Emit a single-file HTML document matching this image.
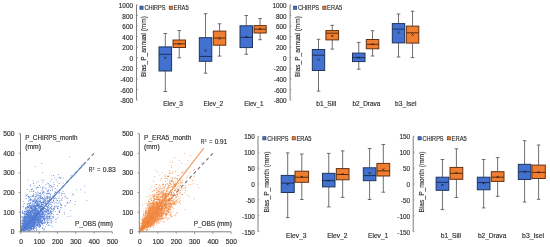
<!DOCTYPE html>
<html><head><meta charset="utf-8"><style>
html,body{margin:0;padding:0;background:#fff;}
svg{display:block;font-family:"Liberation Sans", sans-serif;will-change:transform;}
text{fill:#2e2e2e;stroke:#2e2e2e;stroke-width:0.15px;}
</style></head><body>
<svg width="550" height="247" viewBox="0 0 550 247">
<rect width="550" height="247" fill="#fff"/>
<line x1="136.50" y1="4.90" x2="136.50" y2="100.12" stroke="#808080" stroke-width="1"/>
<line x1="136.50" y1="4.90" x2="137.80" y2="4.90" stroke="#808080" stroke-width="0.8"/>
<text x="133.00" y="8.00" font-size="6.4" text-anchor="end">1000</text>
<line x1="136.50" y1="15.48" x2="137.80" y2="15.48" stroke="#808080" stroke-width="0.8"/>
<text x="133.00" y="18.58" font-size="6.4" text-anchor="end">800</text>
<line x1="136.50" y1="26.06" x2="137.80" y2="26.06" stroke="#808080" stroke-width="0.8"/>
<text x="133.00" y="29.16" font-size="6.4" text-anchor="end">600</text>
<line x1="136.50" y1="36.64" x2="137.80" y2="36.64" stroke="#808080" stroke-width="0.8"/>
<text x="133.00" y="39.74" font-size="6.4" text-anchor="end">400</text>
<line x1="136.50" y1="47.22" x2="137.80" y2="47.22" stroke="#808080" stroke-width="0.8"/>
<text x="133.00" y="50.32" font-size="6.4" text-anchor="end">200</text>
<line x1="136.50" y1="57.80" x2="137.80" y2="57.80" stroke="#808080" stroke-width="0.8"/>
<text x="133.00" y="60.90" font-size="6.4" text-anchor="end">0</text>
<line x1="136.50" y1="68.38" x2="137.80" y2="68.38" stroke="#808080" stroke-width="0.8"/>
<text x="133.00" y="71.48" font-size="6.4" text-anchor="end">-200</text>
<line x1="136.50" y1="78.96" x2="137.80" y2="78.96" stroke="#808080" stroke-width="0.8"/>
<text x="133.00" y="82.06" font-size="6.4" text-anchor="end">-400</text>
<line x1="136.50" y1="89.54" x2="137.80" y2="89.54" stroke="#808080" stroke-width="0.8"/>
<text x="133.00" y="92.64" font-size="6.4" text-anchor="end">-600</text>
<line x1="136.50" y1="100.12" x2="137.80" y2="100.12" stroke="#808080" stroke-width="0.8"/>
<text x="133.00" y="103.22" font-size="6.4" text-anchor="end">-800</text>
<text transform="translate(146.40,46.60) rotate(-90)" x="0" y="0" font-size="6.7" text-anchor="middle" textLength="61.0" lengthAdjust="spacingAndGlyphs">Bias_P_annual (mm)</text>
<rect x="139.90" y="6.10" width="3.2" height="3.2" fill="#4371D0" stroke="#1b2f58" stroke-width="0.6"/>
<text x="144.40" y="10.30" font-size="6.5" text-anchor="start" textLength="21.1" lengthAdjust="spacingAndGlyphs">CHIRPS</text>
<rect x="169.20" y="6.10" width="3.2" height="3.2" fill="#F07E31" stroke="#5c2c0c" stroke-width="0.6"/>
<text x="173.50" y="10.30" font-size="6.5" text-anchor="start" textLength="15.2" lengthAdjust="spacingAndGlyphs">ERA5</text>
<text x="163.20" y="106.00" font-size="6.5" text-anchor="start" textLength="19.6" lengthAdjust="spacingAndGlyphs">Elev_3</text>
<text x="203.50" y="106.00" font-size="6.5" text-anchor="start" textLength="19.6" lengthAdjust="spacingAndGlyphs">Elev_2</text>
<text x="244.30" y="106.00" font-size="6.5" text-anchor="start" textLength="19.2" lengthAdjust="spacingAndGlyphs">Elev_1</text>
<line x1="165.30" y1="33.50" x2="165.30" y2="46.90" stroke="#5f5f5f" stroke-width="0.9"/>
<line x1="165.30" y1="71.00" x2="165.30" y2="91.50" stroke="#5f5f5f" stroke-width="0.9"/>
<line x1="163.50" y1="33.50" x2="167.10" y2="33.50" stroke="#5f5f5f" stroke-width="0.9"/>
<line x1="163.50" y1="91.50" x2="167.10" y2="91.50" stroke="#5f5f5f" stroke-width="0.9"/>
<rect x="159.0" y="46.9" width="12.60" height="24.10" fill="#4371D0" stroke="#1b2f58" stroke-width="0.95"/>
<line x1="159.00" y1="54.30" x2="171.60" y2="54.30" stroke="#1b2f58" stroke-width="1.0"/>
<path d="M164.30 56.70L166.30 58.70M164.30 58.70L166.30 56.70" stroke="#1a1a1a" stroke-width="0.7"/>
<line x1="179.25" y1="30.50" x2="179.25" y2="40.00" stroke="#5f5f5f" stroke-width="0.9"/>
<line x1="179.25" y1="47.50" x2="179.25" y2="57.80" stroke="#5f5f5f" stroke-width="0.9"/>
<line x1="177.45" y1="30.50" x2="181.05" y2="30.50" stroke="#5f5f5f" stroke-width="0.9"/>
<line x1="177.45" y1="57.80" x2="181.05" y2="57.80" stroke="#5f5f5f" stroke-width="0.9"/>
<rect x="173.0" y="40.0" width="12.50" height="7.50" fill="#F07E31" stroke="#5c2c0c" stroke-width="0.95"/>
<line x1="173.00" y1="43.80" x2="185.50" y2="43.80" stroke="#5c2c0c" stroke-width="1.0"/>
<path d="M178.25 42.80L180.25 44.80M178.25 44.80L180.25 42.80" stroke="#1a1a1a" stroke-width="0.7"/>
<line x1="205.55" y1="13.70" x2="205.55" y2="37.70" stroke="#5f5f5f" stroke-width="0.9"/>
<line x1="205.55" y1="61.30" x2="205.55" y2="73.20" stroke="#5f5f5f" stroke-width="0.9"/>
<line x1="203.75" y1="13.70" x2="207.35" y2="13.70" stroke="#5f5f5f" stroke-width="0.9"/>
<line x1="203.75" y1="73.20" x2="207.35" y2="73.20" stroke="#5f5f5f" stroke-width="0.9"/>
<rect x="199.3" y="37.7" width="12.50" height="23.60" fill="#4371D0" stroke="#1b2f58" stroke-width="0.95"/>
<line x1="199.30" y1="56.40" x2="211.80" y2="56.40" stroke="#1b2f58" stroke-width="1.0"/>
<path d="M204.55 49.60L206.55 51.60M204.55 51.60L206.55 49.60" stroke="#1a1a1a" stroke-width="0.7"/>
<line x1="219.55" y1="23.80" x2="219.55" y2="31.10" stroke="#5f5f5f" stroke-width="0.9"/>
<line x1="219.55" y1="45.20" x2="219.55" y2="56.10" stroke="#5f5f5f" stroke-width="0.9"/>
<line x1="217.75" y1="23.80" x2="221.35" y2="23.80" stroke="#5f5f5f" stroke-width="0.9"/>
<line x1="217.75" y1="56.10" x2="221.35" y2="56.10" stroke="#5f5f5f" stroke-width="0.9"/>
<rect x="213.3" y="31.1" width="12.50" height="14.10" fill="#F07E31" stroke="#5c2c0c" stroke-width="0.95"/>
<line x1="213.30" y1="38.00" x2="225.80" y2="38.00" stroke="#5c2c0c" stroke-width="1.0"/>
<path d="M218.55 37.50L220.55 39.50M218.55 39.50L220.55 37.50" stroke="#1a1a1a" stroke-width="0.7"/>
<line x1="246.25" y1="15.50" x2="246.25" y2="25.80" stroke="#5f5f5f" stroke-width="0.9"/>
<line x1="246.25" y1="47.60" x2="246.25" y2="54.30" stroke="#5f5f5f" stroke-width="0.9"/>
<line x1="244.45" y1="15.50" x2="248.05" y2="15.50" stroke="#5f5f5f" stroke-width="0.9"/>
<line x1="244.45" y1="54.30" x2="248.05" y2="54.30" stroke="#5f5f5f" stroke-width="0.9"/>
<rect x="240.0" y="25.8" width="12.50" height="21.80" fill="#4371D0" stroke="#1b2f58" stroke-width="0.95"/>
<line x1="240.00" y1="37.30" x2="252.50" y2="37.30" stroke="#1b2f58" stroke-width="1.0"/>
<path d="M245.25 35.90L247.25 37.90M245.25 37.90L247.25 35.90" stroke="#1a1a1a" stroke-width="0.7"/>
<line x1="260.10" y1="18.50" x2="260.10" y2="25.60" stroke="#5f5f5f" stroke-width="0.9"/>
<line x1="260.10" y1="33.00" x2="260.10" y2="39.70" stroke="#5f5f5f" stroke-width="0.9"/>
<line x1="258.30" y1="18.50" x2="261.90" y2="18.50" stroke="#5f5f5f" stroke-width="0.9"/>
<line x1="258.30" y1="39.70" x2="261.90" y2="39.70" stroke="#5f5f5f" stroke-width="0.9"/>
<rect x="254.0" y="25.6" width="12.20" height="7.40" fill="#F07E31" stroke="#5c2c0c" stroke-width="0.95"/>
<line x1="254.00" y1="29.20" x2="266.20" y2="29.20" stroke="#5c2c0c" stroke-width="1.0"/>
<path d="M259.10 27.80L261.10 29.80M259.10 29.80L261.10 27.80" stroke="#1a1a1a" stroke-width="0.7"/>
<line x1="290.10" y1="4.90" x2="290.10" y2="100.12" stroke="#808080" stroke-width="1"/>
<line x1="290.10" y1="4.90" x2="291.40" y2="4.90" stroke="#808080" stroke-width="0.8"/>
<text x="286.60" y="8.00" font-size="6.4" text-anchor="end">1000</text>
<line x1="290.10" y1="15.48" x2="291.40" y2="15.48" stroke="#808080" stroke-width="0.8"/>
<text x="286.60" y="18.58" font-size="6.4" text-anchor="end">800</text>
<line x1="290.10" y1="26.06" x2="291.40" y2="26.06" stroke="#808080" stroke-width="0.8"/>
<text x="286.60" y="29.16" font-size="6.4" text-anchor="end">600</text>
<line x1="290.10" y1="36.64" x2="291.40" y2="36.64" stroke="#808080" stroke-width="0.8"/>
<text x="286.60" y="39.74" font-size="6.4" text-anchor="end">400</text>
<line x1="290.10" y1="47.22" x2="291.40" y2="47.22" stroke="#808080" stroke-width="0.8"/>
<text x="286.60" y="50.32" font-size="6.4" text-anchor="end">200</text>
<line x1="290.10" y1="57.80" x2="291.40" y2="57.80" stroke="#808080" stroke-width="0.8"/>
<text x="286.60" y="60.90" font-size="6.4" text-anchor="end">0</text>
<line x1="290.10" y1="68.38" x2="291.40" y2="68.38" stroke="#808080" stroke-width="0.8"/>
<text x="286.60" y="71.48" font-size="6.4" text-anchor="end">-200</text>
<line x1="290.10" y1="78.96" x2="291.40" y2="78.96" stroke="#808080" stroke-width="0.8"/>
<text x="286.60" y="82.06" font-size="6.4" text-anchor="end">-400</text>
<line x1="290.10" y1="89.54" x2="291.40" y2="89.54" stroke="#808080" stroke-width="0.8"/>
<text x="286.60" y="92.64" font-size="6.4" text-anchor="end">-600</text>
<line x1="290.10" y1="100.12" x2="291.40" y2="100.12" stroke="#808080" stroke-width="0.8"/>
<text x="286.60" y="103.22" font-size="6.4" text-anchor="end">-800</text>
<text transform="translate(300.00,46.60) rotate(-90)" x="0" y="0" font-size="6.7" text-anchor="middle" textLength="61.0" lengthAdjust="spacingAndGlyphs">Bias_P_annual (mm)</text>
<rect x="293.50" y="6.10" width="3.2" height="3.2" fill="#4371D0" stroke="#1b2f58" stroke-width="0.6"/>
<text x="298.00" y="10.30" font-size="6.5" text-anchor="start" textLength="21.1" lengthAdjust="spacingAndGlyphs">CHIRPS</text>
<rect x="322.80" y="6.10" width="3.2" height="3.2" fill="#F07E31" stroke="#5c2c0c" stroke-width="0.6"/>
<text x="327.10" y="10.30" font-size="6.5" text-anchor="start" textLength="15.2" lengthAdjust="spacingAndGlyphs">ERA5</text>
<text x="316.20" y="106.00" font-size="6.5" text-anchor="start" textLength="20.1" lengthAdjust="spacingAndGlyphs">b1_Sill</text>
<text x="352.40" y="106.00" font-size="6.5" text-anchor="start" textLength="28" lengthAdjust="spacingAndGlyphs">b2_Drava</text>
<text x="395.10" y="106.00" font-size="6.5" text-anchor="start" textLength="21.4" lengthAdjust="spacingAndGlyphs">b3_Isel</text>
<line x1="318.50" y1="39.30" x2="318.50" y2="49.50" stroke="#5f5f5f" stroke-width="0.9"/>
<line x1="318.50" y1="70.50" x2="318.50" y2="91.10" stroke="#5f5f5f" stroke-width="0.9"/>
<line x1="316.70" y1="39.30" x2="320.30" y2="39.30" stroke="#5f5f5f" stroke-width="0.9"/>
<line x1="316.70" y1="91.10" x2="320.30" y2="91.10" stroke="#5f5f5f" stroke-width="0.9"/>
<rect x="312.3" y="49.5" width="12.40" height="21.00" fill="#4371D0" stroke="#1b2f58" stroke-width="0.95"/>
<line x1="312.30" y1="55.20" x2="324.70" y2="55.20" stroke="#1b2f58" stroke-width="1.0"/>
<path d="M317.50 58.50L319.50 60.50M317.50 60.50L319.50 58.50" stroke="#1a1a1a" stroke-width="0.7"/>
<line x1="332.25" y1="25.30" x2="332.25" y2="30.60" stroke="#5f5f5f" stroke-width="0.9"/>
<line x1="332.25" y1="39.90" x2="332.25" y2="49.10" stroke="#5f5f5f" stroke-width="0.9"/>
<line x1="330.45" y1="25.30" x2="334.05" y2="25.30" stroke="#5f5f5f" stroke-width="0.9"/>
<line x1="330.45" y1="49.10" x2="334.05" y2="49.10" stroke="#5f5f5f" stroke-width="0.9"/>
<rect x="325.9" y="30.6" width="12.70" height="9.30" fill="#F07E31" stroke="#5c2c0c" stroke-width="0.95"/>
<line x1="325.90" y1="33.20" x2="338.60" y2="33.20" stroke="#5c2c0c" stroke-width="1.0"/>
<path d="M331.25 34.90L333.25 36.90M331.25 36.90L333.25 34.90" stroke="#1a1a1a" stroke-width="0.7"/>
<line x1="358.75" y1="42.40" x2="358.75" y2="53.10" stroke="#5f5f5f" stroke-width="0.9"/>
<line x1="358.75" y1="61.60" x2="358.75" y2="69.20" stroke="#5f5f5f" stroke-width="0.9"/>
<line x1="356.95" y1="42.40" x2="360.55" y2="42.40" stroke="#5f5f5f" stroke-width="0.9"/>
<line x1="356.95" y1="69.20" x2="360.55" y2="69.20" stroke="#5f5f5f" stroke-width="0.9"/>
<rect x="352.5" y="53.1" width="12.50" height="8.50" fill="#4371D0" stroke="#1b2f58" stroke-width="0.95"/>
<line x1="352.50" y1="57.60" x2="365.00" y2="57.60" stroke="#1b2f58" stroke-width="1.0"/>
<path d="M357.75 56.60L359.75 58.60M357.75 58.60L359.75 56.60" stroke="#1a1a1a" stroke-width="0.7"/>
<line x1="372.55" y1="30.70" x2="372.55" y2="39.50" stroke="#5f5f5f" stroke-width="0.9"/>
<line x1="372.55" y1="48.80" x2="372.55" y2="56.00" stroke="#5f5f5f" stroke-width="0.9"/>
<line x1="370.75" y1="30.70" x2="374.35" y2="30.70" stroke="#5f5f5f" stroke-width="0.9"/>
<line x1="370.75" y1="56.00" x2="374.35" y2="56.00" stroke="#5f5f5f" stroke-width="0.9"/>
<rect x="366.3" y="39.5" width="12.50" height="9.30" fill="#F07E31" stroke="#5c2c0c" stroke-width="0.95"/>
<line x1="366.30" y1="44.30" x2="378.80" y2="44.30" stroke="#5c2c0c" stroke-width="1.0"/>
<path d="M371.55 43.30L373.55 45.30M371.55 45.30L373.55 43.30" stroke="#1a1a1a" stroke-width="0.7"/>
<line x1="398.50" y1="14.00" x2="398.50" y2="23.60" stroke="#5f5f5f" stroke-width="0.9"/>
<line x1="398.50" y1="42.90" x2="398.50" y2="57.00" stroke="#5f5f5f" stroke-width="0.9"/>
<line x1="396.70" y1="14.00" x2="400.30" y2="14.00" stroke="#5f5f5f" stroke-width="0.9"/>
<line x1="396.70" y1="57.00" x2="400.30" y2="57.00" stroke="#5f5f5f" stroke-width="0.9"/>
<rect x="392.3" y="23.6" width="12.40" height="19.30" fill="#4371D0" stroke="#1b2f58" stroke-width="0.95"/>
<line x1="392.30" y1="29.10" x2="404.70" y2="29.10" stroke="#1b2f58" stroke-width="1.0"/>
<path d="M397.50 31.50L399.50 33.50M397.50 33.50L399.50 31.50" stroke="#1a1a1a" stroke-width="0.7"/>
<line x1="412.55" y1="11.20" x2="412.55" y2="26.10" stroke="#5f5f5f" stroke-width="0.9"/>
<line x1="412.55" y1="43.10" x2="412.55" y2="57.60" stroke="#5f5f5f" stroke-width="0.9"/>
<line x1="410.75" y1="11.20" x2="414.35" y2="11.20" stroke="#5f5f5f" stroke-width="0.9"/>
<line x1="410.75" y1="57.60" x2="414.35" y2="57.60" stroke="#5f5f5f" stroke-width="0.9"/>
<rect x="406.3" y="26.1" width="12.50" height="17.00" fill="#F07E31" stroke="#5c2c0c" stroke-width="0.95"/>
<line x1="406.30" y1="32.80" x2="418.80" y2="32.80" stroke="#5c2c0c" stroke-width="1.0"/>
<path d="M411.55 33.60L413.55 35.60M411.55 35.60L413.55 33.60" stroke="#1a1a1a" stroke-width="0.7"/>
<line x1="258.00" y1="136.30" x2="258.00" y2="231.70" stroke="#808080" stroke-width="1"/>
<line x1="258.00" y1="136.30" x2="259.30" y2="136.30" stroke="#808080" stroke-width="0.8"/>
<text x="254.90" y="139.20" font-size="6.4" text-anchor="end">150</text>
<line x1="258.00" y1="152.20" x2="259.30" y2="152.20" stroke="#808080" stroke-width="0.8"/>
<text x="254.90" y="155.10" font-size="6.4" text-anchor="end">100</text>
<line x1="258.00" y1="168.10" x2="259.30" y2="168.10" stroke="#808080" stroke-width="0.8"/>
<text x="254.90" y="171.00" font-size="6.4" text-anchor="end">50</text>
<line x1="258.00" y1="184.00" x2="259.30" y2="184.00" stroke="#808080" stroke-width="0.8"/>
<text x="254.90" y="186.90" font-size="6.4" text-anchor="end">0</text>
<line x1="258.00" y1="199.90" x2="259.30" y2="199.90" stroke="#808080" stroke-width="0.8"/>
<text x="254.90" y="202.80" font-size="6.4" text-anchor="end">-50</text>
<line x1="258.00" y1="215.80" x2="259.30" y2="215.80" stroke="#808080" stroke-width="0.8"/>
<text x="254.90" y="218.70" font-size="6.4" text-anchor="end">-100</text>
<line x1="258.00" y1="231.70" x2="259.30" y2="231.70" stroke="#808080" stroke-width="0.8"/>
<text x="254.90" y="234.60" font-size="6.4" text-anchor="end">-150</text>
<text transform="translate(268.80,182.10) rotate(-90)" x="0" y="0" font-size="6.7" text-anchor="middle" textLength="61.0" lengthAdjust="spacingAndGlyphs">Bias_P_month (mm)</text>
<rect x="262.80" y="136.70" width="3.2" height="3.2" fill="#4371D0" stroke="#1b2f58" stroke-width="0.6"/>
<text x="267.30" y="140.90" font-size="6.5" text-anchor="start" textLength="21.1" lengthAdjust="spacingAndGlyphs">CHIRPS</text>
<rect x="292.10" y="136.70" width="3.2" height="3.2" fill="#F07E31" stroke="#5c2c0c" stroke-width="0.6"/>
<text x="296.40" y="140.90" font-size="6.5" text-anchor="start" textLength="15.2" lengthAdjust="spacingAndGlyphs">ERA5</text>
<text x="286.10" y="238.00" font-size="6.5" text-anchor="start" textLength="20.5" lengthAdjust="spacingAndGlyphs">Elev_3</text>
<text x="327.20" y="238.00" font-size="6.5" text-anchor="start" textLength="20.3" lengthAdjust="spacingAndGlyphs">Elev_2</text>
<text x="368.10" y="238.00" font-size="6.5" text-anchor="start" textLength="20.1" lengthAdjust="spacingAndGlyphs">Elev_1</text>
<line x1="287.70" y1="152.90" x2="287.70" y2="175.40" stroke="#5f5f5f" stroke-width="0.9"/>
<line x1="287.70" y1="192.50" x2="287.70" y2="217.60" stroke="#5f5f5f" stroke-width="0.9"/>
<line x1="285.90" y1="152.90" x2="289.50" y2="152.90" stroke="#5f5f5f" stroke-width="0.9"/>
<line x1="285.90" y1="217.60" x2="289.50" y2="217.60" stroke="#5f5f5f" stroke-width="0.9"/>
<rect x="281.2" y="175.4" width="13.00" height="17.10" fill="#4371D0" stroke="#1b2f58" stroke-width="0.95"/>
<line x1="281.20" y1="183.10" x2="294.20" y2="183.10" stroke="#1b2f58" stroke-width="1.0"/>
<path d="M286.70 183.20L288.70 185.20M286.70 185.20L288.70 183.20" stroke="#1a1a1a" stroke-width="0.7"/>
<line x1="301.80" y1="154.10" x2="301.80" y2="171.20" stroke="#5f5f5f" stroke-width="0.9"/>
<line x1="301.80" y1="182.30" x2="301.80" y2="199.50" stroke="#5f5f5f" stroke-width="0.9"/>
<line x1="300.00" y1="154.10" x2="303.60" y2="154.10" stroke="#5f5f5f" stroke-width="0.9"/>
<line x1="300.00" y1="199.50" x2="303.60" y2="199.50" stroke="#5f5f5f" stroke-width="0.9"/>
<rect x="295.0" y="171.2" width="13.60" height="11.10" fill="#F07E31" stroke="#5c2c0c" stroke-width="0.95"/>
<line x1="295.00" y1="177.20" x2="308.60" y2="177.20" stroke="#5c2c0c" stroke-width="1.0"/>
<path d="M300.80 175.90L302.80 177.90M300.80 177.90L302.80 175.90" stroke="#1a1a1a" stroke-width="0.7"/>
<line x1="328.75" y1="153.40" x2="328.75" y2="173.30" stroke="#5f5f5f" stroke-width="0.9"/>
<line x1="328.75" y1="186.90" x2="328.75" y2="206.90" stroke="#5f5f5f" stroke-width="0.9"/>
<line x1="326.95" y1="153.40" x2="330.55" y2="153.40" stroke="#5f5f5f" stroke-width="0.9"/>
<line x1="326.95" y1="206.90" x2="330.55" y2="206.90" stroke="#5f5f5f" stroke-width="0.9"/>
<rect x="322.5" y="173.3" width="12.50" height="13.60" fill="#4371D0" stroke="#1b2f58" stroke-width="0.95"/>
<line x1="322.50" y1="180.60" x2="335.00" y2="180.60" stroke="#1b2f58" stroke-width="1.0"/>
<path d="M327.75 179.60L329.75 181.60M327.75 181.60L329.75 179.60" stroke="#1a1a1a" stroke-width="0.7"/>
<line x1="342.65" y1="150.90" x2="342.65" y2="168.60" stroke="#5f5f5f" stroke-width="0.9"/>
<line x1="342.65" y1="179.80" x2="342.65" y2="197.40" stroke="#5f5f5f" stroke-width="0.9"/>
<line x1="340.85" y1="150.90" x2="344.45" y2="150.90" stroke="#5f5f5f" stroke-width="0.9"/>
<line x1="340.85" y1="197.40" x2="344.45" y2="197.40" stroke="#5f5f5f" stroke-width="0.9"/>
<rect x="336.3" y="168.6" width="12.70" height="11.20" fill="#F07E31" stroke="#5c2c0c" stroke-width="0.95"/>
<line x1="336.30" y1="174.50" x2="349.00" y2="174.50" stroke="#5c2c0c" stroke-width="1.0"/>
<path d="M341.65 173.10L343.65 175.10M341.65 175.10L343.65 173.10" stroke="#1a1a1a" stroke-width="0.7"/>
<line x1="369.60" y1="148.50" x2="369.60" y2="167.80" stroke="#5f5f5f" stroke-width="0.9"/>
<line x1="369.60" y1="180.70" x2="369.60" y2="199.50" stroke="#5f5f5f" stroke-width="0.9"/>
<line x1="367.80" y1="148.50" x2="371.40" y2="148.50" stroke="#5f5f5f" stroke-width="0.9"/>
<line x1="367.80" y1="199.50" x2="371.40" y2="199.50" stroke="#5f5f5f" stroke-width="0.9"/>
<rect x="363.3" y="167.8" width="12.60" height="12.90" fill="#4371D0" stroke="#1b2f58" stroke-width="0.95"/>
<line x1="363.30" y1="175.60" x2="375.90" y2="175.60" stroke="#1b2f58" stroke-width="1.0"/>
<path d="M368.60 172.10L370.60 174.10M368.60 174.10L370.60 172.10" stroke="#1a1a1a" stroke-width="0.7"/>
<line x1="383.30" y1="144.50" x2="383.30" y2="163.40" stroke="#5f5f5f" stroke-width="0.9"/>
<line x1="383.30" y1="176.00" x2="383.30" y2="192.20" stroke="#5f5f5f" stroke-width="0.9"/>
<line x1="381.50" y1="144.50" x2="385.10" y2="144.50" stroke="#5f5f5f" stroke-width="0.9"/>
<line x1="381.50" y1="192.20" x2="385.10" y2="192.20" stroke="#5f5f5f" stroke-width="0.9"/>
<rect x="376.9" y="163.4" width="12.80" height="12.60" fill="#F07E31" stroke="#5c2c0c" stroke-width="0.95"/>
<line x1="376.90" y1="170.90" x2="389.70" y2="170.90" stroke="#5c2c0c" stroke-width="1.0"/>
<path d="M382.30 168.50L384.30 170.50M382.30 170.50L384.30 168.50" stroke="#1a1a1a" stroke-width="0.7"/>
<line x1="413.20" y1="136.30" x2="413.20" y2="231.70" stroke="#808080" stroke-width="1"/>
<line x1="413.20" y1="136.30" x2="414.50" y2="136.30" stroke="#808080" stroke-width="0.8"/>
<text x="410.10" y="139.20" font-size="6.4" text-anchor="end">150</text>
<line x1="413.20" y1="152.20" x2="414.50" y2="152.20" stroke="#808080" stroke-width="0.8"/>
<text x="410.10" y="155.10" font-size="6.4" text-anchor="end">100</text>
<line x1="413.20" y1="168.10" x2="414.50" y2="168.10" stroke="#808080" stroke-width="0.8"/>
<text x="410.10" y="171.00" font-size="6.4" text-anchor="end">50</text>
<line x1="413.20" y1="184.00" x2="414.50" y2="184.00" stroke="#808080" stroke-width="0.8"/>
<text x="410.10" y="186.90" font-size="6.4" text-anchor="end">0</text>
<line x1="413.20" y1="199.90" x2="414.50" y2="199.90" stroke="#808080" stroke-width="0.8"/>
<text x="410.10" y="202.80" font-size="6.4" text-anchor="end">-50</text>
<line x1="413.20" y1="215.80" x2="414.50" y2="215.80" stroke="#808080" stroke-width="0.8"/>
<text x="410.10" y="218.70" font-size="6.4" text-anchor="end">-100</text>
<line x1="413.20" y1="231.70" x2="414.50" y2="231.70" stroke="#808080" stroke-width="0.8"/>
<text x="410.10" y="234.60" font-size="6.4" text-anchor="end">-150</text>
<text transform="translate(424.00,182.10) rotate(-90)" x="0" y="0" font-size="6.7" text-anchor="middle" textLength="61.0" lengthAdjust="spacingAndGlyphs">Bias_P_month (mm)</text>
<rect x="418.00" y="136.70" width="3.2" height="3.2" fill="#4371D0" stroke="#1b2f58" stroke-width="0.6"/>
<text x="422.50" y="140.90" font-size="6.5" text-anchor="start" textLength="21.1" lengthAdjust="spacingAndGlyphs">CHIRPS</text>
<rect x="447.30" y="136.70" width="3.2" height="3.2" fill="#F07E31" stroke="#5c2c0c" stroke-width="0.6"/>
<text x="451.60" y="140.90" font-size="6.5" text-anchor="start" textLength="15.2" lengthAdjust="spacingAndGlyphs">ERA5</text>
<text x="440.80" y="238.00" font-size="6.5" text-anchor="start" textLength="20.1" lengthAdjust="spacingAndGlyphs">b1_Sill</text>
<text x="477.90" y="238.00" font-size="6.5" text-anchor="start" textLength="28.4" lengthAdjust="spacingAndGlyphs">b2_Drava</text>
<text x="522.10" y="238.00" font-size="6.5" text-anchor="start" textLength="22" lengthAdjust="spacingAndGlyphs">b3_Isel</text>
<line x1="442.45" y1="159.50" x2="442.45" y2="177.20" stroke="#5f5f5f" stroke-width="0.9"/>
<line x1="442.45" y1="190.30" x2="442.45" y2="209.60" stroke="#5f5f5f" stroke-width="0.9"/>
<line x1="440.65" y1="159.50" x2="444.25" y2="159.50" stroke="#5f5f5f" stroke-width="0.9"/>
<line x1="440.65" y1="209.60" x2="444.25" y2="209.60" stroke="#5f5f5f" stroke-width="0.9"/>
<rect x="436.1" y="177.2" width="12.70" height="13.10" fill="#4371D0" stroke="#1b2f58" stroke-width="0.95"/>
<line x1="436.10" y1="182.30" x2="448.80" y2="182.30" stroke="#1b2f58" stroke-width="1.0"/>
<path d="M441.45 184.00L443.45 186.00M441.45 186.00L443.45 184.00" stroke="#1a1a1a" stroke-width="0.7"/>
<line x1="456.40" y1="148.80" x2="456.40" y2="167.40" stroke="#5f5f5f" stroke-width="0.9"/>
<line x1="456.40" y1="179.30" x2="456.40" y2="197.50" stroke="#5f5f5f" stroke-width="0.9"/>
<line x1="454.60" y1="148.80" x2="458.20" y2="148.80" stroke="#5f5f5f" stroke-width="0.9"/>
<line x1="454.60" y1="197.50" x2="458.20" y2="197.50" stroke="#5f5f5f" stroke-width="0.9"/>
<rect x="450.0" y="167.4" width="12.80" height="11.90" fill="#F07E31" stroke="#5c2c0c" stroke-width="0.95"/>
<line x1="450.00" y1="173.30" x2="462.80" y2="173.30" stroke="#5c2c0c" stroke-width="1.0"/>
<path d="M455.40 171.90L457.40 173.90M455.40 173.90L457.40 171.90" stroke="#1a1a1a" stroke-width="0.7"/>
<line x1="483.65" y1="159.50" x2="483.65" y2="177.20" stroke="#5f5f5f" stroke-width="0.9"/>
<line x1="483.65" y1="189.80" x2="483.65" y2="207.90" stroke="#5f5f5f" stroke-width="0.9"/>
<line x1="481.85" y1="159.50" x2="485.45" y2="159.50" stroke="#5f5f5f" stroke-width="0.9"/>
<line x1="481.85" y1="207.90" x2="485.45" y2="207.90" stroke="#5f5f5f" stroke-width="0.9"/>
<rect x="477.3" y="177.2" width="12.70" height="12.60" fill="#4371D0" stroke="#1b2f58" stroke-width="0.95"/>
<line x1="477.30" y1="182.60" x2="490.00" y2="182.60" stroke="#1b2f58" stroke-width="1.0"/>
<path d="M482.65 182.20L484.65 184.20M482.65 184.20L484.65 182.20" stroke="#1a1a1a" stroke-width="0.7"/>
<line x1="497.65" y1="157.60" x2="497.65" y2="171.70" stroke="#5f5f5f" stroke-width="0.9"/>
<line x1="497.65" y1="181.40" x2="497.65" y2="196.30" stroke="#5f5f5f" stroke-width="0.9"/>
<line x1="495.85" y1="157.60" x2="499.45" y2="157.60" stroke="#5f5f5f" stroke-width="0.9"/>
<line x1="495.85" y1="196.30" x2="499.45" y2="196.30" stroke="#5f5f5f" stroke-width="0.9"/>
<rect x="491.3" y="171.7" width="12.70" height="9.70" fill="#F07E31" stroke="#5c2c0c" stroke-width="0.95"/>
<line x1="491.30" y1="177.20" x2="504.00" y2="177.20" stroke="#5c2c0c" stroke-width="1.0"/>
<path d="M496.65 175.90L498.65 177.90M496.65 177.90L498.65 175.90" stroke="#1a1a1a" stroke-width="0.7"/>
<line x1="524.60" y1="140.70" x2="524.60" y2="164.30" stroke="#5f5f5f" stroke-width="0.9"/>
<line x1="524.60" y1="179.50" x2="524.60" y2="202.00" stroke="#5f5f5f" stroke-width="0.9"/>
<line x1="522.80" y1="140.70" x2="526.40" y2="140.70" stroke="#5f5f5f" stroke-width="0.9"/>
<line x1="522.80" y1="202.00" x2="526.40" y2="202.00" stroke="#5f5f5f" stroke-width="0.9"/>
<rect x="518.3" y="164.3" width="12.60" height="15.20" fill="#4371D0" stroke="#1b2f58" stroke-width="0.95"/>
<line x1="518.30" y1="171.80" x2="530.90" y2="171.80" stroke="#1b2f58" stroke-width="1.0"/>
<path d="M523.60 170.60L525.60 172.60M523.60 172.60L525.60 170.60" stroke="#1a1a1a" stroke-width="0.7"/>
<line x1="538.60" y1="145.00" x2="538.60" y2="165.10" stroke="#5f5f5f" stroke-width="0.9"/>
<line x1="538.60" y1="178.50" x2="538.60" y2="199.30" stroke="#5f5f5f" stroke-width="0.9"/>
<line x1="536.80" y1="145.00" x2="540.40" y2="145.00" stroke="#5f5f5f" stroke-width="0.9"/>
<line x1="536.80" y1="199.30" x2="540.40" y2="199.30" stroke="#5f5f5f" stroke-width="0.9"/>
<rect x="531.9" y="165.1" width="13.40" height="13.40" fill="#F07E31" stroke="#5c2c0c" stroke-width="0.95"/>
<line x1="531.90" y1="172.40" x2="545.30" y2="172.40" stroke="#5c2c0c" stroke-width="1.0"/>
<path d="M537.60 171.20L539.60 173.20M537.60 173.20L539.60 171.20" stroke="#1a1a1a" stroke-width="0.7"/>
<line x1="94.00" y1="153.32" x2="20.80" y2="231.80" stroke="#727272" stroke-width="1.1" stroke-dasharray="3.4,2.8"/>
<line x1="20.80" y1="231.80" x2="85.80" y2="162.20" stroke="#5a86d0" stroke-width="1.1"/>
<path d="M54.9 188.1h.8v.8h-.8zM37.1 213.2h.8v.8h-.8zM33.6 224.4h.8v.8h-.8zM22.7 228.2h.8v.8h-.8zM31.8 227.8h.8v.8h-.8zM37.4 217.2h.8v.8h-.8zM28.7 216.6h.8v.8h-.8zM25.9 223.7h.8v.8h-.8zM41.4 216.5h.8v.8h-.8zM46.1 210.7h.8v.8h-.8zM35.8 219.2h.8v.8h-.8zM43.0 216.9h.8v.8h-.8zM33.8 220.5h.8v.8h-.8zM61.4 198.6h.8v.8h-.8zM34.9 222.7h.8v.8h-.8zM27.2 223.1h.8v.8h-.8zM51.3 218.0h.8v.8h-.8zM39.3 221.8h.8v.8h-.8zM29.7 226.7h.8v.8h-.8zM39.0 218.0h.8v.8h-.8zM36.3 227.2h.8v.8h-.8zM29.8 212.8h.8v.8h-.8zM35.8 187.7h.8v.8h-.8zM23.8 203.3h.8v.8h-.8zM36.9 224.3h.8v.8h-.8zM39.6 212.4h.8v.8h-.8zM34.0 221.3h.8v.8h-.8zM36.3 216.1h.8v.8h-.8zM35.0 205.1h.8v.8h-.8zM24.5 227.5h.8v.8h-.8zM30.8 227.9h.8v.8h-.8zM22.9 228.5h.8v.8h-.8zM28.4 197.6h.8v.8h-.8zM22.3 228.5h.8v.8h-.8zM27.6 204.8h.8v.8h-.8zM49.0 196.4h.8v.8h-.8zM33.2 210.2h.8v.8h-.8zM33.8 185.5h.8v.8h-.8zM34.2 223.9h.8v.8h-.8zM37.6 181.3h.8v.8h-.8zM31.0 199.3h.8v.8h-.8zM37.1 214.6h.8v.8h-.8zM24.9 219.7h.8v.8h-.8zM47.9 201.6h.8v.8h-.8zM27.1 219.4h.8v.8h-.8zM33.9 213.6h.8v.8h-.8zM27.3 227.1h.8v.8h-.8zM25.5 208.7h.8v.8h-.8zM30.2 198.4h.8v.8h-.8zM30.0 218.5h.8v.8h-.8zM27.4 214.6h.8v.8h-.8zM25.3 220.0h.8v.8h-.8zM32.7 218.2h.8v.8h-.8zM26.7 205.8h.8v.8h-.8zM42.6 192.3h.8v.8h-.8zM24.6 230.3h.8v.8h-.8zM36.1 229.3h.8v.8h-.8zM46.7 208.6h.8v.8h-.8zM26.1 223.0h.8v.8h-.8zM33.6 216.6h.8v.8h-.8zM59.0 192.2h.8v.8h-.8zM44.9 213.9h.8v.8h-.8zM55.9 198.5h.8v.8h-.8zM40.0 193.2h.8v.8h-.8zM28.7 215.3h.8v.8h-.8zM51.8 201.9h.8v.8h-.8zM33.2 221.8h.8v.8h-.8zM33.3 207.8h.8v.8h-.8zM29.2 225.9h.8v.8h-.8zM60.0 178.0h.8v.8h-.8zM28.3 220.2h.8v.8h-.8zM27.1 227.7h.8v.8h-.8zM42.4 209.3h.8v.8h-.8zM35.7 213.4h.8v.8h-.8zM37.9 219.4h.8v.8h-.8zM36.6 224.9h.8v.8h-.8zM35.0 216.8h.8v.8h-.8zM30.9 221.9h.8v.8h-.8zM28.5 217.2h.8v.8h-.8zM30.3 220.2h.8v.8h-.8zM38.7 206.2h.8v.8h-.8zM70.1 215.8h.8v.8h-.8zM48.6 215.8h.8v.8h-.8zM33.1 214.4h.8v.8h-.8zM40.1 201.1h.8v.8h-.8zM41.2 222.7h.8v.8h-.8zM32.2 220.4h.8v.8h-.8zM33.5 201.0h.8v.8h-.8zM70.1 200.1h.8v.8h-.8zM74.4 204.3h.8v.8h-.8zM31.3 220.9h.8v.8h-.8zM31.8 200.6h.8v.8h-.8zM35.4 212.1h.8v.8h-.8zM46.7 193.1h.8v.8h-.8zM37.0 198.7h.8v.8h-.8zM28.2 225.1h.8v.8h-.8zM25.9 225.1h.8v.8h-.8zM48.7 211.7h.8v.8h-.8zM37.7 209.4h.8v.8h-.8zM35.0 213.9h.8v.8h-.8zM30.4 218.3h.8v.8h-.8zM42.2 211.3h.8v.8h-.8zM35.5 206.5h.8v.8h-.8zM48.6 209.1h.8v.8h-.8zM26.4 221.5h.8v.8h-.8zM24.9 216.6h.8v.8h-.8zM35.4 218.5h.8v.8h-.8zM30.6 217.2h.8v.8h-.8zM35.6 222.6h.8v.8h-.8zM33.7 220.0h.8v.8h-.8zM39.7 199.7h.8v.8h-.8zM24.5 229.7h.8v.8h-.8zM34.9 220.8h.8v.8h-.8zM47.2 221.7h.8v.8h-.8zM25.2 229.1h.8v.8h-.8zM29.0 214.8h.8v.8h-.8zM23.7 223.1h.8v.8h-.8zM36.4 205.6h.8v.8h-.8zM32.1 225.6h.8v.8h-.8zM30.0 222.2h.8v.8h-.8zM31.4 211.2h.8v.8h-.8zM26.3 221.0h.8v.8h-.8zM58.8 183.1h.8v.8h-.8zM30.0 211.2h.8v.8h-.8zM36.8 221.5h.8v.8h-.8zM28.3 219.9h.8v.8h-.8zM32.4 213.1h.8v.8h-.8zM28.2 227.4h.8v.8h-.8zM34.4 220.2h.8v.8h-.8zM23.7 220.0h.8v.8h-.8zM35.6 208.5h.8v.8h-.8zM46.6 216.1h.8v.8h-.8zM40.4 210.4h.8v.8h-.8zM41.8 209.0h.8v.8h-.8zM33.3 218.6h.8v.8h-.8zM40.1 195.7h.8v.8h-.8zM27.6 216.6h.8v.8h-.8zM43.1 180.2h.8v.8h-.8zM36.6 222.1h.8v.8h-.8zM39.5 196.7h.8v.8h-.8zM40.6 218.0h.8v.8h-.8zM25.2 220.2h.8v.8h-.8zM34.1 207.6h.8v.8h-.8zM27.7 207.2h.8v.8h-.8zM26.5 218.4h.8v.8h-.8zM27.5 223.6h.8v.8h-.8zM30.8 215.7h.8v.8h-.8zM29.8 212.5h.8v.8h-.8zM34.2 226.8h.8v.8h-.8zM28.4 227.3h.8v.8h-.8zM35.2 212.2h.8v.8h-.8zM23.0 226.3h.8v.8h-.8zM37.3 203.6h.8v.8h-.8zM48.2 213.5h.8v.8h-.8zM28.3 211.1h.8v.8h-.8zM25.5 225.6h.8v.8h-.8zM38.2 204.1h.8v.8h-.8zM35.5 208.8h.8v.8h-.8zM38.3 216.8h.8v.8h-.8zM34.3 223.3h.8v.8h-.8zM21.1 223.3h.8v.8h-.8zM26.1 224.4h.8v.8h-.8zM30.0 200.2h.8v.8h-.8zM84.4 185.4h.8v.8h-.8zM30.8 223.9h.8v.8h-.8zM40.0 217.5h.8v.8h-.8zM37.6 197.9h.8v.8h-.8zM29.2 222.0h.8v.8h-.8zM31.4 224.7h.8v.8h-.8zM43.6 191.8h.8v.8h-.8zM39.2 219.7h.8v.8h-.8zM41.2 223.4h.8v.8h-.8zM37.6 219.8h.8v.8h-.8zM30.6 225.9h.8v.8h-.8zM43.5 216.7h.8v.8h-.8zM33.0 222.1h.8v.8h-.8zM48.3 218.4h.8v.8h-.8zM36.1 214.7h.8v.8h-.8zM50.4 209.9h.8v.8h-.8zM31.5 216.6h.8v.8h-.8zM26.7 222.7h.8v.8h-.8zM28.6 222.2h.8v.8h-.8zM27.3 226.8h.8v.8h-.8zM36.1 216.8h.8v.8h-.8zM43.0 214.2h.8v.8h-.8zM41.6 210.7h.8v.8h-.8zM46.1 188.8h.8v.8h-.8zM28.5 213.8h.8v.8h-.8zM26.8 214.0h.8v.8h-.8zM30.9 218.8h.8v.8h-.8zM33.2 205.6h.8v.8h-.8zM50.0 218.3h.8v.8h-.8zM21.3 226.0h.8v.8h-.8zM35.3 203.2h.8v.8h-.8zM42.6 216.2h.8v.8h-.8zM30.2 219.7h.8v.8h-.8zM45.4 199.2h.8v.8h-.8zM31.2 222.4h.8v.8h-.8zM34.4 220.7h.8v.8h-.8zM40.3 215.7h.8v.8h-.8zM48.8 200.9h.8v.8h-.8zM45.3 209.3h.8v.8h-.8zM51.3 211.2h.8v.8h-.8zM32.8 213.9h.8v.8h-.8zM37.5 205.8h.8v.8h-.8zM47.4 197.4h.8v.8h-.8zM52.6 186.2h.8v.8h-.8zM29.6 198.9h.8v.8h-.8zM28.6 217.5h.8v.8h-.8zM40.9 210.1h.8v.8h-.8zM31.6 223.5h.8v.8h-.8zM41.4 204.1h.8v.8h-.8zM29.8 211.5h.8v.8h-.8zM38.3 218.8h.8v.8h-.8zM25.4 223.1h.8v.8h-.8zM37.6 219.3h.8v.8h-.8zM34.0 226.7h.8v.8h-.8zM40.2 215.1h.8v.8h-.8zM24.7 217.1h.8v.8h-.8zM40.5 208.4h.8v.8h-.8zM44.2 218.2h.8v.8h-.8zM24.9 224.8h.8v.8h-.8zM28.5 218.3h.8v.8h-.8zM28.7 219.1h.8v.8h-.8zM37.6 222.5h.8v.8h-.8zM38.2 199.8h.8v.8h-.8zM32.2 223.2h.8v.8h-.8zM32.8 191.1h.8v.8h-.8zM57.5 214.3h.8v.8h-.8zM35.5 222.0h.8v.8h-.8zM31.6 221.5h.8v.8h-.8zM46.7 216.9h.8v.8h-.8zM33.3 218.4h.8v.8h-.8zM61.1 204.9h.8v.8h-.8zM36.9 222.5h.8v.8h-.8zM21.9 228.7h.8v.8h-.8zM40.4 224.7h.8v.8h-.8zM36.5 204.5h.8v.8h-.8zM32.1 219.3h.8v.8h-.8zM29.5 229.4h.8v.8h-.8zM39.1 200.7h.8v.8h-.8zM22.5 223.4h.8v.8h-.8zM34.6 218.9h.8v.8h-.8zM25.6 213.6h.8v.8h-.8zM31.1 217.0h.8v.8h-.8zM35.6 212.3h.8v.8h-.8zM40.8 194.0h.8v.8h-.8zM49.8 211.6h.8v.8h-.8zM36.6 206.5h.8v.8h-.8zM44.5 211.4h.8v.8h-.8zM50.0 196.6h.8v.8h-.8zM37.2 211.1h.8v.8h-.8zM61.4 206.9h.8v.8h-.8zM31.4 219.3h.8v.8h-.8zM32.7 223.2h.8v.8h-.8zM32.9 216.7h.8v.8h-.8zM55.0 192.2h.8v.8h-.8zM38.6 222.0h.8v.8h-.8zM44.4 215.5h.8v.8h-.8zM24.0 217.4h.8v.8h-.8zM29.7 202.6h.8v.8h-.8zM30.2 221.5h.8v.8h-.8zM36.0 210.1h.8v.8h-.8zM33.9 211.7h.8v.8h-.8zM42.6 218.6h.8v.8h-.8zM27.5 215.8h.8v.8h-.8zM35.3 213.7h.8v.8h-.8zM26.4 225.9h.8v.8h-.8zM42.6 186.4h.8v.8h-.8zM35.5 211.8h.8v.8h-.8zM48.6 217.5h.8v.8h-.8zM54.6 201.7h.8v.8h-.8zM50.2 207.1h.8v.8h-.8zM33.6 223.5h.8v.8h-.8zM46.1 212.1h.8v.8h-.8zM33.0 222.7h.8v.8h-.8zM25.0 228.6h.8v.8h-.8zM30.0 202.2h.8v.8h-.8zM43.8 203.0h.8v.8h-.8zM23.7 224.1h.8v.8h-.8zM28.9 213.5h.8v.8h-.8zM33.3 196.4h.8v.8h-.8zM42.4 204.1h.8v.8h-.8zM31.4 218.5h.8v.8h-.8zM26.5 222.4h.8v.8h-.8zM47.1 215.8h.8v.8h-.8zM39.5 216.2h.8v.8h-.8zM31.6 205.3h.8v.8h-.8zM41.8 196.9h.8v.8h-.8zM28.7 223.1h.8v.8h-.8zM32.1 222.4h.8v.8h-.8zM40.9 202.8h.8v.8h-.8zM32.7 227.8h.8v.8h-.8zM52.6 209.6h.8v.8h-.8zM33.3 193.6h.8v.8h-.8zM38.0 206.6h.8v.8h-.8zM39.4 207.8h.8v.8h-.8zM28.6 225.8h.8v.8h-.8zM34.0 217.5h.8v.8h-.8zM51.3 209.1h.8v.8h-.8zM27.2 221.1h.8v.8h-.8zM29.8 218.2h.8v.8h-.8zM28.0 223.2h.8v.8h-.8zM28.6 206.6h.8v.8h-.8zM24.0 224.4h.8v.8h-.8zM47.0 218.0h.8v.8h-.8zM40.4 198.5h.8v.8h-.8zM27.2 204.2h.8v.8h-.8zM62.7 182.8h.8v.8h-.8zM24.2 220.0h.8v.8h-.8zM30.5 216.6h.8v.8h-.8zM22.9 230.1h.8v.8h-.8zM30.5 223.6h.8v.8h-.8zM33.7 219.7h.8v.8h-.8zM35.8 224.4h.8v.8h-.8zM38.1 211.9h.8v.8h-.8zM33.6 222.5h.8v.8h-.8zM28.0 206.5h.8v.8h-.8zM48.7 198.1h.8v.8h-.8zM49.7 213.2h.8v.8h-.8zM43.3 219.2h.8v.8h-.8zM24.4 219.6h.8v.8h-.8zM35.1 215.5h.8v.8h-.8zM34.1 224.8h.8v.8h-.8zM26.2 227.3h.8v.8h-.8zM31.2 217.4h.8v.8h-.8zM28.3 222.1h.8v.8h-.8zM24.5 209.8h.8v.8h-.8zM48.1 193.1h.8v.8h-.8zM48.7 206.5h.8v.8h-.8zM35.9 227.6h.8v.8h-.8zM28.7 217.7h.8v.8h-.8zM27.8 220.0h.8v.8h-.8zM51.4 198.0h.8v.8h-.8zM25.1 220.6h.8v.8h-.8zM27.7 222.6h.8v.8h-.8zM31.3 216.7h.8v.8h-.8zM41.3 162.9h.8v.8h-.8zM34.6 223.7h.8v.8h-.8zM44.7 187.6h.8v.8h-.8zM29.6 211.6h.8v.8h-.8zM33.9 220.9h.8v.8h-.8zM21.9 206.2h.8v.8h-.8zM28.0 229.3h.8v.8h-.8zM37.7 205.6h.8v.8h-.8zM39.9 219.4h.8v.8h-.8zM61.3 204.3h.8v.8h-.8zM31.8 217.8h.8v.8h-.8zM23.0 229.2h.8v.8h-.8zM30.2 216.0h.8v.8h-.8zM46.9 201.3h.8v.8h-.8zM24.2 228.6h.8v.8h-.8zM36.5 216.7h.8v.8h-.8zM27.3 227.4h.8v.8h-.8zM36.7 210.0h.8v.8h-.8zM28.7 212.4h.8v.8h-.8zM54.1 196.2h.8v.8h-.8zM31.3 220.6h.8v.8h-.8zM31.5 217.6h.8v.8h-.8zM29.8 229.2h.8v.8h-.8zM29.3 229.7h.8v.8h-.8zM35.8 217.3h.8v.8h-.8zM35.9 201.5h.8v.8h-.8zM24.6 217.9h.8v.8h-.8zM26.6 216.4h.8v.8h-.8zM41.3 206.3h.8v.8h-.8zM30.7 222.5h.8v.8h-.8zM30.3 219.7h.8v.8h-.8zM33.6 220.9h.8v.8h-.8zM32.5 217.7h.8v.8h-.8zM38.8 205.1h.8v.8h-.8zM34.3 217.9h.8v.8h-.8zM30.3 228.7h.8v.8h-.8zM21.8 224.2h.8v.8h-.8zM31.9 223.9h.8v.8h-.8zM57.5 205.7h.8v.8h-.8zM32.8 203.5h.8v.8h-.8zM36.6 224.5h.8v.8h-.8zM25.1 229.3h.8v.8h-.8zM46.7 192.7h.8v.8h-.8zM21.9 213.0h.8v.8h-.8zM26.5 216.5h.8v.8h-.8zM28.6 228.1h.8v.8h-.8zM23.8 210.9h.8v.8h-.8zM34.6 221.8h.8v.8h-.8zM27.1 219.6h.8v.8h-.8zM26.3 229.9h.8v.8h-.8zM36.6 206.5h.8v.8h-.8zM36.2 208.4h.8v.8h-.8zM26.0 229.6h.8v.8h-.8zM51.8 213.3h.8v.8h-.8zM30.8 210.5h.8v.8h-.8zM34.4 207.6h.8v.8h-.8zM32.3 223.8h.8v.8h-.8zM34.7 215.7h.8v.8h-.8zM22.8 227.2h.8v.8h-.8zM30.6 225.7h.8v.8h-.8zM42.9 222.7h.8v.8h-.8zM35.3 214.3h.8v.8h-.8zM33.8 216.3h.8v.8h-.8zM26.9 220.9h.8v.8h-.8zM43.9 214.2h.8v.8h-.8zM54.1 205.9h.8v.8h-.8zM46.5 211.5h.8v.8h-.8zM28.2 222.8h.8v.8h-.8zM30.8 205.9h.8v.8h-.8zM33.1 215.9h.8v.8h-.8zM47.6 209.6h.8v.8h-.8zM29.0 208.3h.8v.8h-.8zM39.3 212.6h.8v.8h-.8zM30.3 212.0h.8v.8h-.8zM37.2 186.7h.8v.8h-.8zM22.3 219.6h.8v.8h-.8zM25.3 228.2h.8v.8h-.8zM28.7 226.8h.8v.8h-.8zM44.0 215.3h.8v.8h-.8zM24.3 226.2h.8v.8h-.8zM21.8 226.6h.8v.8h-.8zM37.7 222.4h.8v.8h-.8zM30.8 222.7h.8v.8h-.8zM50.1 202.6h.8v.8h-.8zM35.9 219.2h.8v.8h-.8zM26.8 221.0h.8v.8h-.8zM22.7 219.1h.8v.8h-.8zM26.7 226.3h.8v.8h-.8zM35.4 219.4h.8v.8h-.8zM26.4 227.8h.8v.8h-.8zM35.5 216.9h.8v.8h-.8zM25.8 221.1h.8v.8h-.8zM33.2 221.2h.8v.8h-.8zM31.9 204.7h.8v.8h-.8zM22.7 229.1h.8v.8h-.8zM52.0 211.2h.8v.8h-.8zM43.2 209.4h.8v.8h-.8zM24.2 224.9h.8v.8h-.8zM34.7 216.7h.8v.8h-.8zM27.4 228.4h.8v.8h-.8zM27.8 220.6h.8v.8h-.8zM32.0 224.4h.8v.8h-.8zM30.7 223.1h.8v.8h-.8zM30.6 213.6h.8v.8h-.8zM25.0 222.4h.8v.8h-.8zM45.8 196.7h.8v.8h-.8zM29.6 225.4h.8v.8h-.8zM35.6 193.7h.8v.8h-.8zM42.6 211.1h.8v.8h-.8zM26.8 189.3h.8v.8h-.8zM56.8 202.7h.8v.8h-.8zM56.5 205.7h.8v.8h-.8zM43.8 208.1h.8v.8h-.8zM23.1 224.7h.8v.8h-.8zM31.1 226.3h.8v.8h-.8zM26.1 223.7h.8v.8h-.8zM37.9 221.1h.8v.8h-.8zM35.5 215.4h.8v.8h-.8zM25.7 219.6h.8v.8h-.8zM49.9 180.8h.8v.8h-.8zM36.8 220.1h.8v.8h-.8zM38.0 209.6h.8v.8h-.8zM25.7 223.1h.8v.8h-.8zM37.5 217.9h.8v.8h-.8zM27.5 225.9h.8v.8h-.8zM28.3 222.9h.8v.8h-.8zM31.9 216.0h.8v.8h-.8zM34.1 214.9h.8v.8h-.8zM27.4 179.8h.8v.8h-.8zM25.3 227.9h.8v.8h-.8zM35.9 216.2h.8v.8h-.8zM25.5 218.6h.8v.8h-.8zM33.5 211.9h.8v.8h-.8zM55.5 221.6h.8v.8h-.8zM27.7 224.2h.8v.8h-.8zM35.1 202.6h.8v.8h-.8zM31.2 219.0h.8v.8h-.8zM35.1 220.3h.8v.8h-.8zM25.6 224.9h.8v.8h-.8zM26.3 214.7h.8v.8h-.8zM27.5 220.9h.8v.8h-.8zM59.5 200.2h.8v.8h-.8zM43.3 216.3h.8v.8h-.8zM64.4 205.0h.8v.8h-.8zM27.2 221.7h.8v.8h-.8zM31.3 206.6h.8v.8h-.8zM34.5 210.1h.8v.8h-.8zM25.3 215.7h.8v.8h-.8zM34.9 218.3h.8v.8h-.8zM42.2 172.3h.8v.8h-.8zM33.9 225.2h.8v.8h-.8zM34.2 202.6h.8v.8h-.8zM36.5 214.5h.8v.8h-.8zM25.3 226.7h.8v.8h-.8zM33.3 223.4h.8v.8h-.8zM40.2 213.7h.8v.8h-.8zM69.2 156.5h.8v.8h-.8zM40.2 216.7h.8v.8h-.8zM40.0 205.2h.8v.8h-.8zM44.6 212.5h.8v.8h-.8zM31.2 228.7h.8v.8h-.8zM41.7 197.9h.8v.8h-.8zM29.3 225.0h.8v.8h-.8zM33.0 217.7h.8v.8h-.8zM26.0 213.0h.8v.8h-.8zM30.5 202.6h.8v.8h-.8zM37.1 220.0h.8v.8h-.8zM36.8 212.6h.8v.8h-.8zM23.6 222.9h.8v.8h-.8zM31.4 220.8h.8v.8h-.8zM46.6 218.0h.8v.8h-.8zM32.9 203.5h.8v.8h-.8zM31.9 188.5h.8v.8h-.8zM33.6 209.5h.8v.8h-.8zM23.1 229.5h.8v.8h-.8zM30.1 226.4h.8v.8h-.8zM38.7 217.6h.8v.8h-.8zM35.5 218.1h.8v.8h-.8zM47.0 206.6h.8v.8h-.8zM41.7 217.5h.8v.8h-.8zM35.1 220.8h.8v.8h-.8zM29.6 214.7h.8v.8h-.8zM27.0 225.3h.8v.8h-.8zM24.0 227.2h.8v.8h-.8zM46.4 200.8h.8v.8h-.8zM23.9 220.7h.8v.8h-.8zM33.6 200.8h.8v.8h-.8zM25.0 225.7h.8v.8h-.8zM41.3 222.1h.8v.8h-.8zM30.2 207.0h.8v.8h-.8zM33.0 210.4h.8v.8h-.8zM32.5 219.8h.8v.8h-.8zM34.3 200.8h.8v.8h-.8zM24.1 226.1h.8v.8h-.8zM46.9 206.3h.8v.8h-.8zM31.2 190.9h.8v.8h-.8zM23.2 216.4h.8v.8h-.8zM44.1 228.7h.8v.8h-.8zM27.7 210.9h.8v.8h-.8zM27.5 224.1h.8v.8h-.8zM33.3 190.6h.8v.8h-.8zM50.9 213.0h.8v.8h-.8zM34.2 210.1h.8v.8h-.8zM32.4 221.8h.8v.8h-.8zM30.1 220.8h.8v.8h-.8zM39.8 209.6h.8v.8h-.8zM34.3 209.8h.8v.8h-.8zM38.2 220.6h.8v.8h-.8zM45.3 210.5h.8v.8h-.8zM24.2 226.2h.8v.8h-.8zM53.1 208.0h.8v.8h-.8zM33.0 216.0h.8v.8h-.8zM43.2 218.3h.8v.8h-.8zM37.5 211.7h.8v.8h-.8zM45.9 217.9h.8v.8h-.8zM32.8 227.8h.8v.8h-.8zM44.8 208.1h.8v.8h-.8zM27.5 211.5h.8v.8h-.8zM25.5 221.0h.8v.8h-.8zM35.2 197.9h.8v.8h-.8zM40.0 203.5h.8v.8h-.8zM30.4 220.4h.8v.8h-.8zM32.4 211.9h.8v.8h-.8zM38.8 220.9h.8v.8h-.8zM30.0 221.2h.8v.8h-.8zM38.3 219.3h.8v.8h-.8zM27.5 213.1h.8v.8h-.8zM33.0 213.7h.8v.8h-.8zM27.8 225.9h.8v.8h-.8zM42.5 206.5h.8v.8h-.8zM42.2 193.0h.8v.8h-.8zM38.7 211.7h.8v.8h-.8zM25.3 225.1h.8v.8h-.8zM35.2 208.9h.8v.8h-.8zM55.8 192.6h.8v.8h-.8zM22.5 211.9h.8v.8h-.8zM28.0 220.1h.8v.8h-.8zM26.7 227.2h.8v.8h-.8zM53.7 202.9h.8v.8h-.8zM25.7 198.3h.8v.8h-.8zM40.2 206.3h.8v.8h-.8zM30.2 226.4h.8v.8h-.8zM42.9 223.0h.8v.8h-.8zM30.4 214.3h.8v.8h-.8zM34.9 166.2h.8v.8h-.8zM24.4 223.6h.8v.8h-.8zM38.4 213.4h.8v.8h-.8zM30.1 208.1h.8v.8h-.8zM39.4 212.9h.8v.8h-.8zM42.5 209.8h.8v.8h-.8zM28.6 223.4h.8v.8h-.8zM31.8 222.3h.8v.8h-.8zM38.6 222.8h.8v.8h-.8zM34.3 213.5h.8v.8h-.8zM22.1 216.2h.8v.8h-.8zM40.3 222.1h.8v.8h-.8zM44.0 216.9h.8v.8h-.8zM43.0 197.9h.8v.8h-.8zM53.7 198.3h.8v.8h-.8zM30.5 220.5h.8v.8h-.8zM42.5 202.2h.8v.8h-.8zM39.4 200.9h.8v.8h-.8zM38.9 208.0h.8v.8h-.8zM33.6 209.3h.8v.8h-.8zM35.5 204.9h.8v.8h-.8zM38.9 215.9h.8v.8h-.8zM34.0 205.4h.8v.8h-.8zM37.8 210.4h.8v.8h-.8zM30.9 225.9h.8v.8h-.8zM26.3 211.2h.8v.8h-.8zM29.2 224.9h.8v.8h-.8zM23.3 225.3h.8v.8h-.8zM35.5 219.1h.8v.8h-.8zM25.8 217.7h.8v.8h-.8zM44.4 220.0h.8v.8h-.8zM27.5 225.2h.8v.8h-.8zM29.8 223.1h.8v.8h-.8zM42.9 213.1h.8v.8h-.8zM41.4 162.9h.8v.8h-.8zM36.0 225.2h.8v.8h-.8zM37.7 218.9h.8v.8h-.8zM46.8 206.7h.8v.8h-.8zM26.0 214.7h.8v.8h-.8zM30.8 219.2h.8v.8h-.8zM31.7 224.5h.8v.8h-.8zM32.0 216.3h.8v.8h-.8zM46.6 210.3h.8v.8h-.8zM28.6 224.7h.8v.8h-.8zM25.1 207.2h.8v.8h-.8zM40.4 216.3h.8v.8h-.8zM32.6 218.4h.8v.8h-.8zM23.2 227.5h.8v.8h-.8zM32.4 228.8h.8v.8h-.8zM48.7 200.6h.8v.8h-.8zM34.3 225.7h.8v.8h-.8zM42.2 227.2h.8v.8h-.8zM36.5 209.0h.8v.8h-.8zM35.2 216.0h.8v.8h-.8zM37.2 205.9h.8v.8h-.8zM64.1 213.7h.8v.8h-.8zM32.0 196.0h.8v.8h-.8zM22.4 223.2h.8v.8h-.8zM31.6 225.2h.8v.8h-.8zM41.8 202.3h.8v.8h-.8zM28.7 224.4h.8v.8h-.8zM41.4 197.8h.8v.8h-.8zM24.2 226.1h.8v.8h-.8zM31.9 217.4h.8v.8h-.8zM41.0 205.8h.8v.8h-.8zM50.3 207.9h.8v.8h-.8zM42.4 216.8h.8v.8h-.8zM28.3 224.9h.8v.8h-.8zM35.4 207.5h.8v.8h-.8zM42.8 209.8h.8v.8h-.8zM42.9 204.4h.8v.8h-.8zM38.7 220.2h.8v.8h-.8zM40.4 207.7h.8v.8h-.8zM32.5 211.3h.8v.8h-.8zM32.8 217.1h.8v.8h-.8zM76.1 189.5h.8v.8h-.8zM26.5 210.9h.8v.8h-.8zM27.0 219.7h.8v.8h-.8zM35.6 221.2h.8v.8h-.8zM24.9 220.8h.8v.8h-.8zM41.9 210.0h.8v.8h-.8zM36.7 205.7h.8v.8h-.8zM37.3 214.0h.8v.8h-.8zM47.2 219.4h.8v.8h-.8zM33.5 219.6h.8v.8h-.8zM20.8 220.4h.8v.8h-.8zM31.1 204.4h.8v.8h-.8zM32.1 216.1h.8v.8h-.8zM36.5 217.7h.8v.8h-.8zM35.7 222.9h.8v.8h-.8zM37.6 216.3h.8v.8h-.8zM28.1 216.7h.8v.8h-.8zM33.8 201.2h.8v.8h-.8zM26.9 205.8h.8v.8h-.8zM37.9 223.4h.8v.8h-.8zM46.7 210.9h.8v.8h-.8zM38.1 205.1h.8v.8h-.8zM29.8 224.8h.8v.8h-.8zM28.1 216.5h.8v.8h-.8zM30.3 224.5h.8v.8h-.8zM30.6 213.7h.8v.8h-.8zM28.4 225.5h.8v.8h-.8zM29.3 205.5h.8v.8h-.8zM33.2 217.7h.8v.8h-.8zM35.2 219.5h.8v.8h-.8zM35.2 207.0h.8v.8h-.8zM38.8 215.7h.8v.8h-.8zM58.6 177.1h.8v.8h-.8zM35.3 214.6h.8v.8h-.8zM38.8 224.9h.8v.8h-.8zM31.5 208.3h.8v.8h-.8zM40.0 192.5h.8v.8h-.8zM28.6 226.9h.8v.8h-.8zM36.3 220.0h.8v.8h-.8zM31.1 211.1h.8v.8h-.8zM24.1 217.7h.8v.8h-.8zM31.6 227.4h.8v.8h-.8zM38.6 220.9h.8v.8h-.8zM38.2 203.6h.8v.8h-.8zM23.5 216.6h.8v.8h-.8zM60.2 207.2h.8v.8h-.8zM35.0 213.3h.8v.8h-.8zM27.2 206.3h.8v.8h-.8zM33.7 217.8h.8v.8h-.8zM24.9 219.7h.8v.8h-.8zM32.0 208.3h.8v.8h-.8zM40.2 205.7h.8v.8h-.8zM30.7 226.4h.8v.8h-.8zM35.0 207.2h.8v.8h-.8zM38.3 206.5h.8v.8h-.8zM42.3 187.6h.8v.8h-.8zM27.9 228.2h.8v.8h-.8zM22.4 226.5h.8v.8h-.8zM20.6 218.5h.8v.8h-.8zM23.3 228.2h.8v.8h-.8zM50.6 215.5h.8v.8h-.8zM35.4 211.1h.8v.8h-.8zM58.7 211.6h.8v.8h-.8zM42.8 205.2h.8v.8h-.8zM33.1 210.6h.8v.8h-.8zM33.9 211.4h.8v.8h-.8zM23.1 221.4h.8v.8h-.8zM47.1 206.9h.8v.8h-.8zM36.5 209.1h.8v.8h-.8zM26.5 219.9h.8v.8h-.8zM35.0 216.5h.8v.8h-.8zM38.4 214.3h.8v.8h-.8zM25.1 223.5h.8v.8h-.8zM30.7 218.1h.8v.8h-.8zM24.1 227.7h.8v.8h-.8zM28.1 224.2h.8v.8h-.8zM33.4 216.4h.8v.8h-.8zM29.2 220.1h.8v.8h-.8zM25.7 222.1h.8v.8h-.8zM45.6 221.9h.8v.8h-.8zM40.9 214.9h.8v.8h-.8zM40.0 214.0h.8v.8h-.8zM36.0 199.4h.8v.8h-.8zM48.2 183.2h.8v.8h-.8zM39.9 215.7h.8v.8h-.8zM37.4 219.0h.8v.8h-.8zM36.0 216.6h.8v.8h-.8zM28.9 220.4h.8v.8h-.8zM50.0 210.8h.8v.8h-.8zM31.8 225.2h.8v.8h-.8zM42.6 211.0h.8v.8h-.8zM29.1 218.3h.8v.8h-.8zM34.0 200.4h.8v.8h-.8zM43.4 190.9h.8v.8h-.8zM35.3 222.6h.8v.8h-.8zM39.1 223.0h.8v.8h-.8zM35.0 196.8h.8v.8h-.8zM58.9 212.2h.8v.8h-.8zM33.2 220.0h.8v.8h-.8zM37.1 218.9h.8v.8h-.8zM27.5 217.2h.8v.8h-.8zM31.8 216.7h.8v.8h-.8zM30.5 219.0h.8v.8h-.8zM37.8 207.9h.8v.8h-.8zM39.0 220.6h.8v.8h-.8zM42.3 207.1h.8v.8h-.8zM25.1 227.3h.8v.8h-.8zM39.0 192.8h.8v.8h-.8zM40.6 217.6h.8v.8h-.8zM26.6 227.2h.8v.8h-.8zM28.5 221.6h.8v.8h-.8zM47.3 182.8h.8v.8h-.8zM31.4 218.9h.8v.8h-.8zM27.4 224.6h.8v.8h-.8zM37.7 214.2h.8v.8h-.8zM34.1 226.2h.8v.8h-.8zM40.5 222.4h.8v.8h-.8zM35.9 221.5h.8v.8h-.8zM34.2 219.0h.8v.8h-.8zM40.6 207.4h.8v.8h-.8zM51.4 208.7h.8v.8h-.8zM53.2 200.1h.8v.8h-.8zM32.8 223.3h.8v.8h-.8zM27.0 221.4h.8v.8h-.8zM25.1 228.9h.8v.8h-.8zM28.2 222.9h.8v.8h-.8zM48.9 199.6h.8v.8h-.8zM49.1 217.0h.8v.8h-.8zM31.5 219.9h.8v.8h-.8zM26.8 229.7h.8v.8h-.8zM25.8 207.2h.8v.8h-.8zM31.6 223.1h.8v.8h-.8zM32.8 218.4h.8v.8h-.8zM42.4 222.1h.8v.8h-.8zM34.6 214.0h.8v.8h-.8zM38.0 194.4h.8v.8h-.8zM34.6 214.7h.8v.8h-.8zM24.1 228.3h.8v.8h-.8zM44.5 196.6h.8v.8h-.8zM21.5 229.4h.8v.8h-.8zM26.9 215.6h.8v.8h-.8zM39.1 219.7h.8v.8h-.8zM25.6 216.6h.8v.8h-.8zM24.1 226.6h.8v.8h-.8zM24.0 219.8h.8v.8h-.8zM23.6 226.3h.8v.8h-.8zM40.7 209.1h.8v.8h-.8zM32.8 199.8h.8v.8h-.8zM40.4 216.2h.8v.8h-.8zM61.4 188.0h.8v.8h-.8zM54.5 206.9h.8v.8h-.8zM29.6 211.1h.8v.8h-.8zM33.2 205.3h.8v.8h-.8zM30.5 199.6h.8v.8h-.8zM73.0 194.6h.8v.8h-.8zM51.9 190.5h.8v.8h-.8zM41.9 216.8h.8v.8h-.8zM35.9 205.0h.8v.8h-.8zM29.7 223.7h.8v.8h-.8zM42.6 221.3h.8v.8h-.8zM28.6 196.6h.8v.8h-.8zM25.9 217.8h.8v.8h-.8zM28.0 203.2h.8v.8h-.8zM29.1 205.2h.8v.8h-.8zM28.9 214.8h.8v.8h-.8zM22.1 229.0h.8v.8h-.8zM30.0 213.8h.8v.8h-.8zM36.0 212.0h.8v.8h-.8zM29.4 220.8h.8v.8h-.8zM51.7 220.9h.8v.8h-.8zM37.0 205.3h.8v.8h-.8zM32.9 212.5h.8v.8h-.8zM35.4 220.1h.8v.8h-.8zM29.7 216.3h.8v.8h-.8zM48.7 196.7h.8v.8h-.8zM33.9 224.2h.8v.8h-.8zM34.5 205.8h.8v.8h-.8zM59.5 201.4h.8v.8h-.8zM24.5 218.1h.8v.8h-.8zM41.5 190.1h.8v.8h-.8zM47.6 193.4h.8v.8h-.8zM39.5 217.0h.8v.8h-.8zM34.1 214.0h.8v.8h-.8zM56.8 181.5h.8v.8h-.8zM33.2 223.1h.8v.8h-.8zM47.9 202.0h.8v.8h-.8zM41.0 213.9h.8v.8h-.8zM29.6 225.8h.8v.8h-.8zM39.2 185.1h.8v.8h-.8zM33.5 215.5h.8v.8h-.8zM25.6 226.3h.8v.8h-.8zM25.1 228.5h.8v.8h-.8zM22.4 223.2h.8v.8h-.8zM33.1 224.3h.8v.8h-.8zM25.3 211.7h.8v.8h-.8zM40.0 186.7h.8v.8h-.8zM31.0 229.5h.8v.8h-.8zM38.3 216.6h.8v.8h-.8zM24.1 213.7h.8v.8h-.8zM37.1 210.6h.8v.8h-.8zM40.1 215.7h.8v.8h-.8zM29.3 215.2h.8v.8h-.8zM34.5 217.9h.8v.8h-.8zM33.7 211.9h.8v.8h-.8zM35.3 219.8h.8v.8h-.8zM53.3 175.1h.8v.8h-.8zM32.3 207.2h.8v.8h-.8zM41.3 196.3h.8v.8h-.8zM30.2 225.4h.8v.8h-.8zM40.6 214.7h.8v.8h-.8zM25.5 228.1h.8v.8h-.8zM24.9 195.4h.8v.8h-.8zM27.6 228.1h.8v.8h-.8zM40.7 207.9h.8v.8h-.8zM35.1 226.0h.8v.8h-.8zM22.7 222.8h.8v.8h-.8zM42.0 220.7h.8v.8h-.8zM35.5 217.6h.8v.8h-.8zM33.9 213.9h.8v.8h-.8zM31.1 223.1h.8v.8h-.8zM23.0 217.5h.8v.8h-.8zM29.3 219.8h.8v.8h-.8zM24.5 220.4h.8v.8h-.8zM29.2 220.3h.8v.8h-.8zM29.9 218.7h.8v.8h-.8zM34.8 200.5h.8v.8h-.8zM43.0 200.3h.8v.8h-.8zM28.1 225.7h.8v.8h-.8zM43.4 216.1h.8v.8h-.8zM21.8 222.6h.8v.8h-.8zM49.3 193.1h.8v.8h-.8zM24.0 225.8h.8v.8h-.8zM37.3 204.5h.8v.8h-.8zM21.7 224.4h.8v.8h-.8zM23.4 226.8h.8v.8h-.8zM67.4 197.9h.8v.8h-.8zM27.1 229.0h.8v.8h-.8zM37.0 212.5h.8v.8h-.8zM46.0 219.6h.8v.8h-.8zM28.0 214.7h.8v.8h-.8zM23.2 220.6h.8v.8h-.8zM30.4 230.0h.8v.8h-.8zM33.4 220.6h.8v.8h-.8zM36.5 221.8h.8v.8h-.8zM20.9 216.6h.8v.8h-.8zM62.0 197.5h.8v.8h-.8zM28.6 208.8h.8v.8h-.8zM28.8 199.7h.8v.8h-.8zM31.9 218.5h.8v.8h-.8zM25.4 224.5h.8v.8h-.8zM36.6 194.9h.8v.8h-.8zM42.3 228.1h.8v.8h-.8zM31.7 222.2h.8v.8h-.8zM31.5 221.5h.8v.8h-.8zM39.7 225.2h.8v.8h-.8zM69.7 201.8h.8v.8h-.8zM30.4 219.7h.8v.8h-.8zM53.3 197.6h.8v.8h-.8zM45.0 226.5h.8v.8h-.8zM24.2 225.7h.8v.8h-.8zM29.3 215.8h.8v.8h-.8zM48.0 191.5h.8v.8h-.8zM34.1 220.4h.8v.8h-.8zM44.9 221.6h.8v.8h-.8zM26.3 227.6h.8v.8h-.8zM35.6 218.1h.8v.8h-.8zM31.6 221.6h.8v.8h-.8zM49.9 212.3h.8v.8h-.8zM30.2 222.7h.8v.8h-.8zM60.8 205.1h.8v.8h-.8zM31.2 227.4h.8v.8h-.8zM25.2 221.3h.8v.8h-.8zM32.0 222.5h.8v.8h-.8zM40.3 220.8h.8v.8h-.8zM26.7 221.6h.8v.8h-.8zM45.6 204.2h.8v.8h-.8zM39.4 218.9h.8v.8h-.8zM27.2 225.3h.8v.8h-.8zM36.8 201.2h.8v.8h-.8zM80.2 189.4h.8v.8h-.8zM25.6 224.1h.8v.8h-.8zM31.7 205.0h.8v.8h-.8zM22.4 228.0h.8v.8h-.8zM32.7 206.0h.8v.8h-.8zM33.2 226.5h.8v.8h-.8zM29.8 222.3h.8v.8h-.8zM24.1 211.0h.8v.8h-.8zM28.5 219.8h.8v.8h-.8zM34.8 196.0h.8v.8h-.8zM33.4 218.3h.8v.8h-.8zM39.0 204.5h.8v.8h-.8zM33.1 208.8h.8v.8h-.8zM29.8 206.8h.8v.8h-.8zM25.7 225.5h.8v.8h-.8zM23.1 222.9h.8v.8h-.8zM30.1 225.5h.8v.8h-.8zM48.1 216.3h.8v.8h-.8zM57.0 207.0h.8v.8h-.8zM33.4 216.1h.8v.8h-.8zM35.8 216.8h.8v.8h-.8zM29.2 227.2h.8v.8h-.8zM32.0 220.0h.8v.8h-.8zM28.2 221.4h.8v.8h-.8zM28.0 215.7h.8v.8h-.8zM25.2 224.4h.8v.8h-.8zM36.3 224.3h.8v.8h-.8zM37.0 217.0h.8v.8h-.8zM29.7 210.6h.8v.8h-.8zM34.7 199.7h.8v.8h-.8zM36.4 221.5h.8v.8h-.8zM36.2 213.4h.8v.8h-.8zM46.8 210.6h.8v.8h-.8zM38.3 217.8h.8v.8h-.8zM24.7 228.1h.8v.8h-.8zM26.4 223.1h.8v.8h-.8zM29.2 220.9h.8v.8h-.8zM27.5 226.1h.8v.8h-.8zM46.1 215.5h.8v.8h-.8zM27.1 227.3h.8v.8h-.8zM23.0 206.4h.8v.8h-.8zM33.0 214.0h.8v.8h-.8zM30.8 189.1h.8v.8h-.8zM22.9 220.2h.8v.8h-.8zM32.6 208.7h.8v.8h-.8zM31.9 216.8h.8v.8h-.8zM27.7 229.3h.8v.8h-.8zM44.7 199.8h.8v.8h-.8zM27.4 203.7h.8v.8h-.8zM36.9 223.0h.8v.8h-.8zM56.0 198.6h.8v.8h-.8zM30.6 206.3h.8v.8h-.8zM25.0 226.1h.8v.8h-.8zM26.9 216.1h.8v.8h-.8zM34.4 216.1h.8v.8h-.8zM32.0 215.1h.8v.8h-.8zM39.4 212.6h.8v.8h-.8zM25.9 226.7h.8v.8h-.8zM35.4 215.8h.8v.8h-.8zM33.7 210.7h.8v.8h-.8zM41.7 208.4h.8v.8h-.8zM49.5 222.2h.8v.8h-.8zM32.7 217.2h.8v.8h-.8zM22.7 221.6h.8v.8h-.8zM34.3 218.0h.8v.8h-.8zM39.8 222.2h.8v.8h-.8zM32.8 219.8h.8v.8h-.8zM38.9 223.4h.8v.8h-.8zM34.6 200.8h.8v.8h-.8zM32.0 216.7h.8v.8h-.8zM27.6 221.7h.8v.8h-.8zM35.7 217.2h.8v.8h-.8zM28.5 218.3h.8v.8h-.8zM56.3 191.7h.8v.8h-.8zM28.5 210.7h.8v.8h-.8zM35.6 206.6h.8v.8h-.8zM49.8 216.5h.8v.8h-.8zM47.6 214.3h.8v.8h-.8zM32.5 219.6h.8v.8h-.8zM35.5 208.8h.8v.8h-.8zM38.4 214.4h.8v.8h-.8zM57.0 208.1h.8v.8h-.8zM34.9 222.2h.8v.8h-.8zM35.1 217.5h.8v.8h-.8zM34.9 196.5h.8v.8h-.8zM29.6 226.5h.8v.8h-.8zM27.2 226.9h.8v.8h-.8zM28.0 220.8h.8v.8h-.8zM38.2 210.1h.8v.8h-.8zM31.5 215.9h.8v.8h-.8zM26.1 222.8h.8v.8h-.8zM32.4 212.1h.8v.8h-.8zM25.8 218.3h.8v.8h-.8zM36.2 216.7h.8v.8h-.8zM36.8 191.8h.8v.8h-.8zM22.8 228.8h.8v.8h-.8zM24.2 228.4h.8v.8h-.8zM30.3 223.2h.8v.8h-.8zM33.4 208.4h.8v.8h-.8zM36.0 199.6h.8v.8h-.8zM42.1 215.3h.8v.8h-.8zM34.2 207.3h.8v.8h-.8zM24.9 224.2h.8v.8h-.8zM41.8 215.9h.8v.8h-.8zM34.9 214.7h.8v.8h-.8zM36.3 204.4h.8v.8h-.8zM23.6 217.1h.8v.8h-.8zM22.1 228.7h.8v.8h-.8zM39.3 213.5h.8v.8h-.8zM30.6 222.9h.8v.8h-.8zM45.0 210.7h.8v.8h-.8zM24.1 221.6h.8v.8h-.8zM38.1 218.2h.8v.8h-.8zM40.1 211.4h.8v.8h-.8zM36.1 219.3h.8v.8h-.8zM39.2 206.7h.8v.8h-.8zM33.8 208.9h.8v.8h-.8zM25.7 217.1h.8v.8h-.8zM29.5 204.7h.8v.8h-.8zM73.9 175.4h.8v.8h-.8zM32.0 223.2h.8v.8h-.8zM24.2 221.4h.8v.8h-.8zM38.3 204.9h.8v.8h-.8zM30.8 218.2h.8v.8h-.8zM35.3 215.2h.8v.8h-.8zM50.1 190.1h.8v.8h-.8zM35.6 221.6h.8v.8h-.8zM62.6 193.0h.8v.8h-.8zM38.5 211.4h.8v.8h-.8zM33.6 212.3h.8v.8h-.8zM51.2 186.0h.8v.8h-.8zM26.0 226.6h.8v.8h-.8zM21.8 229.5h.8v.8h-.8zM39.9 206.2h.8v.8h-.8zM51.5 178.6h.8v.8h-.8zM34.9 207.9h.8v.8h-.8zM45.6 211.7h.8v.8h-.8zM37.5 202.7h.8v.8h-.8zM33.0 183.1h.8v.8h-.8zM37.6 223.9h.8v.8h-.8zM28.8 216.8h.8v.8h-.8zM32.6 220.3h.8v.8h-.8zM44.9 218.8h.8v.8h-.8zM42.5 201.0h.8v.8h-.8zM23.9 221.6h.8v.8h-.8zM53.2 210.8h.8v.8h-.8zM26.3 224.0h.8v.8h-.8zM24.1 220.8h.8v.8h-.8zM28.8 224.6h.8v.8h-.8zM25.2 223.9h.8v.8h-.8zM29.6 219.9h.8v.8h-.8zM52.8 214.4h.8v.8h-.8zM33.9 205.9h.8v.8h-.8zM42.5 211.5h.8v.8h-.8zM29.0 213.9h.8v.8h-.8zM48.9 215.6h.8v.8h-.8zM41.3 221.2h.8v.8h-.8zM37.3 218.1h.8v.8h-.8zM22.4 218.8h.8v.8h-.8zM34.5 211.2h.8v.8h-.8zM25.9 222.1h.8v.8h-.8zM42.1 213.3h.8v.8h-.8zM35.1 225.8h.8v.8h-.8zM28.9 229.9h.8v.8h-.8zM53.8 208.6h.8v.8h-.8zM28.1 221.1h.8v.8h-.8zM30.2 199.1h.8v.8h-.8zM56.4 214.0h.8v.8h-.8zM40.2 226.3h.8v.8h-.8zM36.9 202.0h.8v.8h-.8zM41.9 188.8h.8v.8h-.8zM28.3 221.2h.8v.8h-.8zM33.5 224.3h.8v.8h-.8zM24.3 220.6h.8v.8h-.8zM31.5 224.9h.8v.8h-.8zM26.3 195.1h.8v.8h-.8zM43.5 208.4h.8v.8h-.8zM32.6 223.2h.8v.8h-.8zM42.3 214.3h.8v.8h-.8zM22.0 210.6h.8v.8h-.8zM43.7 195.5h.8v.8h-.8zM32.6 213.3h.8v.8h-.8zM37.3 222.0h.8v.8h-.8zM38.8 207.2h.8v.8h-.8zM31.6 219.9h.8v.8h-.8zM23.2 220.9h.8v.8h-.8zM36.7 220.1h.8v.8h-.8zM20.7 227.9h.8v.8h-.8zM29.0 226.7h.8v.8h-.8zM28.5 226.8h.8v.8h-.8zM33.6 214.9h.8v.8h-.8zM30.6 218.7h.8v.8h-.8zM33.6 227.4h.8v.8h-.8zM47.3 218.2h.8v.8h-.8zM48.1 212.7h.8v.8h-.8zM50.4 185.1h.8v.8h-.8zM26.1 217.8h.8v.8h-.8zM28.4 216.0h.8v.8h-.8zM23.1 227.0h.8v.8h-.8zM22.5 227.2h.8v.8h-.8zM37.4 218.1h.8v.8h-.8zM47.0 198.5h.8v.8h-.8zM28.6 223.9h.8v.8h-.8zM24.6 228.3h.8v.8h-.8zM23.9 213.5h.8v.8h-.8zM26.1 224.9h.8v.8h-.8zM25.4 218.3h.8v.8h-.8zM28.7 227.3h.8v.8h-.8zM29.5 223.1h.8v.8h-.8zM42.0 214.3h.8v.8h-.8zM28.4 224.8h.8v.8h-.8zM33.3 218.5h.8v.8h-.8zM27.7 220.9h.8v.8h-.8zM30.9 218.8h.8v.8h-.8zM46.3 209.3h.8v.8h-.8zM26.8 210.1h.8v.8h-.8zM32.4 223.1h.8v.8h-.8zM35.0 201.7h.8v.8h-.8zM25.9 227.4h.8v.8h-.8zM33.3 224.1h.8v.8h-.8zM24.6 218.8h.8v.8h-.8zM30.1 227.7h.8v.8h-.8zM38.7 219.7h.8v.8h-.8zM25.2 223.1h.8v.8h-.8zM25.8 226.6h.8v.8h-.8zM50.9 213.6h.8v.8h-.8zM33.0 216.3h.8v.8h-.8zM24.4 218.1h.8v.8h-.8zM29.4 216.7h.8v.8h-.8zM36.5 210.6h.8v.8h-.8zM30.4 215.3h.8v.8h-.8zM26.0 227.2h.8v.8h-.8zM42.4 192.0h.8v.8h-.8zM29.1 221.8h.8v.8h-.8zM59.2 210.5h.8v.8h-.8zM54.0 206.2h.8v.8h-.8zM50.6 196.7h.8v.8h-.8zM30.7 219.1h.8v.8h-.8zM38.6 212.1h.8v.8h-.8zM67.3 198.1h.8v.8h-.8zM42.8 202.5h.8v.8h-.8zM24.9 229.3h.8v.8h-.8zM39.4 225.4h.8v.8h-.8zM57.0 200.1h.8v.8h-.8zM26.5 214.5h.8v.8h-.8zM28.6 213.0h.8v.8h-.8zM22.5 229.1h.8v.8h-.8zM38.1 197.8h.8v.8h-.8zM25.8 222.1h.8v.8h-.8zM35.9 219.8h.8v.8h-.8zM25.5 221.1h.8v.8h-.8zM38.3 212.8h.8v.8h-.8zM48.3 203.2h.8v.8h-.8zM23.7 224.8h.8v.8h-.8zM40.1 217.7h.8v.8h-.8zM42.8 200.2h.8v.8h-.8zM32.8 200.7h.8v.8h-.8zM29.1 210.1h.8v.8h-.8zM32.3 218.2h.8v.8h-.8zM22.8 223.8h.8v.8h-.8zM39.8 221.7h.8v.8h-.8zM25.8 221.6h.8v.8h-.8zM37.5 217.3h.8v.8h-.8zM23.6 221.2h.8v.8h-.8zM21.3 230.3h.8v.8h-.8zM36.6 210.0h.8v.8h-.8zM35.0 210.8h.8v.8h-.8zM36.0 221.9h.8v.8h-.8zM43.5 229.6h.8v.8h-.8zM35.5 220.7h.8v.8h-.8zM30.5 220.1h.8v.8h-.8zM25.2 214.8h.8v.8h-.8zM24.1 227.2h.8v.8h-.8zM23.4 225.1h.8v.8h-.8zM28.0 223.0h.8v.8h-.8zM30.2 219.2h.8v.8h-.8zM40.8 197.5h.8v.8h-.8zM45.1 205.9h.8v.8h-.8zM38.9 195.3h.8v.8h-.8zM29.4 197.2h.8v.8h-.8zM26.2 214.3h.8v.8h-.8zM42.1 215.5h.8v.8h-.8zM33.1 206.1h.8v.8h-.8zM28.5 215.2h.8v.8h-.8zM26.3 216.1h.8v.8h-.8zM41.1 209.0h.8v.8h-.8zM34.2 198.6h.8v.8h-.8zM24.1 225.3h.8v.8h-.8zM58.5 193.2h.8v.8h-.8zM29.6 210.5h.8v.8h-.8zM26.9 224.5h.8v.8h-.8zM44.0 219.4h.8v.8h-.8zM39.5 207.9h.8v.8h-.8zM41.6 219.9h.8v.8h-.8zM24.6 228.6h.8v.8h-.8zM34.4 213.4h.8v.8h-.8zM39.6 226.3h.8v.8h-.8zM46.7 209.7h.8v.8h-.8zM24.8 227.7h.8v.8h-.8zM31.0 225.2h.8v.8h-.8zM53.7 207.8h.8v.8h-.8zM39.4 223.9h.8v.8h-.8zM25.9 228.3h.8v.8h-.8zM48.2 211.1h.8v.8h-.8zM53.7 184.3h.8v.8h-.8zM37.8 212.8h.8v.8h-.8zM25.6 217.8h.8v.8h-.8zM23.0 225.5h.8v.8h-.8zM36.5 208.3h.8v.8h-.8zM35.0 206.4h.8v.8h-.8zM27.3 226.1h.8v.8h-.8zM31.9 195.0h.8v.8h-.8zM26.7 216.9h.8v.8h-.8zM25.1 226.4h.8v.8h-.8zM32.0 218.8h.8v.8h-.8zM33.9 216.7h.8v.8h-.8zM25.6 229.0h.8v.8h-.8zM22.2 226.3h.8v.8h-.8zM45.8 214.2h.8v.8h-.8zM35.5 208.3h.8v.8h-.8zM35.3 210.8h.8v.8h-.8zM33.0 218.5h.8v.8h-.8zM48.2 190.3h.8v.8h-.8zM33.2 208.8h.8v.8h-.8zM40.8 220.2h.8v.8h-.8zM39.6 226.0h.8v.8h-.8zM44.4 209.9h.8v.8h-.8zM31.4 212.5h.8v.8h-.8zM44.1 199.2h.8v.8h-.8zM31.4 215.1h.8v.8h-.8zM30.0 217.4h.8v.8h-.8zM32.6 198.8h.8v.8h-.8zM49.6 210.9h.8v.8h-.8zM33.3 217.8h.8v.8h-.8zM26.8 194.1h.8v.8h-.8zM65.2 205.7h.8v.8h-.8zM28.8 228.7h.8v.8h-.8zM23.4 229.6h.8v.8h-.8zM31.6 218.5h.8v.8h-.8zM23.5 226.7h.8v.8h-.8zM36.5 214.4h.8v.8h-.8zM27.1 218.4h.8v.8h-.8zM41.6 179.7h.8v.8h-.8zM24.2 226.9h.8v.8h-.8zM33.3 224.9h.8v.8h-.8zM31.3 221.5h.8v.8h-.8zM30.9 220.5h.8v.8h-.8zM23.5 226.1h.8v.8h-.8zM56.2 205.9h.8v.8h-.8zM25.2 217.0h.8v.8h-.8zM43.2 202.1h.8v.8h-.8zM21.2 226.7h.8v.8h-.8zM29.9 224.0h.8v.8h-.8zM26.6 226.7h.8v.8h-.8zM23.1 201.0h.8v.8h-.8zM28.4 230.5h.8v.8h-.8zM33.7 219.1h.8v.8h-.8zM46.1 205.5h.8v.8h-.8zM50.8 206.3h.8v.8h-.8zM58.0 206.2h.8v.8h-.8zM24.5 221.3h.8v.8h-.8zM36.6 217.2h.8v.8h-.8zM42.7 213.7h.8v.8h-.8zM26.3 223.4h.8v.8h-.8zM40.4 211.6h.8v.8h-.8zM35.4 223.6h.8v.8h-.8zM60.3 209.2h.8v.8h-.8zM35.1 214.2h.8v.8h-.8zM35.4 204.9h.8v.8h-.8zM30.2 220.1h.8v.8h-.8zM28.9 216.9h.8v.8h-.8zM34.4 208.8h.8v.8h-.8zM39.1 219.2h.8v.8h-.8zM40.0 197.2h.8v.8h-.8zM57.2 185.6h.8v.8h-.8zM28.1 196.1h.8v.8h-.8zM27.4 219.2h.8v.8h-.8zM48.0 209.6h.8v.8h-.8zM32.9 216.8h.8v.8h-.8zM46.2 223.9h.8v.8h-.8zM30.6 223.7h.8v.8h-.8zM38.7 206.2h.8v.8h-.8zM24.5 224.7h.8v.8h-.8zM33.7 207.5h.8v.8h-.8zM30.5 222.8h.8v.8h-.8zM65.5 197.5h.8v.8h-.8zM32.6 222.4h.8v.8h-.8zM33.0 224.8h.8v.8h-.8zM24.7 215.9h.8v.8h-.8zM47.4 214.2h.8v.8h-.8zM30.1 227.3h.8v.8h-.8zM22.2 219.5h.8v.8h-.8zM33.5 220.0h.8v.8h-.8zM38.5 203.3h.8v.8h-.8zM24.9 224.7h.8v.8h-.8zM24.3 228.9h.8v.8h-.8zM37.3 211.8h.8v.8h-.8zM23.9 220.5h.8v.8h-.8zM25.2 227.6h.8v.8h-.8zM70.4 209.9h.8v.8h-.8zM67.7 216.0h.8v.8h-.8zM27.1 228.9h.8v.8h-.8zM41.3 211.4h.8v.8h-.8zM28.3 216.9h.8v.8h-.8zM27.3 216.2h.8v.8h-.8zM32.2 204.4h.8v.8h-.8zM21.7 226.6h.8v.8h-.8zM24.3 214.8h.8v.8h-.8zM23.6 228.3h.8v.8h-.8zM47.2 198.1h.8v.8h-.8zM47.7 225.3h.8v.8h-.8zM39.9 209.9h.8v.8h-.8zM28.4 207.1h.8v.8h-.8zM47.6 204.4h.8v.8h-.8zM32.4 210.7h.8v.8h-.8zM34.1 217.0h.8v.8h-.8zM33.5 213.7h.8v.8h-.8zM34.9 220.5h.8v.8h-.8zM33.9 212.6h.8v.8h-.8zM41.2 217.6h.8v.8h-.8zM27.3 221.9h.8v.8h-.8zM33.8 222.7h.8v.8h-.8zM37.2 218.1h.8v.8h-.8zM30.7 210.4h.8v.8h-.8zM35.5 221.9h.8v.8h-.8zM21.6 229.0h.8v.8h-.8zM26.3 219.5h.8v.8h-.8zM38.7 219.4h.8v.8h-.8zM26.3 228.8h.8v.8h-.8zM53.2 208.1h.8v.8h-.8zM40.4 198.5h.8v.8h-.8zM31.8 220.0h.8v.8h-.8zM46.6 197.8h.8v.8h-.8zM22.7 220.0h.8v.8h-.8zM50.9 203.9h.8v.8h-.8zM31.5 207.6h.8v.8h-.8zM81.3 164.6h.8v.8h-.8zM33.2 219.2h.8v.8h-.8zM44.1 218.9h.8v.8h-.8zM44.0 214.7h.8v.8h-.8zM27.8 221.6h.8v.8h-.8zM26.9 227.7h.8v.8h-.8zM24.5 218.8h.8v.8h-.8zM46.9 190.4h.8v.8h-.8zM28.9 215.3h.8v.8h-.8zM25.6 220.5h.8v.8h-.8zM34.1 227.8h.8v.8h-.8zM44.0 222.2h.8v.8h-.8zM46.5 206.2h.8v.8h-.8zM31.1 217.3h.8v.8h-.8zM37.6 212.2h.8v.8h-.8zM27.5 217.5h.8v.8h-.8zM25.3 229.8h.8v.8h-.8zM23.0 224.1h.8v.8h-.8zM39.4 227.2h.8v.8h-.8zM25.6 225.1h.8v.8h-.8zM24.6 224.3h.8v.8h-.8zM35.1 208.6h.8v.8h-.8zM52.8 182.5h.8v.8h-.8zM22.5 228.8h.8v.8h-.8zM25.7 225.3h.8v.8h-.8zM27.3 229.1h.8v.8h-.8zM29.3 221.0h.8v.8h-.8zM34.4 217.9h.8v.8h-.8zM27.6 221.6h.8v.8h-.8zM30.6 224.3h.8v.8h-.8zM30.7 227.7h.8v.8h-.8zM27.2 213.2h.8v.8h-.8zM38.1 226.3h.8v.8h-.8zM29.1 223.8h.8v.8h-.8zM35.1 196.5h.8v.8h-.8zM28.2 209.4h.8v.8h-.8zM39.2 225.2h.8v.8h-.8zM38.3 201.4h.8v.8h-.8zM31.2 223.5h.8v.8h-.8zM29.1 218.9h.8v.8h-.8zM25.6 221.9h.8v.8h-.8zM31.7 210.0h.8v.8h-.8zM55.7 217.9h.8v.8h-.8zM38.0 220.0h.8v.8h-.8zM27.9 218.6h.8v.8h-.8zM23.7 225.2h.8v.8h-.8zM29.8 202.3h.8v.8h-.8zM34.4 206.6h.8v.8h-.8zM20.6 229.6h.8v.8h-.8zM39.5 193.2h.8v.8h-.8zM37.5 202.4h.8v.8h-.8zM84.5 191.7h.8v.8h-.8zM36.4 182.4h.8v.8h-.8zM37.6 207.7h.8v.8h-.8zM32.2 221.7h.8v.8h-.8zM40.0 212.3h.8v.8h-.8zM27.1 226.9h.8v.8h-.8zM25.8 225.4h.8v.8h-.8zM37.5 225.7h.8v.8h-.8zM23.7 223.4h.8v.8h-.8zM50.4 212.1h.8v.8h-.8zM30.6 210.0h.8v.8h-.8zM64.2 193.5h.8v.8h-.8zM34.5 208.6h.8v.8h-.8zM26.4 214.4h.8v.8h-.8zM24.7 224.5h.8v.8h-.8zM23.1 228.4h.8v.8h-.8zM36.1 212.1h.8v.8h-.8zM37.4 214.9h.8v.8h-.8zM29.0 223.3h.8v.8h-.8zM23.6 212.9h.8v.8h-.8zM57.7 207.9h.8v.8h-.8zM31.8 224.0h.8v.8h-.8zM38.2 216.4h.8v.8h-.8zM23.4 228.2h.8v.8h-.8zM30.7 214.4h.8v.8h-.8zM27.7 223.9h.8v.8h-.8zM36.1 200.6h.8v.8h-.8zM38.6 220.9h.8v.8h-.8zM52.1 189.3h.8v.8h-.8zM32.2 216.4h.8v.8h-.8zM47.6 214.0h.8v.8h-.8zM30.5 221.0h.8v.8h-.8zM33.6 219.7h.8v.8h-.8zM28.3 226.2h.8v.8h-.8zM55.1 205.7h.8v.8h-.8zM28.5 215.3h.8v.8h-.8zM42.3 215.9h.8v.8h-.8zM22.6 225.7h.8v.8h-.8zM25.4 219.4h.8v.8h-.8zM35.2 208.2h.8v.8h-.8zM40.4 200.6h.8v.8h-.8zM30.1 228.5h.8v.8h-.8zM42.9 204.2h.8v.8h-.8zM29.1 215.9h.8v.8h-.8zM22.8 225.6h.8v.8h-.8zM34.5 199.0h.8v.8h-.8zM37.2 203.5h.8v.8h-.8zM36.0 214.8h.8v.8h-.8zM28.0 225.7h.8v.8h-.8zM45.9 211.9h.8v.8h-.8zM45.3 202.7h.8v.8h-.8zM44.0 207.9h.8v.8h-.8zM27.8 210.9h.8v.8h-.8zM38.5 216.3h.8v.8h-.8zM29.4 226.5h.8v.8h-.8zM31.5 223.5h.8v.8h-.8zM29.0 190.7h.8v.8h-.8zM36.8 211.7h.8v.8h-.8zM33.0 225.6h.8v.8h-.8zM26.5 212.3h.8v.8h-.8zM33.3 219.0h.8v.8h-.8zM36.6 210.9h.8v.8h-.8zM47.4 210.1h.8v.8h-.8zM39.3 201.5h.8v.8h-.8zM31.1 212.3h.8v.8h-.8zM64.7 196.5h.8v.8h-.8zM35.8 213.4h.8v.8h-.8zM30.6 227.6h.8v.8h-.8zM30.4 205.2h.8v.8h-.8zM39.5 219.4h.8v.8h-.8zM40.0 218.2h.8v.8h-.8zM72.2 193.6h.8v.8h-.8zM27.0 228.4h.8v.8h-.8zM40.2 207.4h.8v.8h-.8zM37.0 218.6h.8v.8h-.8zM47.9 189.6h.8v.8h-.8zM28.3 219.0h.8v.8h-.8zM32.6 204.8h.8v.8h-.8zM24.2 218.7h.8v.8h-.8zM29.6 225.1h.8v.8h-.8zM54.8 191.5h.8v.8h-.8zM35.3 222.2h.8v.8h-.8zM32.0 220.1h.8v.8h-.8zM28.9 216.9h.8v.8h-.8zM35.8 209.7h.8v.8h-.8zM24.2 229.1h.8v.8h-.8zM31.0 215.3h.8v.8h-.8zM21.7 229.9h.8v.8h-.8zM34.5 209.5h.8v.8h-.8zM36.3 229.4h.8v.8h-.8zM53.5 208.1h.8v.8h-.8zM31.6 208.5h.8v.8h-.8zM42.7 222.1h.8v.8h-.8zM23.8 228.9h.8v.8h-.8zM33.2 219.3h.8v.8h-.8zM30.2 225.0h.8v.8h-.8zM35.0 218.4h.8v.8h-.8zM29.7 219.9h.8v.8h-.8zM32.9 218.9h.8v.8h-.8zM34.9 219.9h.8v.8h-.8zM38.8 203.6h.8v.8h-.8zM24.2 223.0h.8v.8h-.8zM22.8 225.6h.8v.8h-.8zM47.0 222.3h.8v.8h-.8zM25.0 217.2h.8v.8h-.8zM24.9 224.4h.8v.8h-.8zM43.9 207.5h.8v.8h-.8zM28.6 213.6h.8v.8h-.8zM30.4 212.6h.8v.8h-.8zM27.2 217.3h.8v.8h-.8zM43.0 214.8h.8v.8h-.8zM52.9 217.1h.8v.8h-.8zM38.3 187.3h.8v.8h-.8zM24.9 223.4h.8v.8h-.8zM28.5 224.8h.8v.8h-.8zM24.2 228.5h.8v.8h-.8zM42.2 209.3h.8v.8h-.8zM40.1 197.9h.8v.8h-.8zM47.0 216.1h.8v.8h-.8zM35.3 221.6h.8v.8h-.8zM30.2 185.7h.8v.8h-.8zM33.5 225.5h.8v.8h-.8zM47.1 193.2h.8v.8h-.8zM30.0 218.9h.8v.8h-.8zM36.3 211.9h.8v.8h-.8zM26.8 214.0h.8v.8h-.8zM30.2 222.9h.8v.8h-.8zM31.1 206.7h.8v.8h-.8zM45.6 202.4h.8v.8h-.8zM43.2 213.3h.8v.8h-.8zM25.1 228.6h.8v.8h-.8zM61.1 195.3h.8v.8h-.8zM29.1 213.6h.8v.8h-.8zM29.6 211.1h.8v.8h-.8zM42.9 204.8h.8v.8h-.8zM44.5 213.6h.8v.8h-.8zM47.2 212.7h.8v.8h-.8zM28.8 223.0h.8v.8h-.8zM24.8 217.5h.8v.8h-.8zM25.3 221.5h.8v.8h-.8zM29.5 223.1h.8v.8h-.8zM26.2 212.9h.8v.8h-.8zM59.2 212.2h.8v.8h-.8zM55.6 218.9h.8v.8h-.8zM48.3 218.3h.8v.8h-.8zM24.8 221.5h.8v.8h-.8zM39.6 220.6h.8v.8h-.8zM44.5 210.6h.8v.8h-.8zM36.0 213.8h.8v.8h-.8zM33.3 221.2h.8v.8h-.8zM30.5 212.2h.8v.8h-.8zM38.7 206.2h.8v.8h-.8zM44.3 207.8h.8v.8h-.8zM28.2 216.7h.8v.8h-.8zM42.8 224.8h.8v.8h-.8zM30.9 207.4h.8v.8h-.8zM24.9 228.2h.8v.8h-.8zM29.7 226.2h.8v.8h-.8zM34.2 215.9h.8v.8h-.8zM30.7 214.8h.8v.8h-.8zM33.7 216.2h.8v.8h-.8zM29.3 218.4h.8v.8h-.8zM46.2 205.2h.8v.8h-.8zM51.6 205.6h.8v.8h-.8zM30.1 203.3h.8v.8h-.8zM31.1 208.6h.8v.8h-.8zM37.4 224.1h.8v.8h-.8zM32.6 212.3h.8v.8h-.8zM42.1 216.2h.8v.8h-.8zM30.5 224.9h.8v.8h-.8zM60.7 177.3h.8v.8h-.8zM30.4 210.9h.8v.8h-.8zM28.2 207.2h.8v.8h-.8zM30.0 210.4h.8v.8h-.8zM30.1 223.9h.8v.8h-.8zM35.4 219.5h.8v.8h-.8zM31.0 224.2h.8v.8h-.8zM24.7 227.7h.8v.8h-.8zM21.2 225.2h.8v.8h-.8zM26.3 222.7h.8v.8h-.8zM30.2 218.5h.8v.8h-.8zM33.4 214.0h.8v.8h-.8zM29.0 225.6h.8v.8h-.8zM38.7 213.3h.8v.8h-.8zM30.8 216.7h.8v.8h-.8zM24.0 224.2h.8v.8h-.8zM38.9 217.3h.8v.8h-.8zM27.2 227.3h.8v.8h-.8zM33.5 215.7h.8v.8h-.8zM32.5 222.6h.8v.8h-.8zM25.8 213.8h.8v.8h-.8zM39.2 214.9h.8v.8h-.8zM47.1 220.8h.8v.8h-.8zM52.3 196.0h.8v.8h-.8zM30.9 223.7h.8v.8h-.8zM32.7 218.8h.8v.8h-.8zM40.2 208.9h.8v.8h-.8zM28.9 212.1h.8v.8h-.8zM27.4 213.7h.8v.8h-.8zM28.2 224.9h.8v.8h-.8zM63.9 211.9h.8v.8h-.8zM29.3 230.6h.8v.8h-.8zM27.3 206.4h.8v.8h-.8zM28.2 223.5h.8v.8h-.8zM35.2 208.2h.8v.8h-.8zM47.1 207.6h.8v.8h-.8zM35.3 212.8h.8v.8h-.8zM24.5 223.2h.8v.8h-.8zM42.8 211.9h.8v.8h-.8zM36.2 215.0h.8v.8h-.8zM51.8 187.5h.8v.8h-.8zM32.2 225.9h.8v.8h-.8zM32.9 224.1h.8v.8h-.8zM26.5 221.5h.8v.8h-.8zM25.2 227.8h.8v.8h-.8zM38.6 213.6h.8v.8h-.8zM32.9 227.2h.8v.8h-.8zM44.9 197.9h.8v.8h-.8zM31.8 215.3h.8v.8h-.8zM27.6 202.9h.8v.8h-.8zM41.8 208.0h.8v.8h-.8zM50.9 200.8h.8v.8h-.8zM32.3 209.6h.8v.8h-.8zM26.1 224.7h.8v.8h-.8zM35.4 192.3h.8v.8h-.8zM26.4 224.5h.8v.8h-.8zM24.2 227.5h.8v.8h-.8zM27.2 217.9h.8v.8h-.8zM26.8 214.6h.8v.8h-.8zM46.6 192.9h.8v.8h-.8zM23.1 221.4h.8v.8h-.8zM30.6 226.9h.8v.8h-.8zM23.0 228.2h.8v.8h-.8zM23.1 226.6h.8v.8h-.8zM36.3 187.7h.8v.8h-.8zM29.6 227.4h.8v.8h-.8zM21.9 222.7h.8v.8h-.8zM32.4 217.9h.8v.8h-.8zM25.9 219.4h.8v.8h-.8zM28.9 218.7h.8v.8h-.8zM35.3 228.0h.8v.8h-.8zM33.1 221.4h.8v.8h-.8zM36.9 210.4h.8v.8h-.8zM29.3 224.8h.8v.8h-.8zM32.3 221.9h.8v.8h-.8zM26.8 222.9h.8v.8h-.8zM32.4 219.4h.8v.8h-.8zM27.9 224.1h.8v.8h-.8zM35.5 207.5h.8v.8h-.8zM42.0 212.4h.8v.8h-.8zM68.6 202.5h.8v.8h-.8zM40.4 218.7h.8v.8h-.8zM34.5 212.9h.8v.8h-.8zM31.2 226.9h.8v.8h-.8zM35.5 219.0h.8v.8h-.8zM27.2 220.4h.8v.8h-.8zM40.5 216.1h.8v.8h-.8zM31.4 223.0h.8v.8h-.8zM26.2 229.7h.8v.8h-.8zM32.5 209.1h.8v.8h-.8zM34.8 207.0h.8v.8h-.8zM29.6 222.8h.8v.8h-.8zM27.8 218.2h.8v.8h-.8zM24.0 229.2h.8v.8h-.8zM30.2 227.0h.8v.8h-.8zM33.9 226.0h.8v.8h-.8zM41.9 198.6h.8v.8h-.8zM33.8 222.5h.8v.8h-.8zM41.6 202.1h.8v.8h-.8zM34.0 218.2h.8v.8h-.8zM30.0 211.3h.8v.8h-.8zM25.9 224.0h.8v.8h-.8zM39.5 219.9h.8v.8h-.8zM58.6 210.7h.8v.8h-.8zM29.2 222.6h.8v.8h-.8zM39.6 196.1h.8v.8h-.8zM35.1 214.7h.8v.8h-.8zM26.4 214.1h.8v.8h-.8zM34.5 201.9h.8v.8h-.8zM22.2 230.0h.8v.8h-.8zM41.8 213.7h.8v.8h-.8zM30.3 223.0h.8v.8h-.8zM31.0 220.4h.8v.8h-.8zM44.1 199.2h.8v.8h-.8zM30.1 218.6h.8v.8h-.8zM48.7 213.2h.8v.8h-.8zM24.7 226.1h.8v.8h-.8zM34.5 217.1h.8v.8h-.8zM29.5 214.8h.8v.8h-.8zM35.4 223.5h.8v.8h-.8zM29.4 206.1h.8v.8h-.8zM36.8 211.7h.8v.8h-.8zM26.6 226.2h.8v.8h-.8zM42.3 209.6h.8v.8h-.8zM51.3 206.7h.8v.8h-.8zM29.2 218.6h.8v.8h-.8zM26.7 216.8h.8v.8h-.8zM39.8 205.3h.8v.8h-.8zM29.1 219.7h.8v.8h-.8zM28.2 215.1h.8v.8h-.8zM36.8 187.3h.8v.8h-.8zM30.5 208.5h.8v.8h-.8zM48.1 222.2h.8v.8h-.8zM26.8 222.7h.8v.8h-.8zM30.4 216.6h.8v.8h-.8zM50.1 194.9h.8v.8h-.8zM29.8 217.7h.8v.8h-.8zM27.3 206.6h.8v.8h-.8zM41.0 202.1h.8v.8h-.8zM41.5 205.7h.8v.8h-.8zM54.1 193.1h.8v.8h-.8zM23.6 230.8h.8v.8h-.8zM25.7 229.5h.8v.8h-.8zM74.9 200.9h.8v.8h-.8zM22.5 220.6h.8v.8h-.8zM32.8 215.7h.8v.8h-.8zM31.4 225.5h.8v.8h-.8zM37.1 214.9h.8v.8h-.8zM31.7 217.6h.8v.8h-.8zM25.6 227.4h.8v.8h-.8zM34.7 199.2h.8v.8h-.8zM24.7 224.5h.8v.8h-.8zM23.9 222.3h.8v.8h-.8zM30.7 223.8h.8v.8h-.8zM46.9 215.4h.8v.8h-.8zM35.9 215.7h.8v.8h-.8zM41.8 208.1h.8v.8h-.8zM32.0 210.4h.8v.8h-.8zM40.1 225.1h.8v.8h-.8zM28.7 214.0h.8v.8h-.8zM34.9 214.9h.8v.8h-.8zM47.2 196.6h.8v.8h-.8zM31.5 209.1h.8v.8h-.8zM32.9 221.6h.8v.8h-.8zM31.6 218.7h.8v.8h-.8zM29.4 217.2h.8v.8h-.8zM26.4 225.7h.8v.8h-.8zM29.0 227.6h.8v.8h-.8zM35.4 207.6h.8v.8h-.8zM33.3 218.3h.8v.8h-.8zM41.3 211.2h.8v.8h-.8zM40.3 202.0h.8v.8h-.8zM37.8 217.3h.8v.8h-.8zM22.1 223.5h.8v.8h-.8zM42.3 191.5h.8v.8h-.8zM26.1 213.2h.8v.8h-.8zM36.3 218.4h.8v.8h-.8zM22.1 229.3h.8v.8h-.8zM30.3 221.6h.8v.8h-.8zM48.0 206.9h.8v.8h-.8zM34.6 222.1h.8v.8h-.8zM41.5 209.8h.8v.8h-.8zM34.6 215.7h.8v.8h-.8zM40.1 217.4h.8v.8h-.8zM50.6 222.8h.8v.8h-.8zM32.1 224.2h.8v.8h-.8zM29.1 203.0h.8v.8h-.8zM31.2 221.9h.8v.8h-.8zM29.5 211.9h.8v.8h-.8zM31.2 224.5h.8v.8h-.8zM33.4 227.9h.8v.8h-.8zM34.1 212.8h.8v.8h-.8zM37.6 203.3h.8v.8h-.8zM27.6 220.5h.8v.8h-.8zM24.8 226.4h.8v.8h-.8zM70.7 174.9h.8v.8h-.8zM27.2 216.8h.8v.8h-.8zM29.8 223.8h.8v.8h-.8zM30.3 218.8h.8v.8h-.8zM30.8 195.7h.8v.8h-.8zM29.5 229.7h.8v.8h-.8zM31.8 215.1h.8v.8h-.8zM22.2 216.9h.8v.8h-.8zM33.0 227.4h.8v.8h-.8zM52.8 216.8h.8v.8h-.8zM47.8 209.3h.8v.8h-.8zM39.6 212.0h.8v.8h-.8zM41.5 179.5h.8v.8h-.8zM45.5 211.7h.8v.8h-.8zM30.4 228.6h.8v.8h-.8zM23.9 217.5h.8v.8h-.8zM28.4 223.2h.8v.8h-.8zM40.6 206.3h.8v.8h-.8zM41.9 206.7h.8v.8h-.8zM28.8 227.6h.8v.8h-.8zM38.8 217.1h.8v.8h-.8zM34.5 208.7h.8v.8h-.8zM28.8 215.3h.8v.8h-.8zM49.0 217.5h.8v.8h-.8zM34.2 214.0h.8v.8h-.8zM47.3 213.3h.8v.8h-.8zM31.3 210.9h.8v.8h-.8zM31.5 219.9h.8v.8h-.8zM36.9 215.6h.8v.8h-.8zM25.6 223.6h.8v.8h-.8zM27.2 206.4h.8v.8h-.8zM23.6 226.8h.8v.8h-.8zM22.2 212.1h.8v.8h-.8zM27.0 219.6h.8v.8h-.8zM42.8 200.9h.8v.8h-.8zM28.0 220.4h.8v.8h-.8zM28.7 219.3h.8v.8h-.8zM41.0 205.4h.8v.8h-.8zM22.0 211.7h.8v.8h-.8zM42.8 217.0h.8v.8h-.8zM29.5 219.3h.8v.8h-.8zM41.3 206.1h.8v.8h-.8zM26.7 222.0h.8v.8h-.8zM23.7 227.3h.8v.8h-.8zM20.8 229.2h.8v.8h-.8zM30.7 226.0h.8v.8h-.8zM33.1 201.1h.8v.8h-.8zM26.0 214.2h.8v.8h-.8zM28.9 223.8h.8v.8h-.8zM46.8 191.1h.8v.8h-.8zM31.4 227.6h.8v.8h-.8zM30.6 206.8h.8v.8h-.8zM28.1 212.1h.8v.8h-.8zM24.6 213.0h.8v.8h-.8zM33.0 215.7h.8v.8h-.8zM32.8 180.4h.8v.8h-.8zM37.5 197.2h.8v.8h-.8zM27.9 210.7h.8v.8h-.8zM31.4 208.1h.8v.8h-.8zM28.4 220.7h.8v.8h-.8zM27.3 226.5h.8v.8h-.8zM28.2 218.9h.8v.8h-.8zM26.0 226.2h.8v.8h-.8zM32.4 201.7h.8v.8h-.8zM29.8 225.3h.8v.8h-.8zM26.6 228.0h.8v.8h-.8zM32.5 211.3h.8v.8h-.8zM31.4 222.6h.8v.8h-.8zM39.6 197.2h.8v.8h-.8zM28.6 217.8h.8v.8h-.8zM22.0 225.9h.8v.8h-.8zM23.2 225.0h.8v.8h-.8zM30.8 219.2h.8v.8h-.8zM43.3 208.8h.8v.8h-.8zM37.0 213.8h.8v.8h-.8zM37.3 201.4h.8v.8h-.8zM49.1 199.0h.8v.8h-.8zM23.0 217.9h.8v.8h-.8zM28.0 200.6h.8v.8h-.8zM29.8 224.5h.8v.8h-.8zM29.6 212.9h.8v.8h-.8zM41.0 220.3h.8v.8h-.8zM24.4 228.2h.8v.8h-.8zM22.5 222.3h.8v.8h-.8zM36.9 222.7h.8v.8h-.8zM28.1 224.5h.8v.8h-.8zM22.1 229.7h.8v.8h-.8zM51.9 216.0h.8v.8h-.8zM32.5 224.6h.8v.8h-.8zM41.4 197.8h.8v.8h-.8zM31.4 217.4h.8v.8h-.8zM28.5 212.4h.8v.8h-.8zM38.9 213.7h.8v.8h-.8zM48.3 224.4h.8v.8h-.8zM29.2 221.7h.8v.8h-.8zM41.5 219.9h.8v.8h-.8zM32.3 210.6h.8v.8h-.8zM41.8 217.0h.8v.8h-.8zM21.4 221.0h.8v.8h-.8zM48.4 219.9h.8v.8h-.8zM39.0 215.0h.8v.8h-.8zM27.4 195.9h.8v.8h-.8zM34.9 205.7h.8v.8h-.8zM34.0 212.7h.8v.8h-.8zM28.5 214.9h.8v.8h-.8zM26.1 213.4h.8v.8h-.8zM34.7 221.9h.8v.8h-.8zM36.9 209.7h.8v.8h-.8zM28.6 206.6h.8v.8h-.8zM45.5 183.9h.8v.8h-.8zM34.8 219.6h.8v.8h-.8zM30.4 216.3h.8v.8h-.8zM31.2 210.9h.8v.8h-.8zM37.8 221.9h.8v.8h-.8zM30.8 205.9h.8v.8h-.8zM23.6 220.2h.8v.8h-.8zM29.4 228.3h.8v.8h-.8zM32.5 220.6h.8v.8h-.8zM29.7 225.2h.8v.8h-.8zM33.0 226.1h.8v.8h-.8zM40.7 215.6h.8v.8h-.8zM33.7 227.1h.8v.8h-.8zM29.1 214.4h.8v.8h-.8zM59.6 177.4h.8v.8h-.8zM35.7 225.6h.8v.8h-.8zM28.9 228.5h.8v.8h-.8zM31.7 210.6h.8v.8h-.8zM39.0 215.2h.8v.8h-.8zM21.7 225.0h.8v.8h-.8zM37.1 217.3h.8v.8h-.8zM33.9 218.8h.8v.8h-.8zM28.9 220.8h.8v.8h-.8zM35.4 222.5h.8v.8h-.8zM49.5 204.0h.8v.8h-.8zM31.5 215.4h.8v.8h-.8zM23.4 204.5h.8v.8h-.8zM28.7 223.8h.8v.8h-.8zM27.6 221.7h.8v.8h-.8zM43.4 216.9h.8v.8h-.8zM43.3 208.3h.8v.8h-.8zM34.9 222.5h.8v.8h-.8zM34.0 223.0h.8v.8h-.8zM31.3 224.6h.8v.8h-.8zM42.5 218.3h.8v.8h-.8zM36.0 202.7h.8v.8h-.8zM38.7 202.7h.8v.8h-.8zM37.5 224.8h.8v.8h-.8zM37.1 194.8h.8v.8h-.8zM53.6 185.8h.8v.8h-.8zM32.5 220.4h.8v.8h-.8zM31.4 226.3h.8v.8h-.8zM27.9 222.4h.8v.8h-.8zM26.1 223.0h.8v.8h-.8zM24.7 230.5h.8v.8h-.8zM34.4 226.8h.8v.8h-.8zM27.2 214.0h.8v.8h-.8zM43.0 216.4h.8v.8h-.8zM26.9 222.3h.8v.8h-.8zM42.7 214.1h.8v.8h-.8zM39.6 216.6h.8v.8h-.8zM38.5 195.7h.8v.8h-.8zM26.3 228.1h.8v.8h-.8zM29.0 204.5h.8v.8h-.8zM32.1 211.5h.8v.8h-.8zM23.1 213.1h.8v.8h-.8zM30.0 220.6h.8v.8h-.8zM33.1 217.8h.8v.8h-.8zM41.1 208.9h.8v.8h-.8zM27.5 220.9h.8v.8h-.8zM32.9 195.8h.8v.8h-.8zM23.3 230.6h.8v.8h-.8zM25.3 207.8h.8v.8h-.8zM29.5 218.7h.8v.8h-.8zM47.6 206.0h.8v.8h-.8zM37.4 216.4h.8v.8h-.8zM36.7 199.8h.8v.8h-.8zM25.3 222.0h.8v.8h-.8zM36.6 203.9h.8v.8h-.8zM44.2 200.2h.8v.8h-.8zM27.2 212.2h.8v.8h-.8zM30.3 216.5h.8v.8h-.8zM30.5 222.8h.8v.8h-.8zM30.5 216.0h.8v.8h-.8zM32.7 215.2h.8v.8h-.8zM29.0 220.1h.8v.8h-.8zM29.3 209.4h.8v.8h-.8zM63.1 177.7h.8v.8h-.8zM46.2 216.2h.8v.8h-.8zM32.7 226.6h.8v.8h-.8zM53.3 207.7h.8v.8h-.8zM37.8 222.2h.8v.8h-.8zM34.5 220.2h.8v.8h-.8zM33.9 219.8h.8v.8h-.8zM26.4 209.3h.8v.8h-.8zM31.1 212.9h.8v.8h-.8zM36.0 195.8h.8v.8h-.8zM44.7 203.0h.8v.8h-.8zM49.0 202.8h.8v.8h-.8zM31.5 228.5h.8v.8h-.8zM27.2 225.9h.8v.8h-.8zM28.3 217.0h.8v.8h-.8zM27.8 227.6h.8v.8h-.8zM27.6 214.2h.8v.8h-.8zM31.7 210.7h.8v.8h-.8zM48.0 200.2h.8v.8h-.8zM31.3 219.5h.8v.8h-.8zM24.2 218.6h.8v.8h-.8zM33.7 219.5h.8v.8h-.8zM32.0 221.2h.8v.8h-.8zM33.8 219.3h.8v.8h-.8zM29.9 228.0h.8v.8h-.8zM34.1 219.7h.8v.8h-.8zM28.5 227.8h.8v.8h-.8zM21.3 227.8h.8v.8h-.8zM33.6 216.8h.8v.8h-.8zM44.2 221.5h.8v.8h-.8zM30.2 208.0h.8v.8h-.8zM25.9 227.3h.8v.8h-.8zM41.6 213.3h.8v.8h-.8zM38.0 216.3h.8v.8h-.8zM34.5 224.6h.8v.8h-.8zM34.0 219.2h.8v.8h-.8zM34.7 209.5h.8v.8h-.8zM45.1 218.8h.8v.8h-.8zM40.0 212.2h.8v.8h-.8zM41.1 215.8h.8v.8h-.8zM33.0 212.4h.8v.8h-.8zM46.2 203.0h.8v.8h-.8zM49.7 224.9h.8v.8h-.8zM27.4 221.1h.8v.8h-.8zM31.7 212.8h.8v.8h-.8zM43.2 217.9h.8v.8h-.8zM32.8 221.8h.8v.8h-.8zM55.0 197.5h.8v.8h-.8zM25.9 226.9h.8v.8h-.8zM38.6 218.6h.8v.8h-.8zM32.8 195.0h.8v.8h-.8zM43.2 212.2h.8v.8h-.8zM38.8 213.7h.8v.8h-.8zM50.7 198.6h.8v.8h-.8zM32.7 218.0h.8v.8h-.8zM26.7 207.7h.8v.8h-.8zM30.5 212.8h.8v.8h-.8zM23.8 214.8h.8v.8h-.8zM36.7 218.7h.8v.8h-.8zM33.7 203.9h.8v.8h-.8zM33.4 214.3h.8v.8h-.8zM34.7 209.6h.8v.8h-.8zM38.4 224.8h.8v.8h-.8zM30.9 223.1h.8v.8h-.8zM39.4 211.3h.8v.8h-.8zM36.3 217.9h.8v.8h-.8zM33.2 213.9h.8v.8h-.8zM43.2 198.6h.8v.8h-.8zM29.1 215.9h.8v.8h-.8zM36.4 209.8h.8v.8h-.8zM34.1 224.4h.8v.8h-.8zM26.8 220.8h.8v.8h-.8zM30.8 225.7h.8v.8h-.8zM29.8 211.8h.8v.8h-.8zM39.1 220.4h.8v.8h-.8zM28.8 215.4h.8v.8h-.8zM36.1 230.0h.8v.8h-.8zM25.3 216.5h.8v.8h-.8zM33.3 216.4h.8v.8h-.8zM36.3 208.9h.8v.8h-.8zM50.7 203.9h.8v.8h-.8zM62.8 191.3h.8v.8h-.8zM37.0 219.1h.8v.8h-.8zM48.7 184.5h.8v.8h-.8zM27.9 224.5h.8v.8h-.8zM51.3 202.0h.8v.8h-.8zM40.6 215.6h.8v.8h-.8zM48.9 217.9h.8v.8h-.8zM39.7 219.3h.8v.8h-.8zM29.0 223.6h.8v.8h-.8zM42.2 220.1h.8v.8h-.8zM28.7 209.4h.8v.8h-.8zM30.9 224.4h.8v.8h-.8zM30.4 220.8h.8v.8h-.8zM41.3 204.7h.8v.8h-.8zM27.3 228.8h.8v.8h-.8zM24.4 225.1h.8v.8h-.8zM40.0 214.1h.8v.8h-.8zM27.8 222.8h.8v.8h-.8zM31.8 220.8h.8v.8h-.8zM41.2 208.2h.8v.8h-.8zM26.3 220.0h.8v.8h-.8zM31.9 217.3h.8v.8h-.8zM25.0 227.0h.8v.8h-.8zM24.9 207.9h.8v.8h-.8zM56.7 189.8h.8v.8h-.8zM45.2 200.2h.8v.8h-.8zM48.9 201.0h.8v.8h-.8zM29.9 218.2h.8v.8h-.8zM41.8 220.2h.8v.8h-.8zM42.4 187.7h.8v.8h-.8zM33.2 193.9h.8v.8h-.8zM37.7 220.4h.8v.8h-.8zM31.1 207.8h.8v.8h-.8zM41.7 198.2h.8v.8h-.8zM33.0 218.1h.8v.8h-.8zM44.8 217.7h.8v.8h-.8zM48.9 216.2h.8v.8h-.8zM49.1 197.4h.8v.8h-.8zM25.9 210.7h.8v.8h-.8zM26.8 215.4h.8v.8h-.8zM24.9 214.6h.8v.8h-.8zM35.8 221.5h.8v.8h-.8zM25.0 228.5h.8v.8h-.8zM40.9 213.2h.8v.8h-.8zM27.3 210.2h.8v.8h-.8zM33.3 223.3h.8v.8h-.8zM37.8 219.5h.8v.8h-.8zM30.1 215.3h.8v.8h-.8zM31.7 219.3h.8v.8h-.8zM38.3 222.1h.8v.8h-.8zM24.2 221.9h.8v.8h-.8zM32.8 229.2h.8v.8h-.8zM42.0 211.6h.8v.8h-.8zM43.5 207.0h.8v.8h-.8zM40.2 215.9h.8v.8h-.8zM37.8 213.2h.8v.8h-.8zM44.7 198.3h.8v.8h-.8zM39.8 220.3h.8v.8h-.8zM37.1 208.3h.8v.8h-.8zM28.4 225.3h.8v.8h-.8zM39.6 213.7h.8v.8h-.8zM29.7 225.6h.8v.8h-.8zM23.4 228.5h.8v.8h-.8zM23.4 228.9h.8v.8h-.8zM24.6 227.1h.8v.8h-.8zM59.9 204.2h.8v.8h-.8zM33.8 217.8h.8v.8h-.8zM31.3 219.6h.8v.8h-.8zM23.8 218.3h.8v.8h-.8zM32.6 213.6h.8v.8h-.8zM29.3 223.7h.8v.8h-.8zM35.0 206.9h.8v.8h-.8zM30.9 213.5h.8v.8h-.8zM40.8 211.4h.8v.8h-.8zM28.2 225.0h.8v.8h-.8zM24.9 210.9h.8v.8h-.8zM41.1 207.6h.8v.8h-.8zM43.8 198.9h.8v.8h-.8zM47.5 213.3h.8v.8h-.8zM43.0 207.4h.8v.8h-.8zM37.3 225.1h.8v.8h-.8zM28.6 221.9h.8v.8h-.8zM28.8 217.4h.8v.8h-.8zM49.5 215.7h.8v.8h-.8zM37.1 221.3h.8v.8h-.8zM37.5 213.2h.8v.8h-.8zM35.6 207.7h.8v.8h-.8zM31.3 218.9h.8v.8h-.8zM32.2 225.3h.8v.8h-.8zM24.9 229.0h.8v.8h-.8zM30.3 221.7h.8v.8h-.8zM37.6 211.2h.8v.8h-.8zM39.7 216.8h.8v.8h-.8zM32.5 223.6h.8v.8h-.8zM35.6 212.9h.8v.8h-.8zM25.7 223.2h.8v.8h-.8zM23.6 228.0h.8v.8h-.8zM27.4 226.4h.8v.8h-.8zM39.1 226.7h.8v.8h-.8zM27.1 223.5h.8v.8h-.8zM31.9 218.4h.8v.8h-.8zM55.8 200.4h.8v.8h-.8zM54.8 210.9h.8v.8h-.8zM31.2 221.5h.8v.8h-.8zM24.0 212.5h.8v.8h-.8zM39.8 224.4h.8v.8h-.8zM39.4 220.0h.8v.8h-.8zM34.2 214.4h.8v.8h-.8zM37.3 223.7h.8v.8h-.8zM23.8 229.5h.8v.8h-.8zM35.0 214.4h.8v.8h-.8zM35.0 219.3h.8v.8h-.8zM41.8 212.8h.8v.8h-.8zM23.8 228.2h.8v.8h-.8zM25.4 229.1h.8v.8h-.8zM21.0 229.5h.8v.8h-.8zM29.1 226.6h.8v.8h-.8zM59.9 202.7h.8v.8h-.8zM37.5 216.1h.8v.8h-.8zM60.8 192.7h.8v.8h-.8zM43.7 192.2h.8v.8h-.8zM31.6 216.5h.8v.8h-.8zM27.6 225.1h.8v.8h-.8zM58.4 197.9h.8v.8h-.8zM44.6 216.3h.8v.8h-.8zM25.6 220.7h.8v.8h-.8zM42.3 216.0h.8v.8h-.8zM28.0 216.0h.8v.8h-.8zM44.1 220.3h.8v.8h-.8zM44.6 197.5h.8v.8h-.8zM43.8 211.3h.8v.8h-.8zM66.6 203.5h.8v.8h-.8zM32.7 230.7h.8v.8h-.8zM33.8 215.1h.8v.8h-.8zM21.5 228.7h.8v.8h-.8zM37.6 212.2h.8v.8h-.8zM42.1 223.1h.8v.8h-.8zM27.5 205.9h.8v.8h-.8zM58.8 196.4h.8v.8h-.8zM42.5 216.4h.8v.8h-.8zM45.9 195.8h.8v.8h-.8zM27.8 227.2h.8v.8h-.8zM26.7 213.6h.8v.8h-.8zM37.6 212.2h.8v.8h-.8zM23.3 229.0h.8v.8h-.8zM29.2 221.5h.8v.8h-.8zM36.5 218.1h.8v.8h-.8zM49.5 197.4h.8v.8h-.8zM23.7 217.6h.8v.8h-.8zM24.7 219.8h.8v.8h-.8zM29.9 210.4h.8v.8h-.8zM26.2 220.1h.8v.8h-.8zM35.7 214.5h.8v.8h-.8zM22.0 223.6h.8v.8h-.8zM33.6 214.6h.8v.8h-.8zM50.8 175.4h.8v.8h-.8zM44.9 202.1h.8v.8h-.8zM36.1 218.9h.8v.8h-.8zM50.9 213.6h.8v.8h-.8zM45.7 193.6h.8v.8h-.8zM49.5 213.6h.8v.8h-.8zM30.4 220.0h.8v.8h-.8zM36.4 200.0h.8v.8h-.8zM26.8 221.6h.8v.8h-.8zM29.4 224.8h.8v.8h-.8zM27.2 223.5h.8v.8h-.8zM22.8 218.5h.8v.8h-.8zM52.9 198.8h.8v.8h-.8zM26.4 217.3h.8v.8h-.8zM23.0 226.4h.8v.8h-.8zM34.8 194.4h.8v.8h-.8zM27.6 224.1h.8v.8h-.8zM25.6 217.7h.8v.8h-.8zM47.9 196.5h.8v.8h-.8zM35.7 206.3h.8v.8h-.8zM39.4 219.3h.8v.8h-.8zM36.0 218.9h.8v.8h-.8zM53.1 200.3h.8v.8h-.8zM33.8 216.1h.8v.8h-.8zM27.6 223.0h.8v.8h-.8zM32.6 220.5h.8v.8h-.8zM42.3 197.6h.8v.8h-.8zM37.1 217.0h.8v.8h-.8zM27.1 219.9h.8v.8h-.8zM39.0 219.6h.8v.8h-.8zM33.3 217.0h.8v.8h-.8zM34.9 216.9h.8v.8h-.8zM24.9 223.6h.8v.8h-.8zM34.0 225.8h.8v.8h-.8zM27.6 222.3h.8v.8h-.8zM30.5 227.2h.8v.8h-.8zM23.8 224.7h.8v.8h-.8zM36.4 220.1h.8v.8h-.8zM24.1 216.7h.8v.8h-.8zM38.4 207.2h.8v.8h-.8zM36.5 195.9h.8v.8h-.8zM25.9 222.4h.8v.8h-.8zM42.9 193.7h.8v.8h-.8zM34.5 222.5h.8v.8h-.8zM38.8 213.1h.8v.8h-.8zM42.4 219.8h.8v.8h-.8zM27.4 221.1h.8v.8h-.8zM41.0 213.6h.8v.8h-.8zM31.9 210.6h.8v.8h-.8zM29.4 215.3h.8v.8h-.8zM34.8 211.2h.8v.8h-.8zM39.6 212.8h.8v.8h-.8zM30.0 217.1h.8v.8h-.8zM26.4 224.8h.8v.8h-.8zM36.6 215.3h.8v.8h-.8zM36.2 212.8h.8v.8h-.8zM36.0 203.7h.8v.8h-.8zM34.1 213.8h.8v.8h-.8zM35.1 214.2h.8v.8h-.8zM26.5 226.1h.8v.8h-.8zM31.0 225.7h.8v.8h-.8zM49.0 200.2h.8v.8h-.8zM27.6 222.7h.8v.8h-.8zM23.8 225.2h.8v.8h-.8zM35.9 220.1h.8v.8h-.8zM48.3 210.3h.8v.8h-.8zM40.6 221.6h.8v.8h-.8zM23.6 226.4h.8v.8h-.8zM30.7 226.0h.8v.8h-.8zM34.9 200.6h.8v.8h-.8zM27.1 227.3h.8v.8h-.8zM46.9 208.7h.8v.8h-.8zM34.5 218.3h.8v.8h-.8zM34.7 212.3h.8v.8h-.8zM32.0 200.5h.8v.8h-.8zM39.8 216.9h.8v.8h-.8zM34.1 221.4h.8v.8h-.8zM22.8 218.5h.8v.8h-.8zM20.5 227.0h.8v.8h-.8zM25.5 211.2h.8v.8h-.8zM27.0 226.2h.8v.8h-.8zM31.6 189.3h.8v.8h-.8zM26.3 224.9h.8v.8h-.8zM21.2 225.2h.8v.8h-.8zM51.6 208.4h.8v.8h-.8zM26.7 224.5h.8v.8h-.8zM32.0 226.2h.8v.8h-.8zM28.8 220.7h.8v.8h-.8zM36.5 193.0h.8v.8h-.8zM33.0 210.1h.8v.8h-.8zM36.4 202.5h.8v.8h-.8zM27.7 213.8h.8v.8h-.8zM39.9 195.0h.8v.8h-.8zM40.2 213.4h.8v.8h-.8zM26.0 226.5h.8v.8h-.8zM37.6 212.4h.8v.8h-.8zM30.1 222.1h.8v.8h-.8zM32.8 206.4h.8v.8h-.8zM30.8 214.1h.8v.8h-.8zM27.6 220.8h.8v.8h-.8zM29.3 215.3h.8v.8h-.8zM34.1 212.2h.8v.8h-.8zM48.4 203.8h.8v.8h-.8zM24.7 220.4h.8v.8h-.8zM27.5 219.3h.8v.8h-.8zM23.1 223.1h.8v.8h-.8zM40.0 211.2h.8v.8h-.8zM34.0 204.6h.8v.8h-.8zM24.1 224.8h.8v.8h-.8zM28.6 210.1h.8v.8h-.8zM33.3 224.0h.8v.8h-.8zM50.9 219.4h.8v.8h-.8zM24.8 228.5h.8v.8h-.8zM22.1 224.9h.8v.8h-.8zM30.5 221.0h.8v.8h-.8zM44.4 223.1h.8v.8h-.8zM48.8 208.1h.8v.8h-.8zM61.6 193.4h.8v.8h-.8zM29.0 206.0h.8v.8h-.8zM47.2 200.3h.8v.8h-.8zM23.7 217.9h.8v.8h-.8zM48.0 205.1h.8v.8h-.8zM31.4 219.5h.8v.8h-.8zM27.5 222.9h.8v.8h-.8zM33.7 219.3h.8v.8h-.8zM32.6 226.3h.8v.8h-.8zM22.6 221.9h.8v.8h-.8zM52.4 201.8h.8v.8h-.8zM23.5 224.0h.8v.8h-.8zM27.5 230.0h.8v.8h-.8zM26.0 223.6h.8v.8h-.8zM25.8 227.7h.8v.8h-.8zM33.9 230.1h.8v.8h-.8zM31.1 216.3h.8v.8h-.8zM37.3 217.5h.8v.8h-.8zM25.1 228.0h.8v.8h-.8zM31.7 200.2h.8v.8h-.8zM21.0 229.3h.8v.8h-.8zM31.3 222.8h.8v.8h-.8zM26.5 211.6h.8v.8h-.8zM30.6 227.7h.8v.8h-.8zM31.8 221.6h.8v.8h-.8zM49.0 213.4h.8v.8h-.8zM56.3 202.4h.8v.8h-.8zM25.4 220.7h.8v.8h-.8zM27.7 219.0h.8v.8h-.8zM32.1 203.0h.8v.8h-.8zM29.7 210.9h.8v.8h-.8zM33.7 212.9h.8v.8h-.8zM31.8 223.0h.8v.8h-.8zM42.4 205.8h.8v.8h-.8zM25.8 227.1h.8v.8h-.8zM32.8 219.1h.8v.8h-.8zM28.3 223.9h.8v.8h-.8zM54.1 177.5h.8v.8h-.8zM42.7 213.1h.8v.8h-.8zM26.7 216.3h.8v.8h-.8zM32.3 210.4h.8v.8h-.8zM44.1 201.8h.8v.8h-.8zM25.6 221.7h.8v.8h-.8zM61.4 200.0h.8v.8h-.8zM28.3 209.6h.8v.8h-.8zM32.6 213.2h.8v.8h-.8zM22.8 227.0h.8v.8h-.8zM22.9 227.8h.8v.8h-.8zM25.0 225.2h.8v.8h-.8zM34.7 222.1h.8v.8h-.8zM30.3 227.6h.8v.8h-.8zM53.1 201.2h.8v.8h-.8zM27.1 213.8h.8v.8h-.8zM27.7 226.2h.8v.8h-.8zM29.2 224.9h.8v.8h-.8zM30.7 218.3h.8v.8h-.8zM41.5 223.1h.8v.8h-.8zM45.0 201.0h.8v.8h-.8zM26.3 221.7h.8v.8h-.8zM27.8 211.6h.8v.8h-.8zM32.4 216.0h.8v.8h-.8zM31.2 213.6h.8v.8h-.8zM31.2 222.6h.8v.8h-.8zM28.3 226.1h.8v.8h-.8zM33.3 228.5h.8v.8h-.8zM27.0 208.3h.8v.8h-.8zM32.5 221.6h.8v.8h-.8zM64.7 195.7h.8v.8h-.8zM40.0 212.3h.8v.8h-.8zM37.3 207.9h.8v.8h-.8zM50.3 193.7h.8v.8h-.8zM22.5 227.4h.8v.8h-.8zM38.9 198.6h.8v.8h-.8zM30.2 184.4h.8v.8h-.8zM31.9 224.9h.8v.8h-.8zM29.2 211.9h.8v.8h-.8zM52.4 217.4h.8v.8h-.8zM23.4 224.5h.8v.8h-.8zM58.3 174.1h.8v.8h-.8zM22.7 225.3h.8v.8h-.8zM50.7 208.0h.8v.8h-.8zM40.9 211.7h.8v.8h-.8zM27.6 216.7h.8v.8h-.8zM42.6 228.4h.8v.8h-.8zM32.8 221.1h.8v.8h-.8zM27.0 225.0h.8v.8h-.8zM36.9 223.7h.8v.8h-.8zM49.7 187.3h.8v.8h-.8zM27.1 225.9h.8v.8h-.8zM31.8 205.8h.8v.8h-.8zM33.1 212.8h.8v.8h-.8zM27.1 222.8h.8v.8h-.8zM37.3 204.8h.8v.8h-.8zM25.4 225.1h.8v.8h-.8zM48.3 210.9h.8v.8h-.8zM46.8 223.1h.8v.8h-.8zM29.5 215.9h.8v.8h-.8zM50.1 194.0h.8v.8h-.8zM39.9 217.4h.8v.8h-.8zM25.2 226.6h.8v.8h-.8zM40.7 217.8h.8v.8h-.8zM31.7 219.9h.8v.8h-.8zM32.7 218.7h.8v.8h-.8zM28.2 224.9h.8v.8h-.8zM40.8 219.5h.8v.8h-.8zM37.9 212.0h.8v.8h-.8zM39.7 222.7h.8v.8h-.8zM31.3 225.4h.8v.8h-.8zM32.2 213.0h.8v.8h-.8zM37.7 211.3h.8v.8h-.8zM34.6 208.9h.8v.8h-.8zM23.2 221.8h.8v.8h-.8zM55.7 178.9h.8v.8h-.8zM27.4 215.4h.8v.8h-.8zM27.7 219.0h.8v.8h-.8zM31.8 216.5h.8v.8h-.8zM28.1 223.0h.8v.8h-.8zM29.2 214.0h.8v.8h-.8zM27.6 216.0h.8v.8h-.8zM37.5 221.3h.8v.8h-.8zM44.9 197.9h.8v.8h-.8zM37.6 200.7h.8v.8h-.8zM39.2 209.8h.8v.8h-.8zM42.2 223.7h.8v.8h-.8zM28.4 222.5h.8v.8h-.8zM50.5 220.1h.8v.8h-.8zM47.1 195.7h.8v.8h-.8zM43.2 216.0h.8v.8h-.8zM49.1 185.6h.8v.8h-.8zM30.5 225.6h.8v.8h-.8zM25.0 219.2h.8v.8h-.8zM37.9 192.4h.8v.8h-.8zM49.7 211.4h.8v.8h-.8zM26.7 221.5h.8v.8h-.8zM21.5 227.0h.8v.8h-.8zM23.7 230.0h.8v.8h-.8zM86.6 200.3h.8v.8h-.8zM41.9 203.8h.8v.8h-.8zM29.8 223.5h.8v.8h-.8zM36.4 214.3h.8v.8h-.8zM23.4 226.1h.8v.8h-.8zM37.7 226.0h.8v.8h-.8zM42.8 187.5h.8v.8h-.8zM38.9 216.1h.8v.8h-.8zM31.0 220.2h.8v.8h-.8zM24.1 216.0h.8v.8h-.8zM27.0 219.8h.8v.8h-.8zM29.3 220.8h.8v.8h-.8zM48.9 219.5h.8v.8h-.8zM24.4 217.7h.8v.8h-.8zM36.0 220.3h.8v.8h-.8zM27.4 219.1h.8v.8h-.8zM27.9 224.0h.8v.8h-.8zM24.6 220.3h.8v.8h-.8zM33.8 224.9h.8v.8h-.8zM54.5 197.6h.8v.8h-.8zM52.9 194.9h.8v.8h-.8zM44.9 211.1h.8v.8h-.8zM27.6 231.2h.8v.8h-.8zM32.7 206.9h.8v.8h-.8zM26.2 220.6h.8v.8h-.8zM25.6 228.5h.8v.8h-.8zM31.8 217.9h.8v.8h-.8zM31.4 212.3h.8v.8h-.8zM28.4 217.4h.8v.8h-.8zM36.9 191.5h.8v.8h-.8zM37.3 210.1h.8v.8h-.8zM41.2 210.7h.8v.8h-.8zM54.0 209.1h.8v.8h-.8zM27.0 223.6h.8v.8h-.8zM32.0 220.0h.8v.8h-.8zM37.8 194.2h.8v.8h-.8zM45.4 217.2h.8v.8h-.8zM39.6 212.2h.8v.8h-.8zM35.1 201.8h.8v.8h-.8zM26.9 215.2h.8v.8h-.8zM29.9 223.1h.8v.8h-.8zM32.0 209.8h.8v.8h-.8zM50.9 212.6h.8v.8h-.8zM22.4 220.4h.8v.8h-.8zM58.3 202.6h.8v.8h-.8zM27.4 218.9h.8v.8h-.8zM36.6 215.8h.8v.8h-.8zM57.8 216.9h.8v.8h-.8zM39.8 216.6h.8v.8h-.8zM29.9 196.3h.8v.8h-.8zM28.4 220.9h.8v.8h-.8zM47.0 217.4h.8v.8h-.8zM40.0 221.2h.8v.8h-.8zM35.6 210.4h.8v.8h-.8zM28.0 222.6h.8v.8h-.8zM43.1 203.7h.8v.8h-.8zM28.7 223.2h.8v.8h-.8zM30.3 217.6h.8v.8h-.8zM23.9 226.5h.8v.8h-.8zM34.6 216.9h.8v.8h-.8zM33.0 229.0h.8v.8h-.8zM33.5 219.4h.8v.8h-.8zM24.2 226.4h.8v.8h-.8zM28.0 215.6h.8v.8h-.8zM23.2 219.8h.8v.8h-.8zM24.3 226.2h.8v.8h-.8zM25.0 214.3h.8v.8h-.8zM28.2 221.6h.8v.8h-.8zM24.0 219.3h.8v.8h-.8zM26.3 222.9h.8v.8h-.8zM34.5 208.1h.8v.8h-.8zM43.6 218.4h.8v.8h-.8zM41.8 212.6h.8v.8h-.8zM24.3 221.5h.8v.8h-.8zM34.0 204.6h.8v.8h-.8zM26.1 220.3h.8v.8h-.8zM39.2 213.9h.8v.8h-.8zM33.8 222.1h.8v.8h-.8zM26.0 227.4h.8v.8h-.8zM31.7 220.7h.8v.8h-.8zM43.7 200.9h.8v.8h-.8zM30.7 225.1h.8v.8h-.8zM29.3 222.3h.8v.8h-.8zM32.1 222.4h.8v.8h-.8zM48.4 216.4h.8v.8h-.8zM31.3 219.1h.8v.8h-.8zM26.1 226.7h.8v.8h-.8zM30.2 216.8h.8v.8h-.8zM51.9 226.0h.8v.8h-.8zM39.0 205.8h.8v.8h-.8zM32.2 223.5h.8v.8h-.8zM38.0 215.0h.8v.8h-.8zM36.8 224.2h.8v.8h-.8zM29.9 216.2h.8v.8h-.8zM38.2 214.9h.8v.8h-.8zM25.3 220.3h.8v.8h-.8zM67.2 202.1h.8v.8h-.8zM46.7 198.4h.8v.8h-.8zM28.4 217.1h.8v.8h-.8zM29.0 210.0h.8v.8h-.8zM25.8 218.2h.8v.8h-.8zM35.0 209.8h.8v.8h-.8zM41.0 203.6h.8v.8h-.8zM36.3 222.0h.8v.8h-.8zM24.2 230.5h.8v.8h-.8zM26.6 207.6h.8v.8h-.8zM42.3 181.9h.8v.8h-.8zM39.0 214.7h.8v.8h-.8zM38.8 224.3h.8v.8h-.8zM29.3 210.3h.8v.8h-.8zM28.6 215.2h.8v.8h-.8zM26.8 226.0h.8v.8h-.8zM46.1 200.8h.8v.8h-.8zM31.5 219.4h.8v.8h-.8zM31.5 209.5h.8v.8h-.8zM34.8 216.1h.8v.8h-.8zM30.1 207.8h.8v.8h-.8zM31.4 214.0h.8v.8h-.8zM29.6 211.8h.8v.8h-.8zM30.9 223.6h.8v.8h-.8zM25.4 223.2h.8v.8h-.8zM51.2 221.6h.8v.8h-.8zM24.1 222.4h.8v.8h-.8zM37.5 226.0h.8v.8h-.8zM40.1 206.6h.8v.8h-.8zM30.9 219.4h.8v.8h-.8zM31.2 208.3h.8v.8h-.8zM33.1 219.2h.8v.8h-.8zM21.5 225.9h.8v.8h-.8zM21.1 228.5h.8v.8h-.8zM34.8 219.2h.8v.8h-.8zM25.7 222.1h.8v.8h-.8zM25.4 222.6h.8v.8h-.8zM33.9 211.9h.8v.8h-.8zM53.4 216.5h.8v.8h-.8zM31.1 218.4h.8v.8h-.8zM37.4 213.0h.8v.8h-.8zM36.3 218.2h.8v.8h-.8z" fill="#4371D0" fill-opacity="0.9"/>
<line x1="20.50" y1="133.70" x2="20.50" y2="231.80" stroke="#808080" stroke-width="1"/>
<line x1="20.50" y1="231.80" x2="112.30" y2="231.80" stroke="#808080" stroke-width="1"/>
<line x1="18.70" y1="231.80" x2="20.50" y2="231.80" stroke="#808080" stroke-width="0.8"/>
<text x="14.50" y="234.15" font-size="6.7" text-anchor="end">0</text>
<line x1="20.80" y1="231.80" x2="20.80" y2="233.80" stroke="#808080" stroke-width="0.8"/>
<text x="21.00" y="243.80" font-size="6.7" text-anchor="middle">0</text>
<line x1="18.70" y1="212.18" x2="20.50" y2="212.18" stroke="#808080" stroke-width="0.8"/>
<text x="14.50" y="214.53" font-size="6.7" text-anchor="end">100</text>
<line x1="39.10" y1="231.80" x2="39.10" y2="233.80" stroke="#808080" stroke-width="0.8"/>
<text x="39.30" y="243.80" font-size="6.7" text-anchor="middle">100</text>
<line x1="18.70" y1="192.56" x2="20.50" y2="192.56" stroke="#808080" stroke-width="0.8"/>
<text x="14.50" y="194.91" font-size="6.7" text-anchor="end">200</text>
<line x1="57.40" y1="231.80" x2="57.40" y2="233.80" stroke="#808080" stroke-width="0.8"/>
<text x="57.60" y="243.80" font-size="6.7" text-anchor="middle">200</text>
<line x1="18.70" y1="172.94" x2="20.50" y2="172.94" stroke="#808080" stroke-width="0.8"/>
<text x="14.50" y="175.29" font-size="6.7" text-anchor="end">300</text>
<line x1="75.70" y1="231.80" x2="75.70" y2="233.80" stroke="#808080" stroke-width="0.8"/>
<text x="75.90" y="243.80" font-size="6.7" text-anchor="middle">300</text>
<line x1="18.70" y1="153.32" x2="20.50" y2="153.32" stroke="#808080" stroke-width="0.8"/>
<text x="14.50" y="155.67" font-size="6.7" text-anchor="end">400</text>
<line x1="94.00" y1="231.80" x2="94.00" y2="233.80" stroke="#808080" stroke-width="0.8"/>
<text x="94.20" y="243.80" font-size="6.7" text-anchor="middle">400</text>
<line x1="18.70" y1="133.70" x2="20.50" y2="133.70" stroke="#808080" stroke-width="0.8"/>
<text x="14.50" y="136.05" font-size="6.7" text-anchor="end">500</text>
<line x1="112.30" y1="231.80" x2="112.30" y2="233.80" stroke="#808080" stroke-width="0.8"/>
<text x="112.50" y="243.80" font-size="6.7" text-anchor="middle">500</text>
<text x="25.20" y="140.20" font-size="6.5" text-anchor="start" textLength="52.4" lengthAdjust="spacingAndGlyphs">P_CHIRPS_month</text>
<text x="25.20" y="148.70" font-size="6.5" text-anchor="start" textLength="15.7" lengthAdjust="spacingAndGlyphs">(mm)</text>
<text x="75.00" y="226.20" font-size="6.5" text-anchor="start" textLength="38" lengthAdjust="spacingAndGlyphs">P_OBS (mm)</text>
<text x="88.70" y="171.60" font-size="6.6" text-anchor="start" textLength="3.6" lengthAdjust="spacingAndGlyphs">R</text>
<text x="92.40" y="170.00" font-size="4.4" text-anchor="start" textLength="2.0" lengthAdjust="spacingAndGlyphs">2</text>
<text x="97.10" y="171.60" font-size="6.4" text-anchor="start" textLength="3.4" lengthAdjust="spacingAndGlyphs">=</text>
<text x="102.70" y="171.60" font-size="6.6" text-anchor="start" textLength="13.1" lengthAdjust="spacingAndGlyphs">0.83</text>
<line x1="212.80" y1="153.32" x2="139.60" y2="231.80" stroke="#727272" stroke-width="1.1" stroke-dasharray="3.4,2.8"/>
<line x1="139.60" y1="231.80" x2="203.70" y2="148.20" stroke="#f29a62" stroke-width="1.1"/>
<path d="M143.7 217.0h.8v.8h-.8zM147.2 211.8h.8v.8h-.8zM162.0 194.5h.8v.8h-.8zM148.9 219.6h.8v.8h-.8zM153.6 208.5h.8v.8h-.8zM144.9 220.8h.8v.8h-.8zM157.4 215.1h.8v.8h-.8zM147.9 209.3h.8v.8h-.8zM149.6 221.8h.8v.8h-.8zM145.9 218.4h.8v.8h-.8zM156.2 219.5h.8v.8h-.8zM156.2 208.5h.8v.8h-.8zM143.2 226.6h.8v.8h-.8zM145.5 221.8h.8v.8h-.8zM143.2 222.8h.8v.8h-.8zM154.5 216.9h.8v.8h-.8zM145.6 222.8h.8v.8h-.8zM144.1 221.5h.8v.8h-.8zM156.0 212.8h.8v.8h-.8zM162.6 194.2h.8v.8h-.8zM141.8 227.7h.8v.8h-.8zM142.1 219.1h.8v.8h-.8zM150.7 210.2h.8v.8h-.8zM148.0 212.6h.8v.8h-.8zM168.5 208.5h.8v.8h-.8zM158.2 202.1h.8v.8h-.8zM148.4 214.9h.8v.8h-.8zM162.6 184.3h.8v.8h-.8zM174.4 157.0h.8v.8h-.8zM164.7 207.3h.8v.8h-.8zM148.5 220.0h.8v.8h-.8zM172.7 200.9h.8v.8h-.8zM155.0 212.3h.8v.8h-.8zM156.0 202.9h.8v.8h-.8zM152.5 216.6h.8v.8h-.8zM153.6 212.5h.8v.8h-.8zM159.8 199.4h.8v.8h-.8zM145.8 225.1h.8v.8h-.8zM169.4 209.5h.8v.8h-.8zM146.8 223.3h.8v.8h-.8zM153.8 205.1h.8v.8h-.8zM143.6 223.1h.8v.8h-.8zM146.7 226.2h.8v.8h-.8zM153.4 214.7h.8v.8h-.8zM148.4 209.4h.8v.8h-.8zM147.3 216.9h.8v.8h-.8zM142.9 227.9h.8v.8h-.8zM147.1 213.6h.8v.8h-.8zM148.6 217.7h.8v.8h-.8zM147.9 221.1h.8v.8h-.8zM154.7 212.7h.8v.8h-.8zM154.0 213.1h.8v.8h-.8zM153.1 202.7h.8v.8h-.8zM175.0 189.2h.8v.8h-.8zM147.5 223.9h.8v.8h-.8zM152.6 213.2h.8v.8h-.8zM147.8 219.6h.8v.8h-.8zM149.4 208.4h.8v.8h-.8zM148.5 214.9h.8v.8h-.8zM177.5 186.4h.8v.8h-.8zM159.2 216.2h.8v.8h-.8zM143.6 220.4h.8v.8h-.8zM151.7 212.7h.8v.8h-.8zM147.7 217.7h.8v.8h-.8zM159.0 203.6h.8v.8h-.8zM162.1 203.2h.8v.8h-.8zM157.5 208.1h.8v.8h-.8zM150.2 195.1h.8v.8h-.8zM153.3 196.5h.8v.8h-.8zM150.0 217.1h.8v.8h-.8zM158.0 204.9h.8v.8h-.8zM155.7 217.4h.8v.8h-.8zM169.3 172.9h.8v.8h-.8zM143.7 220.6h.8v.8h-.8zM153.2 213.7h.8v.8h-.8zM153.9 223.7h.8v.8h-.8zM159.4 174.8h.8v.8h-.8zM151.1 217.0h.8v.8h-.8zM151.1 219.3h.8v.8h-.8zM157.2 214.5h.8v.8h-.8zM157.4 204.2h.8v.8h-.8zM146.7 225.6h.8v.8h-.8zM147.0 219.7h.8v.8h-.8zM142.1 225.5h.8v.8h-.8zM157.8 196.2h.8v.8h-.8zM165.7 206.6h.8v.8h-.8zM149.4 217.3h.8v.8h-.8zM150.5 213.5h.8v.8h-.8zM151.7 213.7h.8v.8h-.8zM182.0 179.7h.8v.8h-.8zM147.9 224.1h.8v.8h-.8zM158.2 211.3h.8v.8h-.8zM146.6 217.0h.8v.8h-.8zM154.3 204.1h.8v.8h-.8zM159.4 213.1h.8v.8h-.8zM157.9 208.1h.8v.8h-.8zM179.1 188.4h.8v.8h-.8zM142.6 222.6h.8v.8h-.8zM173.9 198.8h.8v.8h-.8zM140.6 227.0h.8v.8h-.8zM151.3 211.9h.8v.8h-.8zM147.7 225.1h.8v.8h-.8zM163.4 207.1h.8v.8h-.8zM151.7 216.4h.8v.8h-.8zM173.9 188.3h.8v.8h-.8zM150.0 202.5h.8v.8h-.8zM151.0 214.5h.8v.8h-.8zM147.2 222.2h.8v.8h-.8zM152.3 214.9h.8v.8h-.8zM153.7 219.1h.8v.8h-.8zM168.1 196.0h.8v.8h-.8zM161.4 192.6h.8v.8h-.8zM154.1 213.4h.8v.8h-.8zM140.4 228.5h.8v.8h-.8zM164.4 200.2h.8v.8h-.8zM146.0 224.0h.8v.8h-.8zM153.1 224.8h.8v.8h-.8zM162.0 214.8h.8v.8h-.8zM148.3 220.7h.8v.8h-.8zM173.8 203.2h.8v.8h-.8zM160.3 207.5h.8v.8h-.8zM144.2 224.1h.8v.8h-.8zM162.9 210.6h.8v.8h-.8zM146.2 221.6h.8v.8h-.8zM154.0 212.9h.8v.8h-.8zM149.7 217.0h.8v.8h-.8zM159.9 216.4h.8v.8h-.8zM167.2 206.9h.8v.8h-.8zM170.3 198.3h.8v.8h-.8zM151.6 219.1h.8v.8h-.8zM159.9 211.0h.8v.8h-.8zM166.3 217.8h.8v.8h-.8zM144.0 217.3h.8v.8h-.8zM163.8 194.9h.8v.8h-.8zM152.8 196.0h.8v.8h-.8zM169.1 181.6h.8v.8h-.8zM155.3 219.8h.8v.8h-.8zM153.9 212.7h.8v.8h-.8zM165.7 207.8h.8v.8h-.8zM149.6 215.5h.8v.8h-.8zM172.2 203.3h.8v.8h-.8zM155.2 215.2h.8v.8h-.8zM140.6 228.6h.8v.8h-.8zM150.8 218.0h.8v.8h-.8zM152.6 212.0h.8v.8h-.8zM143.8 220.9h.8v.8h-.8zM165.8 208.7h.8v.8h-.8zM145.9 221.3h.8v.8h-.8zM153.7 211.5h.8v.8h-.8zM147.1 218.0h.8v.8h-.8zM170.1 207.4h.8v.8h-.8zM165.8 197.4h.8v.8h-.8zM148.1 221.0h.8v.8h-.8zM155.9 206.8h.8v.8h-.8zM147.6 211.3h.8v.8h-.8zM183.4 184.8h.8v.8h-.8zM149.2 228.9h.8v.8h-.8zM145.2 226.6h.8v.8h-.8zM149.2 222.8h.8v.8h-.8zM155.2 204.1h.8v.8h-.8zM143.5 223.6h.8v.8h-.8zM167.0 204.1h.8v.8h-.8zM156.6 207.7h.8v.8h-.8zM158.5 208.1h.8v.8h-.8zM145.3 224.8h.8v.8h-.8zM144.8 217.3h.8v.8h-.8zM149.3 222.8h.8v.8h-.8zM148.8 215.5h.8v.8h-.8zM143.9 224.1h.8v.8h-.8zM172.0 180.0h.8v.8h-.8zM163.2 210.7h.8v.8h-.8zM169.3 203.9h.8v.8h-.8zM159.2 203.3h.8v.8h-.8zM150.0 215.8h.8v.8h-.8zM143.9 226.5h.8v.8h-.8zM146.0 225.9h.8v.8h-.8zM157.6 215.2h.8v.8h-.8zM149.4 222.5h.8v.8h-.8zM151.7 223.0h.8v.8h-.8zM148.7 216.7h.8v.8h-.8zM148.9 217.5h.8v.8h-.8zM155.9 205.1h.8v.8h-.8zM148.7 221.1h.8v.8h-.8zM155.7 207.2h.8v.8h-.8zM154.9 217.5h.8v.8h-.8zM159.7 215.0h.8v.8h-.8zM155.5 199.0h.8v.8h-.8zM155.6 217.1h.8v.8h-.8zM159.9 199.8h.8v.8h-.8zM154.9 204.4h.8v.8h-.8zM153.6 208.6h.8v.8h-.8zM149.5 219.3h.8v.8h-.8zM145.6 220.2h.8v.8h-.8zM164.4 178.2h.8v.8h-.8zM157.7 187.4h.8v.8h-.8zM159.0 203.3h.8v.8h-.8zM145.2 222.6h.8v.8h-.8zM143.9 220.2h.8v.8h-.8zM175.1 195.0h.8v.8h-.8zM152.7 214.8h.8v.8h-.8zM160.6 216.5h.8v.8h-.8zM157.4 171.4h.8v.8h-.8zM141.5 223.3h.8v.8h-.8zM156.0 192.2h.8v.8h-.8zM158.4 208.1h.8v.8h-.8zM150.2 215.2h.8v.8h-.8zM165.8 206.5h.8v.8h-.8zM158.1 215.8h.8v.8h-.8zM151.7 216.5h.8v.8h-.8zM162.3 184.2h.8v.8h-.8zM145.8 214.3h.8v.8h-.8zM162.9 208.5h.8v.8h-.8zM144.1 224.2h.8v.8h-.8zM147.5 217.1h.8v.8h-.8zM142.7 226.3h.8v.8h-.8zM155.6 210.4h.8v.8h-.8zM144.7 223.5h.8v.8h-.8zM173.4 202.2h.8v.8h-.8zM156.6 211.6h.8v.8h-.8zM150.0 223.3h.8v.8h-.8zM146.8 212.9h.8v.8h-.8zM160.9 211.4h.8v.8h-.8zM174.9 177.4h.8v.8h-.8zM167.5 195.6h.8v.8h-.8zM146.9 218.5h.8v.8h-.8zM163.2 203.4h.8v.8h-.8zM156.8 199.1h.8v.8h-.8zM158.3 216.0h.8v.8h-.8zM149.2 201.3h.8v.8h-.8zM149.3 221.5h.8v.8h-.8zM180.1 192.2h.8v.8h-.8zM144.7 215.0h.8v.8h-.8zM148.8 217.2h.8v.8h-.8zM157.9 215.3h.8v.8h-.8zM160.4 215.2h.8v.8h-.8zM155.7 201.2h.8v.8h-.8zM154.9 210.7h.8v.8h-.8zM145.7 220.8h.8v.8h-.8zM161.5 203.9h.8v.8h-.8zM168.1 217.7h.8v.8h-.8zM157.9 212.5h.8v.8h-.8zM146.5 196.4h.8v.8h-.8zM148.9 213.4h.8v.8h-.8zM150.4 217.4h.8v.8h-.8zM153.0 203.1h.8v.8h-.8zM171.2 199.8h.8v.8h-.8zM142.2 224.8h.8v.8h-.8zM162.8 201.8h.8v.8h-.8zM165.9 211.5h.8v.8h-.8zM144.4 219.0h.8v.8h-.8zM154.6 199.3h.8v.8h-.8zM145.2 220.3h.8v.8h-.8zM154.5 209.4h.8v.8h-.8zM153.5 213.2h.8v.8h-.8zM154.3 219.5h.8v.8h-.8zM157.6 209.0h.8v.8h-.8zM157.5 210.0h.8v.8h-.8zM147.5 223.9h.8v.8h-.8zM172.6 195.7h.8v.8h-.8zM143.6 227.1h.8v.8h-.8zM169.7 172.0h.8v.8h-.8zM154.4 217.2h.8v.8h-.8zM143.1 218.1h.8v.8h-.8zM156.4 214.6h.8v.8h-.8zM143.0 229.2h.8v.8h-.8zM149.9 224.0h.8v.8h-.8zM158.1 215.0h.8v.8h-.8zM162.7 187.4h.8v.8h-.8zM166.2 192.8h.8v.8h-.8zM151.3 222.8h.8v.8h-.8zM154.7 209.6h.8v.8h-.8zM142.5 228.5h.8v.8h-.8zM155.8 199.2h.8v.8h-.8zM153.6 221.0h.8v.8h-.8zM170.5 208.7h.8v.8h-.8zM151.6 211.2h.8v.8h-.8zM146.0 224.0h.8v.8h-.8zM176.0 191.6h.8v.8h-.8zM151.6 205.5h.8v.8h-.8zM150.0 221.4h.8v.8h-.8zM149.4 216.9h.8v.8h-.8zM142.9 224.1h.8v.8h-.8zM160.0 210.9h.8v.8h-.8zM148.6 214.0h.8v.8h-.8zM151.9 214.4h.8v.8h-.8zM149.2 214.4h.8v.8h-.8zM155.8 214.9h.8v.8h-.8zM145.5 227.6h.8v.8h-.8zM150.2 222.4h.8v.8h-.8zM141.1 229.3h.8v.8h-.8zM147.0 223.8h.8v.8h-.8zM154.0 204.3h.8v.8h-.8zM152.0 212.5h.8v.8h-.8zM166.6 211.3h.8v.8h-.8zM144.3 218.8h.8v.8h-.8zM151.8 214.8h.8v.8h-.8zM154.6 220.9h.8v.8h-.8zM146.4 226.2h.8v.8h-.8zM162.5 194.1h.8v.8h-.8zM175.9 178.3h.8v.8h-.8zM153.6 210.2h.8v.8h-.8zM147.2 218.7h.8v.8h-.8zM148.3 218.8h.8v.8h-.8zM144.5 218.1h.8v.8h-.8zM170.5 192.1h.8v.8h-.8zM161.2 203.3h.8v.8h-.8zM152.9 208.6h.8v.8h-.8zM164.7 196.0h.8v.8h-.8zM154.1 211.6h.8v.8h-.8zM156.4 198.8h.8v.8h-.8zM154.2 211.6h.8v.8h-.8zM151.3 186.4h.8v.8h-.8zM162.3 199.8h.8v.8h-.8zM153.4 219.5h.8v.8h-.8zM159.1 202.3h.8v.8h-.8zM142.3 221.5h.8v.8h-.8zM177.0 175.2h.8v.8h-.8zM147.2 218.4h.8v.8h-.8zM151.7 209.9h.8v.8h-.8zM146.0 216.9h.8v.8h-.8zM162.7 210.1h.8v.8h-.8zM165.0 195.4h.8v.8h-.8zM150.7 218.0h.8v.8h-.8zM157.3 208.9h.8v.8h-.8zM152.2 214.4h.8v.8h-.8zM159.4 209.2h.8v.8h-.8zM153.2 212.9h.8v.8h-.8zM153.2 190.0h.8v.8h-.8zM153.6 210.6h.8v.8h-.8zM161.8 206.2h.8v.8h-.8zM148.4 221.0h.8v.8h-.8zM146.7 220.7h.8v.8h-.8zM148.6 209.9h.8v.8h-.8zM147.1 217.7h.8v.8h-.8zM149.3 211.6h.8v.8h-.8zM148.3 222.4h.8v.8h-.8zM167.7 187.4h.8v.8h-.8zM146.8 216.7h.8v.8h-.8zM143.3 224.9h.8v.8h-.8zM146.7 213.7h.8v.8h-.8zM148.7 214.2h.8v.8h-.8zM153.2 207.2h.8v.8h-.8zM142.0 225.9h.8v.8h-.8zM159.4 203.3h.8v.8h-.8zM160.5 213.0h.8v.8h-.8zM166.4 210.5h.8v.8h-.8zM149.0 219.6h.8v.8h-.8zM152.5 224.9h.8v.8h-.8zM163.2 191.9h.8v.8h-.8zM172.8 183.8h.8v.8h-.8zM149.3 218.4h.8v.8h-.8zM164.3 194.3h.8v.8h-.8zM150.3 227.3h.8v.8h-.8zM155.2 213.2h.8v.8h-.8zM151.1 211.0h.8v.8h-.8zM145.7 215.0h.8v.8h-.8zM164.8 198.8h.8v.8h-.8zM143.0 222.8h.8v.8h-.8zM156.1 211.4h.8v.8h-.8zM171.0 184.2h.8v.8h-.8zM145.8 222.2h.8v.8h-.8zM172.6 199.6h.8v.8h-.8zM166.3 208.0h.8v.8h-.8zM156.3 215.9h.8v.8h-.8zM159.1 214.4h.8v.8h-.8zM159.6 213.1h.8v.8h-.8zM150.9 216.6h.8v.8h-.8zM155.5 211.6h.8v.8h-.8zM180.6 182.7h.8v.8h-.8zM150.7 218.0h.8v.8h-.8zM155.9 215.3h.8v.8h-.8zM154.1 212.9h.8v.8h-.8zM144.5 221.9h.8v.8h-.8zM150.7 216.7h.8v.8h-.8zM161.1 210.0h.8v.8h-.8zM182.2 194.1h.8v.8h-.8zM151.5 208.3h.8v.8h-.8zM146.4 212.1h.8v.8h-.8zM147.2 218.3h.8v.8h-.8zM141.3 227.2h.8v.8h-.8zM162.0 202.3h.8v.8h-.8zM156.3 216.7h.8v.8h-.8zM146.2 219.8h.8v.8h-.8zM150.7 207.1h.8v.8h-.8zM160.5 211.4h.8v.8h-.8zM157.7 211.3h.8v.8h-.8zM145.1 223.8h.8v.8h-.8zM145.9 221.9h.8v.8h-.8zM151.8 222.4h.8v.8h-.8zM147.0 220.9h.8v.8h-.8zM153.2 210.5h.8v.8h-.8zM172.9 186.2h.8v.8h-.8zM146.2 211.4h.8v.8h-.8zM146.2 223.3h.8v.8h-.8zM170.9 196.8h.8v.8h-.8zM158.1 203.2h.8v.8h-.8zM180.1 189.9h.8v.8h-.8zM151.5 219.8h.8v.8h-.8zM142.6 218.5h.8v.8h-.8zM156.4 210.6h.8v.8h-.8zM163.6 207.9h.8v.8h-.8zM142.7 219.1h.8v.8h-.8zM164.4 200.1h.8v.8h-.8zM151.2 224.6h.8v.8h-.8zM162.3 206.1h.8v.8h-.8zM142.4 204.8h.8v.8h-.8zM155.0 187.7h.8v.8h-.8zM198.0 187.3h.8v.8h-.8zM163.6 208.1h.8v.8h-.8zM157.7 195.5h.8v.8h-.8zM152.2 221.9h.8v.8h-.8zM147.2 218.5h.8v.8h-.8zM168.2 184.7h.8v.8h-.8zM144.7 221.6h.8v.8h-.8zM154.4 211.7h.8v.8h-.8zM153.7 210.7h.8v.8h-.8zM158.1 213.4h.8v.8h-.8zM142.4 227.4h.8v.8h-.8zM143.7 227.0h.8v.8h-.8zM158.9 213.2h.8v.8h-.8zM147.7 209.8h.8v.8h-.8zM172.1 178.3h.8v.8h-.8zM140.9 225.9h.8v.8h-.8zM151.3 202.8h.8v.8h-.8zM149.4 217.8h.8v.8h-.8zM165.6 215.2h.8v.8h-.8zM147.8 225.7h.8v.8h-.8zM142.2 225.1h.8v.8h-.8zM148.2 220.0h.8v.8h-.8zM148.7 218.3h.8v.8h-.8zM153.6 205.3h.8v.8h-.8zM172.6 206.0h.8v.8h-.8zM146.8 222.9h.8v.8h-.8zM148.2 219.6h.8v.8h-.8zM200.8 162.4h.8v.8h-.8zM153.5 214.9h.8v.8h-.8zM147.6 215.0h.8v.8h-.8zM147.7 214.2h.8v.8h-.8zM150.7 219.1h.8v.8h-.8zM143.4 223.9h.8v.8h-.8zM149.2 211.5h.8v.8h-.8zM161.0 215.7h.8v.8h-.8zM152.3 219.5h.8v.8h-.8zM153.2 208.9h.8v.8h-.8zM141.3 226.5h.8v.8h-.8zM142.7 225.6h.8v.8h-.8zM158.7 203.0h.8v.8h-.8zM167.4 179.6h.8v.8h-.8zM145.1 222.3h.8v.8h-.8zM145.0 212.3h.8v.8h-.8zM178.5 198.5h.8v.8h-.8zM145.6 213.1h.8v.8h-.8zM147.2 221.5h.8v.8h-.8zM155.5 198.9h.8v.8h-.8zM150.3 216.3h.8v.8h-.8zM161.2 192.1h.8v.8h-.8zM143.8 225.2h.8v.8h-.8zM146.1 221.5h.8v.8h-.8zM162.6 209.3h.8v.8h-.8zM175.5 185.0h.8v.8h-.8zM143.9 220.8h.8v.8h-.8zM159.6 197.1h.8v.8h-.8zM152.8 216.7h.8v.8h-.8zM165.2 194.4h.8v.8h-.8zM170.8 216.1h.8v.8h-.8zM155.4 211.1h.8v.8h-.8zM153.6 221.4h.8v.8h-.8zM149.4 206.3h.8v.8h-.8zM156.4 189.5h.8v.8h-.8zM146.1 212.3h.8v.8h-.8zM153.8 211.9h.8v.8h-.8zM161.5 202.2h.8v.8h-.8zM154.5 212.7h.8v.8h-.8zM164.5 201.0h.8v.8h-.8zM163.5 185.9h.8v.8h-.8zM142.4 225.9h.8v.8h-.8zM158.3 216.2h.8v.8h-.8zM151.0 223.2h.8v.8h-.8zM152.5 203.4h.8v.8h-.8zM170.9 196.8h.8v.8h-.8zM150.3 221.4h.8v.8h-.8zM165.0 206.4h.8v.8h-.8zM156.6 214.1h.8v.8h-.8zM164.7 200.2h.8v.8h-.8zM166.8 188.4h.8v.8h-.8zM161.5 207.1h.8v.8h-.8zM154.8 211.3h.8v.8h-.8zM145.0 219.9h.8v.8h-.8zM159.2 195.4h.8v.8h-.8zM147.9 203.4h.8v.8h-.8zM151.0 217.5h.8v.8h-.8zM152.4 212.0h.8v.8h-.8zM155.3 213.5h.8v.8h-.8zM158.9 205.4h.8v.8h-.8zM155.9 211.9h.8v.8h-.8zM146.1 211.7h.8v.8h-.8zM148.8 220.6h.8v.8h-.8zM159.4 206.8h.8v.8h-.8zM176.4 187.6h.8v.8h-.8zM152.1 216.2h.8v.8h-.8zM141.9 227.6h.8v.8h-.8zM156.1 204.3h.8v.8h-.8zM169.3 194.1h.8v.8h-.8zM155.6 220.5h.8v.8h-.8zM148.4 201.1h.8v.8h-.8zM145.5 222.5h.8v.8h-.8zM161.8 207.6h.8v.8h-.8zM167.8 200.5h.8v.8h-.8zM155.1 215.3h.8v.8h-.8zM170.5 209.2h.8v.8h-.8zM168.0 206.4h.8v.8h-.8zM152.3 207.3h.8v.8h-.8zM148.8 212.7h.8v.8h-.8zM151.6 215.8h.8v.8h-.8zM153.2 211.7h.8v.8h-.8zM147.0 216.9h.8v.8h-.8zM166.6 198.7h.8v.8h-.8zM149.1 214.2h.8v.8h-.8zM160.9 201.7h.8v.8h-.8zM150.2 221.6h.8v.8h-.8zM170.6 192.7h.8v.8h-.8zM158.0 192.8h.8v.8h-.8zM161.0 203.1h.8v.8h-.8zM143.2 221.2h.8v.8h-.8zM148.6 217.3h.8v.8h-.8zM156.8 208.7h.8v.8h-.8zM166.7 210.3h.8v.8h-.8zM144.7 225.1h.8v.8h-.8zM147.8 216.4h.8v.8h-.8zM150.3 219.4h.8v.8h-.8zM152.0 209.5h.8v.8h-.8zM154.3 215.7h.8v.8h-.8zM150.8 212.5h.8v.8h-.8zM179.0 160.3h.8v.8h-.8zM147.0 221.5h.8v.8h-.8zM158.7 203.1h.8v.8h-.8zM164.0 206.2h.8v.8h-.8zM152.1 215.4h.8v.8h-.8zM144.5 217.0h.8v.8h-.8zM148.0 221.7h.8v.8h-.8zM177.3 194.7h.8v.8h-.8zM153.6 214.8h.8v.8h-.8zM147.0 216.0h.8v.8h-.8zM156.9 211.9h.8v.8h-.8zM167.5 209.7h.8v.8h-.8zM150.2 217.7h.8v.8h-.8zM142.7 228.1h.8v.8h-.8zM147.6 220.5h.8v.8h-.8zM148.1 221.8h.8v.8h-.8zM148.8 221.7h.8v.8h-.8zM158.8 206.5h.8v.8h-.8zM157.4 216.4h.8v.8h-.8zM145.0 223.1h.8v.8h-.8zM168.2 208.9h.8v.8h-.8zM154.1 185.7h.8v.8h-.8zM161.9 194.5h.8v.8h-.8zM169.4 200.3h.8v.8h-.8zM180.6 181.7h.8v.8h-.8zM159.0 214.0h.8v.8h-.8zM153.2 210.4h.8v.8h-.8zM149.5 214.6h.8v.8h-.8zM158.1 194.1h.8v.8h-.8zM150.6 207.8h.8v.8h-.8zM149.3 219.4h.8v.8h-.8zM148.7 218.7h.8v.8h-.8zM157.9 209.1h.8v.8h-.8zM148.7 218.0h.8v.8h-.8zM165.0 184.7h.8v.8h-.8zM160.8 203.6h.8v.8h-.8zM162.3 206.6h.8v.8h-.8zM151.5 214.7h.8v.8h-.8zM155.7 213.3h.8v.8h-.8zM155.4 217.4h.8v.8h-.8zM161.7 207.8h.8v.8h-.8zM145.5 226.2h.8v.8h-.8zM170.5 191.8h.8v.8h-.8zM156.7 208.6h.8v.8h-.8zM156.2 221.2h.8v.8h-.8zM143.2 225.9h.8v.8h-.8zM142.6 225.2h.8v.8h-.8zM162.4 198.2h.8v.8h-.8zM160.0 216.5h.8v.8h-.8zM156.7 214.2h.8v.8h-.8zM153.7 219.7h.8v.8h-.8zM143.7 223.7h.8v.8h-.8zM144.7 214.8h.8v.8h-.8zM148.8 215.9h.8v.8h-.8zM145.2 207.8h.8v.8h-.8zM156.6 208.2h.8v.8h-.8zM172.7 182.1h.8v.8h-.8zM149.7 220.8h.8v.8h-.8zM164.0 200.0h.8v.8h-.8zM169.9 215.2h.8v.8h-.8zM168.0 185.9h.8v.8h-.8zM159.2 191.4h.8v.8h-.8zM146.2 229.5h.8v.8h-.8zM154.9 208.5h.8v.8h-.8zM140.2 230.2h.8v.8h-.8zM165.0 197.8h.8v.8h-.8zM150.6 220.2h.8v.8h-.8zM152.6 212.4h.8v.8h-.8zM166.3 200.4h.8v.8h-.8zM150.1 219.9h.8v.8h-.8zM144.5 224.0h.8v.8h-.8zM172.0 200.4h.8v.8h-.8zM153.9 209.7h.8v.8h-.8zM143.6 214.1h.8v.8h-.8zM168.0 208.8h.8v.8h-.8zM153.9 215.2h.8v.8h-.8zM145.9 227.4h.8v.8h-.8zM151.7 222.4h.8v.8h-.8zM148.4 219.4h.8v.8h-.8zM153.3 212.3h.8v.8h-.8zM153.2 212.1h.8v.8h-.8zM150.9 216.3h.8v.8h-.8zM152.9 217.4h.8v.8h-.8zM144.9 220.5h.8v.8h-.8zM157.0 204.9h.8v.8h-.8zM149.8 215.8h.8v.8h-.8zM152.1 219.2h.8v.8h-.8zM149.8 220.2h.8v.8h-.8zM166.1 202.6h.8v.8h-.8zM147.9 216.6h.8v.8h-.8zM151.5 208.2h.8v.8h-.8zM148.4 211.7h.8v.8h-.8zM149.8 225.1h.8v.8h-.8zM161.0 213.3h.8v.8h-.8zM151.9 212.4h.8v.8h-.8zM151.4 215.6h.8v.8h-.8zM142.9 222.6h.8v.8h-.8zM155.8 202.9h.8v.8h-.8zM149.3 220.5h.8v.8h-.8zM145.8 220.7h.8v.8h-.8zM153.7 217.1h.8v.8h-.8zM151.0 214.1h.8v.8h-.8zM150.8 220.4h.8v.8h-.8zM152.7 219.3h.8v.8h-.8zM150.3 208.2h.8v.8h-.8zM142.7 222.9h.8v.8h-.8zM159.9 218.2h.8v.8h-.8zM139.9 225.0h.8v.8h-.8zM146.8 219.7h.8v.8h-.8zM151.3 206.9h.8v.8h-.8zM164.5 196.9h.8v.8h-.8zM144.4 225.3h.8v.8h-.8zM157.4 191.2h.8v.8h-.8zM143.7 224.1h.8v.8h-.8zM162.5 196.8h.8v.8h-.8zM141.4 224.8h.8v.8h-.8zM154.1 216.9h.8v.8h-.8zM155.4 209.2h.8v.8h-.8zM170.2 182.8h.8v.8h-.8zM155.0 211.9h.8v.8h-.8zM166.7 201.7h.8v.8h-.8zM151.8 203.0h.8v.8h-.8zM142.6 222.7h.8v.8h-.8zM163.0 213.7h.8v.8h-.8zM154.4 209.4h.8v.8h-.8zM154.9 212.7h.8v.8h-.8zM147.8 214.7h.8v.8h-.8zM145.6 219.7h.8v.8h-.8zM152.9 217.1h.8v.8h-.8zM156.2 214.1h.8v.8h-.8zM172.8 195.5h.8v.8h-.8zM147.1 222.3h.8v.8h-.8zM156.7 201.6h.8v.8h-.8zM164.0 201.4h.8v.8h-.8zM151.0 221.3h.8v.8h-.8zM142.3 225.7h.8v.8h-.8zM157.4 197.5h.8v.8h-.8zM147.4 214.2h.8v.8h-.8zM158.8 206.7h.8v.8h-.8zM150.9 210.9h.8v.8h-.8zM164.7 203.7h.8v.8h-.8zM148.5 209.5h.8v.8h-.8zM146.0 226.9h.8v.8h-.8zM147.9 214.8h.8v.8h-.8zM156.4 212.9h.8v.8h-.8zM189.3 174.5h.8v.8h-.8zM157.9 211.0h.8v.8h-.8zM161.3 196.4h.8v.8h-.8zM153.4 210.7h.8v.8h-.8zM145.4 214.9h.8v.8h-.8zM151.3 220.0h.8v.8h-.8zM142.5 224.8h.8v.8h-.8zM150.0 220.0h.8v.8h-.8zM162.8 188.0h.8v.8h-.8zM147.2 219.8h.8v.8h-.8zM149.3 207.7h.8v.8h-.8zM152.7 214.8h.8v.8h-.8zM149.2 223.2h.8v.8h-.8zM141.7 221.5h.8v.8h-.8zM146.3 217.8h.8v.8h-.8zM147.4 216.9h.8v.8h-.8zM157.4 209.3h.8v.8h-.8zM155.4 212.1h.8v.8h-.8zM143.6 226.9h.8v.8h-.8zM153.9 208.8h.8v.8h-.8zM150.9 219.3h.8v.8h-.8zM189.0 196.5h.8v.8h-.8zM147.0 216.3h.8v.8h-.8zM148.7 203.5h.8v.8h-.8zM161.8 194.7h.8v.8h-.8zM158.7 216.7h.8v.8h-.8zM164.7 205.3h.8v.8h-.8zM144.3 224.0h.8v.8h-.8zM147.7 212.8h.8v.8h-.8zM150.4 218.3h.8v.8h-.8zM164.2 211.3h.8v.8h-.8zM152.7 214.1h.8v.8h-.8zM147.8 225.7h.8v.8h-.8zM143.9 226.2h.8v.8h-.8zM159.4 199.5h.8v.8h-.8zM165.2 193.8h.8v.8h-.8zM174.3 195.3h.8v.8h-.8zM164.5 203.3h.8v.8h-.8zM158.2 211.6h.8v.8h-.8zM154.6 214.3h.8v.8h-.8zM152.1 217.5h.8v.8h-.8zM154.9 207.4h.8v.8h-.8zM179.5 182.4h.8v.8h-.8zM151.8 211.3h.8v.8h-.8zM155.7 202.4h.8v.8h-.8zM146.9 214.1h.8v.8h-.8zM148.3 205.5h.8v.8h-.8zM160.6 205.0h.8v.8h-.8zM152.4 203.6h.8v.8h-.8zM150.2 221.9h.8v.8h-.8zM153.4 200.4h.8v.8h-.8zM144.9 219.8h.8v.8h-.8zM145.4 224.5h.8v.8h-.8zM145.1 223.8h.8v.8h-.8zM152.5 221.9h.8v.8h-.8zM141.4 228.7h.8v.8h-.8zM160.9 213.5h.8v.8h-.8zM141.8 224.4h.8v.8h-.8zM145.3 221.2h.8v.8h-.8zM149.5 219.1h.8v.8h-.8zM162.5 196.6h.8v.8h-.8zM159.7 206.0h.8v.8h-.8zM151.1 216.4h.8v.8h-.8zM146.0 220.3h.8v.8h-.8zM163.9 204.8h.8v.8h-.8zM172.7 204.1h.8v.8h-.8zM146.8 214.9h.8v.8h-.8zM140.9 229.0h.8v.8h-.8zM146.1 217.5h.8v.8h-.8zM172.2 196.7h.8v.8h-.8zM157.9 197.4h.8v.8h-.8zM167.4 213.4h.8v.8h-.8zM170.0 204.8h.8v.8h-.8zM158.6 210.6h.8v.8h-.8zM170.8 204.6h.8v.8h-.8zM155.3 213.1h.8v.8h-.8zM154.6 208.5h.8v.8h-.8zM142.3 226.5h.8v.8h-.8zM185.5 186.9h.8v.8h-.8zM141.7 227.1h.8v.8h-.8zM145.4 219.5h.8v.8h-.8zM152.1 214.4h.8v.8h-.8zM151.2 220.6h.8v.8h-.8zM156.6 216.6h.8v.8h-.8zM149.0 215.7h.8v.8h-.8zM153.0 216.4h.8v.8h-.8zM142.0 229.4h.8v.8h-.8zM151.8 219.4h.8v.8h-.8zM192.3 180.1h.8v.8h-.8zM141.1 224.7h.8v.8h-.8zM166.0 204.5h.8v.8h-.8zM144.8 222.8h.8v.8h-.8zM171.9 181.0h.8v.8h-.8zM142.5 226.9h.8v.8h-.8zM161.2 208.5h.8v.8h-.8zM153.8 211.3h.8v.8h-.8zM154.6 218.6h.8v.8h-.8zM145.4 225.0h.8v.8h-.8zM151.9 215.0h.8v.8h-.8zM152.4 209.4h.8v.8h-.8zM147.6 219.2h.8v.8h-.8zM163.6 204.2h.8v.8h-.8zM152.3 215.0h.8v.8h-.8zM151.2 215.5h.8v.8h-.8zM161.8 207.1h.8v.8h-.8zM147.9 219.5h.8v.8h-.8zM154.7 218.1h.8v.8h-.8zM149.2 221.2h.8v.8h-.8zM146.3 222.8h.8v.8h-.8zM147.9 213.8h.8v.8h-.8zM153.5 219.5h.8v.8h-.8zM141.9 226.1h.8v.8h-.8zM153.0 215.6h.8v.8h-.8zM143.3 226.9h.8v.8h-.8zM143.1 224.2h.8v.8h-.8zM156.9 207.8h.8v.8h-.8zM145.5 218.8h.8v.8h-.8zM155.8 216.4h.8v.8h-.8zM142.6 228.7h.8v.8h-.8zM161.5 205.6h.8v.8h-.8zM157.7 208.6h.8v.8h-.8zM152.8 205.7h.8v.8h-.8zM150.8 206.2h.8v.8h-.8zM143.2 215.7h.8v.8h-.8zM153.6 212.2h.8v.8h-.8zM152.0 216.7h.8v.8h-.8zM153.3 222.6h.8v.8h-.8zM171.3 192.1h.8v.8h-.8zM143.9 225.5h.8v.8h-.8zM144.7 217.1h.8v.8h-.8zM157.4 202.3h.8v.8h-.8zM157.6 199.1h.8v.8h-.8zM160.4 198.6h.8v.8h-.8zM153.7 218.3h.8v.8h-.8zM177.4 199.0h.8v.8h-.8zM147.3 219.9h.8v.8h-.8zM159.5 210.0h.8v.8h-.8zM157.5 217.5h.8v.8h-.8zM160.5 204.8h.8v.8h-.8zM153.8 208.6h.8v.8h-.8zM154.6 206.3h.8v.8h-.8zM169.7 206.1h.8v.8h-.8zM150.7 205.2h.8v.8h-.8zM187.2 175.8h.8v.8h-.8zM159.8 186.4h.8v.8h-.8zM161.6 207.7h.8v.8h-.8zM147.5 219.4h.8v.8h-.8zM160.9 208.5h.8v.8h-.8zM154.6 206.8h.8v.8h-.8zM163.9 210.7h.8v.8h-.8zM175.9 184.1h.8v.8h-.8zM145.5 219.1h.8v.8h-.8zM154.5 212.4h.8v.8h-.8zM145.0 220.5h.8v.8h-.8zM155.3 209.1h.8v.8h-.8zM142.9 222.8h.8v.8h-.8zM148.1 210.5h.8v.8h-.8zM168.6 203.3h.8v.8h-.8zM157.8 207.1h.8v.8h-.8zM163.9 210.6h.8v.8h-.8zM160.2 205.7h.8v.8h-.8zM159.1 209.0h.8v.8h-.8zM146.3 223.4h.8v.8h-.8zM157.3 216.0h.8v.8h-.8zM142.1 220.9h.8v.8h-.8zM165.4 195.7h.8v.8h-.8zM155.9 218.3h.8v.8h-.8zM152.8 212.7h.8v.8h-.8zM148.2 220.2h.8v.8h-.8zM149.6 213.5h.8v.8h-.8zM145.1 210.6h.8v.8h-.8zM143.7 217.8h.8v.8h-.8zM170.1 201.8h.8v.8h-.8zM153.6 209.8h.8v.8h-.8zM157.3 207.2h.8v.8h-.8zM162.1 196.0h.8v.8h-.8zM150.0 221.3h.8v.8h-.8zM145.8 226.5h.8v.8h-.8zM160.7 194.8h.8v.8h-.8zM148.5 212.7h.8v.8h-.8zM160.4 205.3h.8v.8h-.8zM146.0 216.6h.8v.8h-.8zM149.3 224.5h.8v.8h-.8zM166.8 199.2h.8v.8h-.8zM155.9 203.7h.8v.8h-.8zM163.2 197.9h.8v.8h-.8zM158.8 209.4h.8v.8h-.8zM149.0 219.7h.8v.8h-.8zM155.2 203.5h.8v.8h-.8zM149.9 226.0h.8v.8h-.8zM143.9 221.3h.8v.8h-.8zM184.3 187.7h.8v.8h-.8zM161.7 200.7h.8v.8h-.8zM151.9 210.4h.8v.8h-.8zM150.9 214.5h.8v.8h-.8zM178.6 175.0h.8v.8h-.8zM171.3 199.9h.8v.8h-.8zM165.2 210.6h.8v.8h-.8zM144.7 216.4h.8v.8h-.8zM147.1 220.5h.8v.8h-.8zM144.6 221.5h.8v.8h-.8zM152.0 208.4h.8v.8h-.8zM161.9 172.0h.8v.8h-.8zM151.6 221.9h.8v.8h-.8zM151.8 190.9h.8v.8h-.8zM146.1 220.4h.8v.8h-.8zM156.4 218.9h.8v.8h-.8zM154.1 219.5h.8v.8h-.8zM158.8 212.4h.8v.8h-.8zM164.4 208.4h.8v.8h-.8zM151.4 214.8h.8v.8h-.8zM151.9 214.2h.8v.8h-.8zM152.1 220.0h.8v.8h-.8zM173.7 185.1h.8v.8h-.8zM147.5 205.8h.8v.8h-.8zM164.5 208.4h.8v.8h-.8zM143.5 224.7h.8v.8h-.8zM165.3 206.0h.8v.8h-.8zM146.0 219.6h.8v.8h-.8zM154.1 212.2h.8v.8h-.8zM153.0 200.0h.8v.8h-.8zM155.3 217.6h.8v.8h-.8zM151.3 221.9h.8v.8h-.8zM164.0 202.0h.8v.8h-.8zM155.4 210.0h.8v.8h-.8zM152.1 210.2h.8v.8h-.8zM148.7 217.0h.8v.8h-.8zM147.9 224.2h.8v.8h-.8zM142.9 228.5h.8v.8h-.8zM170.4 202.1h.8v.8h-.8zM148.4 214.5h.8v.8h-.8zM152.8 218.7h.8v.8h-.8zM165.9 197.6h.8v.8h-.8zM165.2 184.3h.8v.8h-.8zM151.0 213.6h.8v.8h-.8zM145.9 223.9h.8v.8h-.8zM158.9 199.9h.8v.8h-.8zM162.2 192.8h.8v.8h-.8zM168.2 198.5h.8v.8h-.8zM160.9 207.5h.8v.8h-.8zM157.2 219.7h.8v.8h-.8zM162.5 193.0h.8v.8h-.8zM161.1 191.0h.8v.8h-.8zM148.6 217.0h.8v.8h-.8zM141.5 227.0h.8v.8h-.8zM143.6 224.9h.8v.8h-.8zM165.5 205.6h.8v.8h-.8zM155.3 210.7h.8v.8h-.8zM145.5 211.8h.8v.8h-.8zM146.5 218.7h.8v.8h-.8zM167.8 202.1h.8v.8h-.8zM153.2 214.0h.8v.8h-.8zM157.4 206.1h.8v.8h-.8zM153.7 208.7h.8v.8h-.8zM150.6 205.3h.8v.8h-.8zM157.4 213.0h.8v.8h-.8zM151.9 210.9h.8v.8h-.8zM156.9 209.5h.8v.8h-.8zM155.4 212.5h.8v.8h-.8zM151.0 222.0h.8v.8h-.8zM156.1 213.6h.8v.8h-.8zM153.8 217.8h.8v.8h-.8zM160.9 202.7h.8v.8h-.8zM153.8 205.0h.8v.8h-.8zM148.0 226.5h.8v.8h-.8zM151.9 210.0h.8v.8h-.8zM150.2 211.1h.8v.8h-.8zM151.1 213.0h.8v.8h-.8zM144.0 222.0h.8v.8h-.8zM155.4 201.3h.8v.8h-.8zM147.2 222.9h.8v.8h-.8zM152.1 214.4h.8v.8h-.8zM158.1 212.3h.8v.8h-.8zM148.3 211.6h.8v.8h-.8zM146.8 219.5h.8v.8h-.8zM165.0 205.4h.8v.8h-.8zM156.4 217.2h.8v.8h-.8zM161.2 197.1h.8v.8h-.8zM153.5 198.2h.8v.8h-.8zM164.0 193.7h.8v.8h-.8zM158.0 209.1h.8v.8h-.8zM145.7 220.8h.8v.8h-.8zM148.1 208.8h.8v.8h-.8zM154.5 206.3h.8v.8h-.8zM143.0 224.2h.8v.8h-.8zM167.1 198.8h.8v.8h-.8zM150.5 217.6h.8v.8h-.8zM142.6 226.2h.8v.8h-.8zM155.4 215.2h.8v.8h-.8zM158.9 201.3h.8v.8h-.8zM155.3 216.1h.8v.8h-.8zM155.6 184.1h.8v.8h-.8zM145.8 218.8h.8v.8h-.8zM152.1 214.1h.8v.8h-.8zM146.9 217.4h.8v.8h-.8zM148.4 217.4h.8v.8h-.8zM150.0 208.9h.8v.8h-.8zM169.6 198.2h.8v.8h-.8zM158.7 208.2h.8v.8h-.8zM170.8 199.9h.8v.8h-.8zM146.4 218.9h.8v.8h-.8zM154.6 214.8h.8v.8h-.8zM155.4 209.7h.8v.8h-.8zM150.1 212.5h.8v.8h-.8zM161.2 210.6h.8v.8h-.8zM141.6 219.7h.8v.8h-.8zM177.4 179.0h.8v.8h-.8zM154.7 221.1h.8v.8h-.8zM151.6 205.1h.8v.8h-.8zM161.8 218.3h.8v.8h-.8zM194.1 176.2h.8v.8h-.8zM151.2 223.0h.8v.8h-.8zM139.9 229.0h.8v.8h-.8zM174.9 195.6h.8v.8h-.8zM154.4 216.7h.8v.8h-.8zM152.7 210.6h.8v.8h-.8zM170.1 189.8h.8v.8h-.8zM150.4 219.7h.8v.8h-.8zM156.8 218.3h.8v.8h-.8zM179.8 197.8h.8v.8h-.8zM154.2 190.1h.8v.8h-.8zM142.1 226.1h.8v.8h-.8zM149.5 207.0h.8v.8h-.8zM172.2 196.2h.8v.8h-.8zM154.2 206.3h.8v.8h-.8zM153.8 208.4h.8v.8h-.8zM155.2 196.2h.8v.8h-.8zM148.2 217.8h.8v.8h-.8zM160.6 202.1h.8v.8h-.8zM158.7 202.0h.8v.8h-.8zM159.8 215.7h.8v.8h-.8zM142.1 227.8h.8v.8h-.8zM157.3 210.3h.8v.8h-.8zM145.7 211.7h.8v.8h-.8zM154.1 215.0h.8v.8h-.8zM147.2 214.0h.8v.8h-.8zM153.1 197.7h.8v.8h-.8zM146.3 223.5h.8v.8h-.8zM159.8 212.9h.8v.8h-.8zM158.1 214.6h.8v.8h-.8zM157.3 203.7h.8v.8h-.8zM161.2 208.8h.8v.8h-.8zM147.5 220.7h.8v.8h-.8zM152.7 211.4h.8v.8h-.8zM143.8 225.2h.8v.8h-.8zM167.6 210.3h.8v.8h-.8zM168.3 212.1h.8v.8h-.8zM150.9 217.5h.8v.8h-.8zM146.8 222.0h.8v.8h-.8zM176.5 192.4h.8v.8h-.8zM155.6 198.7h.8v.8h-.8zM172.2 173.3h.8v.8h-.8zM164.0 199.1h.8v.8h-.8zM165.2 200.4h.8v.8h-.8zM145.6 220.2h.8v.8h-.8zM179.2 178.6h.8v.8h-.8zM170.8 203.3h.8v.8h-.8zM151.5 207.4h.8v.8h-.8zM194.1 169.1h.8v.8h-.8zM154.0 219.2h.8v.8h-.8zM164.6 205.9h.8v.8h-.8zM159.6 216.0h.8v.8h-.8zM145.1 222.4h.8v.8h-.8zM147.6 218.3h.8v.8h-.8zM164.9 214.3h.8v.8h-.8zM140.4 227.1h.8v.8h-.8zM153.4 209.1h.8v.8h-.8zM150.0 214.4h.8v.8h-.8zM145.6 229.7h.8v.8h-.8zM140.0 227.5h.8v.8h-.8zM143.4 214.6h.8v.8h-.8zM141.8 226.3h.8v.8h-.8zM167.6 194.5h.8v.8h-.8zM150.3 221.1h.8v.8h-.8zM144.6 226.9h.8v.8h-.8zM150.1 224.3h.8v.8h-.8zM158.2 213.4h.8v.8h-.8zM143.8 223.1h.8v.8h-.8zM150.9 212.3h.8v.8h-.8zM149.0 214.8h.8v.8h-.8zM150.2 198.8h.8v.8h-.8zM161.2 200.0h.8v.8h-.8zM154.3 218.0h.8v.8h-.8zM144.8 220.0h.8v.8h-.8zM145.3 221.0h.8v.8h-.8zM144.9 222.6h.8v.8h-.8zM174.1 190.1h.8v.8h-.8zM149.2 210.8h.8v.8h-.8zM141.9 227.2h.8v.8h-.8zM149.1 208.5h.8v.8h-.8zM165.2 193.0h.8v.8h-.8zM143.9 227.9h.8v.8h-.8zM153.7 215.2h.8v.8h-.8zM143.2 221.5h.8v.8h-.8zM180.5 184.8h.8v.8h-.8zM169.2 198.1h.8v.8h-.8zM146.8 214.3h.8v.8h-.8zM154.2 212.2h.8v.8h-.8zM152.4 220.6h.8v.8h-.8zM170.1 204.6h.8v.8h-.8zM161.4 202.5h.8v.8h-.8zM157.7 202.7h.8v.8h-.8zM158.8 202.2h.8v.8h-.8zM146.6 223.0h.8v.8h-.8zM156.8 219.9h.8v.8h-.8zM144.9 219.2h.8v.8h-.8zM182.1 171.9h.8v.8h-.8zM148.8 220.0h.8v.8h-.8zM147.0 219.4h.8v.8h-.8zM170.7 206.8h.8v.8h-.8zM157.7 215.9h.8v.8h-.8zM161.2 203.7h.8v.8h-.8zM155.9 214.3h.8v.8h-.8zM153.7 207.5h.8v.8h-.8zM157.6 209.7h.8v.8h-.8zM146.6 222.3h.8v.8h-.8zM161.8 199.0h.8v.8h-.8zM153.8 211.0h.8v.8h-.8zM175.0 184.5h.8v.8h-.8zM155.2 212.9h.8v.8h-.8zM144.7 225.2h.8v.8h-.8zM190.4 155.5h.8v.8h-.8zM178.3 190.2h.8v.8h-.8zM180.8 194.0h.8v.8h-.8zM157.5 214.4h.8v.8h-.8zM164.8 186.4h.8v.8h-.8zM158.9 209.6h.8v.8h-.8zM146.8 220.9h.8v.8h-.8zM152.5 213.4h.8v.8h-.8zM142.6 221.1h.8v.8h-.8zM141.7 229.4h.8v.8h-.8zM156.5 198.3h.8v.8h-.8zM158.0 213.9h.8v.8h-.8zM142.9 224.9h.8v.8h-.8zM154.2 196.2h.8v.8h-.8zM158.1 195.9h.8v.8h-.8zM177.2 179.7h.8v.8h-.8zM154.3 195.1h.8v.8h-.8zM149.0 223.5h.8v.8h-.8zM160.8 203.8h.8v.8h-.8zM149.0 220.8h.8v.8h-.8zM143.5 221.1h.8v.8h-.8zM144.6 224.4h.8v.8h-.8zM176.2 183.8h.8v.8h-.8zM156.4 202.7h.8v.8h-.8zM142.7 228.9h.8v.8h-.8zM142.4 220.5h.8v.8h-.8zM169.5 202.4h.8v.8h-.8zM156.5 210.5h.8v.8h-.8zM142.6 227.1h.8v.8h-.8zM153.1 208.7h.8v.8h-.8zM156.0 201.6h.8v.8h-.8zM154.5 213.7h.8v.8h-.8zM169.5 201.0h.8v.8h-.8zM141.2 226.6h.8v.8h-.8zM167.5 176.1h.8v.8h-.8zM149.8 217.3h.8v.8h-.8zM174.2 214.7h.8v.8h-.8zM153.4 202.4h.8v.8h-.8zM147.3 210.2h.8v.8h-.8zM162.5 214.7h.8v.8h-.8zM143.8 227.1h.8v.8h-.8zM151.1 209.3h.8v.8h-.8zM156.2 203.1h.8v.8h-.8zM158.3 207.2h.8v.8h-.8zM156.4 220.9h.8v.8h-.8zM150.4 215.1h.8v.8h-.8zM149.6 214.4h.8v.8h-.8zM143.5 227.9h.8v.8h-.8zM168.7 193.0h.8v.8h-.8zM180.0 180.6h.8v.8h-.8zM158.7 203.5h.8v.8h-.8zM146.7 224.3h.8v.8h-.8zM150.9 200.3h.8v.8h-.8zM148.4 225.0h.8v.8h-.8zM152.4 216.1h.8v.8h-.8zM148.6 214.3h.8v.8h-.8zM163.7 195.7h.8v.8h-.8zM169.9 198.2h.8v.8h-.8zM158.9 214.3h.8v.8h-.8zM165.9 206.0h.8v.8h-.8zM142.8 225.3h.8v.8h-.8zM145.0 223.5h.8v.8h-.8zM157.4 214.9h.8v.8h-.8zM158.2 220.7h.8v.8h-.8zM146.9 219.3h.8v.8h-.8zM154.3 212.3h.8v.8h-.8zM169.3 180.5h.8v.8h-.8zM157.4 222.8h.8v.8h-.8zM156.5 203.6h.8v.8h-.8zM180.9 188.3h.8v.8h-.8zM162.3 197.5h.8v.8h-.8zM162.4 207.6h.8v.8h-.8zM142.9 226.5h.8v.8h-.8zM151.9 223.7h.8v.8h-.8zM155.5 202.3h.8v.8h-.8zM148.6 213.4h.8v.8h-.8zM149.3 220.0h.8v.8h-.8zM142.3 230.2h.8v.8h-.8zM147.9 212.3h.8v.8h-.8zM140.8 227.6h.8v.8h-.8zM144.8 223.3h.8v.8h-.8zM145.0 219.9h.8v.8h-.8zM154.7 217.7h.8v.8h-.8zM149.9 203.0h.8v.8h-.8zM147.4 220.8h.8v.8h-.8zM153.2 180.8h.8v.8h-.8zM145.8 224.2h.8v.8h-.8zM147.1 218.4h.8v.8h-.8zM170.1 195.0h.8v.8h-.8zM153.8 211.1h.8v.8h-.8zM148.5 222.9h.8v.8h-.8zM147.9 220.7h.8v.8h-.8zM149.0 216.0h.8v.8h-.8zM152.3 211.8h.8v.8h-.8zM148.7 213.8h.8v.8h-.8zM162.2 211.7h.8v.8h-.8zM149.3 211.2h.8v.8h-.8zM159.0 220.4h.8v.8h-.8zM153.3 215.6h.8v.8h-.8zM143.4 225.4h.8v.8h-.8zM150.3 222.9h.8v.8h-.8zM164.1 221.7h.8v.8h-.8zM162.8 202.6h.8v.8h-.8zM162.5 205.9h.8v.8h-.8zM163.4 192.6h.8v.8h-.8zM154.7 206.2h.8v.8h-.8zM179.9 200.0h.8v.8h-.8zM173.2 182.7h.8v.8h-.8zM153.5 214.9h.8v.8h-.8zM189.7 177.8h.8v.8h-.8zM150.5 210.1h.8v.8h-.8zM148.2 222.1h.8v.8h-.8zM156.3 201.5h.8v.8h-.8zM152.4 215.6h.8v.8h-.8zM178.9 201.8h.8v.8h-.8zM166.2 197.7h.8v.8h-.8zM171.9 203.3h.8v.8h-.8zM145.7 225.8h.8v.8h-.8zM160.6 218.5h.8v.8h-.8zM170.4 197.9h.8v.8h-.8zM151.1 208.3h.8v.8h-.8zM146.8 219.0h.8v.8h-.8zM162.6 199.4h.8v.8h-.8zM153.2 216.9h.8v.8h-.8zM155.6 220.0h.8v.8h-.8zM152.7 215.7h.8v.8h-.8zM148.1 218.5h.8v.8h-.8zM146.0 224.2h.8v.8h-.8zM165.2 207.5h.8v.8h-.8zM148.2 214.9h.8v.8h-.8zM148.1 214.7h.8v.8h-.8zM143.7 222.8h.8v.8h-.8zM165.6 191.9h.8v.8h-.8zM151.9 213.7h.8v.8h-.8zM142.6 225.1h.8v.8h-.8zM171.5 216.0h.8v.8h-.8zM155.5 208.7h.8v.8h-.8zM148.3 215.0h.8v.8h-.8zM143.9 225.2h.8v.8h-.8zM151.6 220.6h.8v.8h-.8zM160.1 206.1h.8v.8h-.8zM149.8 188.8h.8v.8h-.8zM143.7 221.0h.8v.8h-.8zM158.4 213.9h.8v.8h-.8zM152.5 207.9h.8v.8h-.8zM149.7 204.4h.8v.8h-.8zM166.7 205.1h.8v.8h-.8zM146.4 221.3h.8v.8h-.8zM160.5 214.7h.8v.8h-.8zM154.7 212.4h.8v.8h-.8zM148.8 217.0h.8v.8h-.8zM155.4 202.1h.8v.8h-.8zM171.3 204.1h.8v.8h-.8zM149.4 221.5h.8v.8h-.8zM145.2 221.4h.8v.8h-.8zM171.0 167.3h.8v.8h-.8zM170.4 179.6h.8v.8h-.8zM160.9 187.9h.8v.8h-.8zM154.5 213.1h.8v.8h-.8zM139.5 229.1h.8v.8h-.8zM160.7 212.6h.8v.8h-.8zM147.7 221.0h.8v.8h-.8zM158.0 203.9h.8v.8h-.8zM149.2 226.1h.8v.8h-.8zM150.1 225.7h.8v.8h-.8zM159.2 184.8h.8v.8h-.8zM148.4 217.9h.8v.8h-.8zM145.6 219.2h.8v.8h-.8zM158.7 215.7h.8v.8h-.8zM178.8 201.1h.8v.8h-.8zM166.8 213.0h.8v.8h-.8zM150.4 219.2h.8v.8h-.8zM156.1 217.2h.8v.8h-.8zM144.2 224.4h.8v.8h-.8zM143.9 220.9h.8v.8h-.8zM160.0 202.2h.8v.8h-.8zM148.7 216.5h.8v.8h-.8zM147.3 227.5h.8v.8h-.8zM145.8 227.2h.8v.8h-.8zM142.8 218.3h.8v.8h-.8zM145.1 223.3h.8v.8h-.8zM145.7 224.9h.8v.8h-.8zM151.8 223.9h.8v.8h-.8zM147.7 204.2h.8v.8h-.8zM155.5 219.6h.8v.8h-.8zM146.3 224.7h.8v.8h-.8zM157.8 211.3h.8v.8h-.8zM161.0 212.5h.8v.8h-.8zM149.1 216.2h.8v.8h-.8zM150.3 211.3h.8v.8h-.8zM146.3 217.2h.8v.8h-.8zM165.4 197.3h.8v.8h-.8zM152.9 213.1h.8v.8h-.8zM147.2 227.8h.8v.8h-.8zM172.6 202.6h.8v.8h-.8zM152.6 220.6h.8v.8h-.8zM156.1 206.7h.8v.8h-.8zM151.2 221.8h.8v.8h-.8zM155.9 203.9h.8v.8h-.8zM161.2 206.9h.8v.8h-.8zM149.2 224.8h.8v.8h-.8zM157.1 207.2h.8v.8h-.8zM145.8 217.0h.8v.8h-.8zM149.3 213.6h.8v.8h-.8zM152.2 221.7h.8v.8h-.8zM155.6 199.5h.8v.8h-.8zM162.6 206.8h.8v.8h-.8zM162.7 194.1h.8v.8h-.8zM152.2 216.5h.8v.8h-.8zM152.7 209.3h.8v.8h-.8zM172.9 203.9h.8v.8h-.8zM151.1 217.1h.8v.8h-.8zM179.9 185.1h.8v.8h-.8zM152.7 203.7h.8v.8h-.8zM151.5 220.6h.8v.8h-.8zM153.5 215.2h.8v.8h-.8zM171.3 204.8h.8v.8h-.8zM172.2 189.0h.8v.8h-.8zM147.2 219.3h.8v.8h-.8zM146.0 227.8h.8v.8h-.8zM156.8 216.6h.8v.8h-.8zM146.7 218.4h.8v.8h-.8zM166.0 189.7h.8v.8h-.8zM149.6 211.8h.8v.8h-.8zM169.1 170.0h.8v.8h-.8zM160.0 204.0h.8v.8h-.8zM159.8 213.3h.8v.8h-.8zM156.4 197.7h.8v.8h-.8zM148.3 214.5h.8v.8h-.8zM143.6 228.0h.8v.8h-.8zM151.9 220.6h.8v.8h-.8zM159.4 201.2h.8v.8h-.8zM150.5 216.2h.8v.8h-.8zM144.2 220.0h.8v.8h-.8zM161.2 199.2h.8v.8h-.8zM142.1 227.3h.8v.8h-.8zM150.6 220.4h.8v.8h-.8zM153.5 193.6h.8v.8h-.8zM159.0 206.4h.8v.8h-.8zM159.2 207.4h.8v.8h-.8zM158.0 205.5h.8v.8h-.8zM147.3 222.1h.8v.8h-.8zM148.4 221.0h.8v.8h-.8zM148.3 219.6h.8v.8h-.8zM156.3 208.4h.8v.8h-.8zM150.9 218.2h.8v.8h-.8zM155.6 211.4h.8v.8h-.8zM149.4 222.6h.8v.8h-.8zM150.1 218.9h.8v.8h-.8zM147.2 204.4h.8v.8h-.8zM155.4 204.5h.8v.8h-.8zM157.4 207.2h.8v.8h-.8zM141.6 226.6h.8v.8h-.8zM149.4 215.6h.8v.8h-.8zM159.8 213.3h.8v.8h-.8zM157.7 202.8h.8v.8h-.8zM160.7 213.4h.8v.8h-.8zM150.9 197.6h.8v.8h-.8zM152.5 214.9h.8v.8h-.8zM181.3 171.9h.8v.8h-.8zM150.6 220.3h.8v.8h-.8zM159.6 212.1h.8v.8h-.8zM170.5 186.6h.8v.8h-.8zM146.8 219.2h.8v.8h-.8zM156.8 216.6h.8v.8h-.8zM153.5 212.5h.8v.8h-.8zM171.5 211.5h.8v.8h-.8zM144.5 223.8h.8v.8h-.8zM171.6 197.7h.8v.8h-.8zM163.0 201.3h.8v.8h-.8zM151.9 204.8h.8v.8h-.8zM146.2 216.0h.8v.8h-.8zM145.6 218.6h.8v.8h-.8zM148.8 218.4h.8v.8h-.8zM144.7 225.5h.8v.8h-.8zM158.4 193.8h.8v.8h-.8zM160.5 200.8h.8v.8h-.8zM147.9 212.9h.8v.8h-.8zM143.9 221.0h.8v.8h-.8zM165.9 191.1h.8v.8h-.8zM145.8 225.9h.8v.8h-.8zM147.8 224.4h.8v.8h-.8zM150.1 212.1h.8v.8h-.8zM146.4 226.1h.8v.8h-.8zM170.2 182.4h.8v.8h-.8zM178.6 202.7h.8v.8h-.8zM153.0 214.3h.8v.8h-.8zM159.6 215.1h.8v.8h-.8zM140.2 229.9h.8v.8h-.8zM151.8 220.7h.8v.8h-.8zM143.6 225.7h.8v.8h-.8zM161.3 209.6h.8v.8h-.8zM163.7 207.9h.8v.8h-.8zM166.2 200.9h.8v.8h-.8zM150.7 215.9h.8v.8h-.8zM151.4 220.3h.8v.8h-.8zM147.1 223.9h.8v.8h-.8zM141.2 228.8h.8v.8h-.8zM148.7 223.3h.8v.8h-.8zM168.6 204.8h.8v.8h-.8zM151.5 213.0h.8v.8h-.8zM166.7 201.1h.8v.8h-.8zM147.2 219.0h.8v.8h-.8zM158.1 210.6h.8v.8h-.8zM148.1 214.4h.8v.8h-.8zM159.0 188.9h.8v.8h-.8zM150.1 214.0h.8v.8h-.8zM146.7 221.8h.8v.8h-.8zM172.2 196.3h.8v.8h-.8zM151.9 207.3h.8v.8h-.8zM149.1 220.6h.8v.8h-.8zM147.7 215.4h.8v.8h-.8zM152.9 215.2h.8v.8h-.8zM147.9 216.5h.8v.8h-.8zM168.7 200.8h.8v.8h-.8zM150.4 225.7h.8v.8h-.8zM158.9 200.4h.8v.8h-.8zM155.4 213.9h.8v.8h-.8zM148.4 202.2h.8v.8h-.8zM162.9 210.1h.8v.8h-.8zM148.3 215.4h.8v.8h-.8zM147.6 210.4h.8v.8h-.8zM164.7 193.1h.8v.8h-.8zM141.8 228.6h.8v.8h-.8zM151.4 200.0h.8v.8h-.8zM157.1 210.5h.8v.8h-.8zM154.1 200.3h.8v.8h-.8zM146.4 230.1h.8v.8h-.8zM145.6 222.2h.8v.8h-.8zM153.1 214.8h.8v.8h-.8zM145.5 225.4h.8v.8h-.8zM161.5 212.9h.8v.8h-.8zM150.6 222.1h.8v.8h-.8zM152.2 201.4h.8v.8h-.8zM152.3 214.9h.8v.8h-.8zM157.6 207.1h.8v.8h-.8zM152.0 209.2h.8v.8h-.8zM155.1 205.7h.8v.8h-.8zM166.2 210.6h.8v.8h-.8zM169.2 173.5h.8v.8h-.8zM151.9 217.4h.8v.8h-.8zM150.1 210.0h.8v.8h-.8zM150.7 220.9h.8v.8h-.8zM182.8 187.7h.8v.8h-.8zM149.4 218.6h.8v.8h-.8zM143.9 220.1h.8v.8h-.8zM152.4 216.2h.8v.8h-.8zM142.5 225.2h.8v.8h-.8zM151.0 214.1h.8v.8h-.8zM169.0 212.2h.8v.8h-.8zM156.3 213.0h.8v.8h-.8zM149.4 226.2h.8v.8h-.8zM151.5 216.9h.8v.8h-.8zM158.6 206.4h.8v.8h-.8zM147.5 220.5h.8v.8h-.8zM156.4 215.0h.8v.8h-.8zM143.2 215.3h.8v.8h-.8zM154.2 203.9h.8v.8h-.8zM148.2 218.3h.8v.8h-.8zM148.9 222.6h.8v.8h-.8zM152.6 223.3h.8v.8h-.8zM174.8 189.6h.8v.8h-.8zM140.9 229.2h.8v.8h-.8zM147.6 220.2h.8v.8h-.8zM156.8 214.8h.8v.8h-.8zM159.4 212.0h.8v.8h-.8zM171.4 196.6h.8v.8h-.8zM165.2 195.2h.8v.8h-.8zM158.7 209.2h.8v.8h-.8zM163.8 197.5h.8v.8h-.8zM150.1 218.4h.8v.8h-.8zM163.7 216.5h.8v.8h-.8zM145.8 218.7h.8v.8h-.8zM167.6 211.4h.8v.8h-.8zM150.0 222.8h.8v.8h-.8zM152.3 214.1h.8v.8h-.8zM155.4 220.7h.8v.8h-.8zM144.6 226.0h.8v.8h-.8zM146.7 225.4h.8v.8h-.8zM146.0 219.2h.8v.8h-.8zM149.5 213.9h.8v.8h-.8zM143.2 220.5h.8v.8h-.8zM163.4 198.5h.8v.8h-.8zM166.3 194.2h.8v.8h-.8zM157.6 211.5h.8v.8h-.8zM151.4 222.6h.8v.8h-.8zM148.2 214.8h.8v.8h-.8zM159.3 202.5h.8v.8h-.8zM150.6 218.5h.8v.8h-.8zM162.9 197.9h.8v.8h-.8zM166.3 203.2h.8v.8h-.8zM151.7 206.7h.8v.8h-.8zM159.7 217.5h.8v.8h-.8zM168.8 206.0h.8v.8h-.8zM168.0 205.5h.8v.8h-.8zM158.1 207.5h.8v.8h-.8zM152.1 219.6h.8v.8h-.8zM159.5 184.5h.8v.8h-.8zM155.8 214.0h.8v.8h-.8zM147.6 220.8h.8v.8h-.8zM147.2 225.4h.8v.8h-.8zM158.3 210.7h.8v.8h-.8zM151.0 220.1h.8v.8h-.8zM157.3 209.0h.8v.8h-.8zM148.1 226.7h.8v.8h-.8zM147.3 226.0h.8v.8h-.8zM144.5 217.0h.8v.8h-.8zM154.7 217.4h.8v.8h-.8zM147.5 221.0h.8v.8h-.8zM166.9 175.6h.8v.8h-.8zM168.1 198.0h.8v.8h-.8zM157.3 200.0h.8v.8h-.8zM168.4 187.5h.8v.8h-.8zM165.8 200.6h.8v.8h-.8zM149.1 215.4h.8v.8h-.8zM170.8 165.2h.8v.8h-.8zM144.9 222.3h.8v.8h-.8zM150.5 214.1h.8v.8h-.8zM156.9 213.0h.8v.8h-.8zM150.2 214.7h.8v.8h-.8zM143.3 226.2h.8v.8h-.8zM149.0 223.4h.8v.8h-.8zM153.5 219.5h.8v.8h-.8zM144.3 227.4h.8v.8h-.8zM169.4 186.9h.8v.8h-.8zM164.7 203.6h.8v.8h-.8zM149.1 219.4h.8v.8h-.8zM153.0 221.4h.8v.8h-.8zM149.5 209.9h.8v.8h-.8zM170.8 205.8h.8v.8h-.8zM142.6 222.8h.8v.8h-.8zM144.3 223.8h.8v.8h-.8zM161.8 209.0h.8v.8h-.8zM147.3 215.6h.8v.8h-.8zM149.5 214.0h.8v.8h-.8zM174.8 189.5h.8v.8h-.8zM156.5 204.8h.8v.8h-.8zM156.7 188.5h.8v.8h-.8zM161.7 202.2h.8v.8h-.8zM147.8 218.5h.8v.8h-.8zM154.9 210.0h.8v.8h-.8zM151.0 218.3h.8v.8h-.8zM143.5 226.1h.8v.8h-.8zM157.2 199.1h.8v.8h-.8zM165.5 195.5h.8v.8h-.8zM173.7 184.4h.8v.8h-.8zM146.0 218.0h.8v.8h-.8zM156.2 212.2h.8v.8h-.8zM144.7 219.1h.8v.8h-.8zM152.6 208.9h.8v.8h-.8zM152.0 212.2h.8v.8h-.8zM171.8 186.1h.8v.8h-.8zM145.2 225.0h.8v.8h-.8zM158.1 215.7h.8v.8h-.8zM152.3 216.6h.8v.8h-.8zM151.0 214.8h.8v.8h-.8zM177.9 191.6h.8v.8h-.8zM175.5 197.2h.8v.8h-.8zM151.9 212.1h.8v.8h-.8zM153.7 216.0h.8v.8h-.8zM146.6 218.6h.8v.8h-.8zM145.3 221.8h.8v.8h-.8zM149.2 221.3h.8v.8h-.8zM152.5 215.8h.8v.8h-.8zM162.2 192.9h.8v.8h-.8zM154.6 217.3h.8v.8h-.8zM171.0 181.1h.8v.8h-.8zM162.4 200.4h.8v.8h-.8zM144.1 224.4h.8v.8h-.8zM142.5 224.4h.8v.8h-.8zM158.1 210.8h.8v.8h-.8zM151.1 225.6h.8v.8h-.8zM174.6 187.2h.8v.8h-.8zM148.8 216.4h.8v.8h-.8zM151.1 220.3h.8v.8h-.8zM141.6 216.8h.8v.8h-.8zM154.9 210.6h.8v.8h-.8zM144.2 225.8h.8v.8h-.8zM157.2 207.1h.8v.8h-.8zM150.6 198.6h.8v.8h-.8zM157.8 209.9h.8v.8h-.8zM151.8 203.2h.8v.8h-.8zM156.1 203.4h.8v.8h-.8zM149.0 226.0h.8v.8h-.8zM147.3 229.1h.8v.8h-.8zM155.3 169.7h.8v.8h-.8zM148.7 222.2h.8v.8h-.8zM154.0 195.3h.8v.8h-.8zM143.0 224.1h.8v.8h-.8zM147.6 203.4h.8v.8h-.8zM146.8 223.4h.8v.8h-.8zM163.2 214.0h.8v.8h-.8zM167.1 208.8h.8v.8h-.8zM161.1 212.8h.8v.8h-.8zM160.9 207.2h.8v.8h-.8zM142.1 224.3h.8v.8h-.8zM165.6 216.9h.8v.8h-.8zM158.7 215.0h.8v.8h-.8zM156.8 197.4h.8v.8h-.8zM165.3 199.0h.8v.8h-.8zM145.9 220.9h.8v.8h-.8zM153.2 217.7h.8v.8h-.8zM171.1 215.4h.8v.8h-.8zM152.2 213.3h.8v.8h-.8zM148.9 219.8h.8v.8h-.8zM147.6 220.2h.8v.8h-.8zM160.3 203.0h.8v.8h-.8zM164.5 195.8h.8v.8h-.8zM144.2 224.9h.8v.8h-.8zM148.4 217.7h.8v.8h-.8zM190.3 184.0h.8v.8h-.8zM155.8 189.8h.8v.8h-.8zM143.8 221.5h.8v.8h-.8zM155.7 213.7h.8v.8h-.8zM144.6 227.4h.8v.8h-.8zM145.0 219.4h.8v.8h-.8zM151.5 207.7h.8v.8h-.8zM160.8 209.4h.8v.8h-.8zM147.7 224.2h.8v.8h-.8zM141.9 226.9h.8v.8h-.8zM142.7 230.3h.8v.8h-.8zM149.0 219.6h.8v.8h-.8zM145.8 224.7h.8v.8h-.8zM150.8 202.8h.8v.8h-.8zM149.8 222.3h.8v.8h-.8zM149.4 216.4h.8v.8h-.8zM160.9 210.5h.8v.8h-.8zM184.9 209.2h.8v.8h-.8zM139.9 228.3h.8v.8h-.8zM155.0 219.5h.8v.8h-.8zM153.7 219.3h.8v.8h-.8zM153.6 204.4h.8v.8h-.8zM150.1 215.2h.8v.8h-.8zM159.8 211.5h.8v.8h-.8zM153.1 217.2h.8v.8h-.8zM143.6 226.1h.8v.8h-.8zM151.1 223.0h.8v.8h-.8zM141.7 228.7h.8v.8h-.8zM144.4 225.5h.8v.8h-.8zM153.0 207.6h.8v.8h-.8zM145.9 218.4h.8v.8h-.8zM155.2 194.3h.8v.8h-.8zM146.1 217.4h.8v.8h-.8zM171.4 178.3h.8v.8h-.8zM147.6 219.7h.8v.8h-.8zM160.1 209.0h.8v.8h-.8zM158.3 212.9h.8v.8h-.8zM151.9 213.9h.8v.8h-.8zM145.0 223.7h.8v.8h-.8zM165.1 201.6h.8v.8h-.8zM155.3 218.4h.8v.8h-.8zM152.8 209.5h.8v.8h-.8zM143.7 227.2h.8v.8h-.8zM162.4 190.6h.8v.8h-.8zM149.3 219.6h.8v.8h-.8zM148.9 206.7h.8v.8h-.8zM153.9 211.0h.8v.8h-.8zM172.6 181.0h.8v.8h-.8zM154.0 218.4h.8v.8h-.8zM155.9 206.0h.8v.8h-.8zM151.0 212.4h.8v.8h-.8zM144.0 225.3h.8v.8h-.8zM146.4 224.2h.8v.8h-.8zM165.7 204.8h.8v.8h-.8zM149.3 206.2h.8v.8h-.8zM174.3 204.2h.8v.8h-.8zM162.0 205.1h.8v.8h-.8zM160.4 210.3h.8v.8h-.8zM154.0 202.1h.8v.8h-.8zM149.2 218.0h.8v.8h-.8zM156.7 213.9h.8v.8h-.8zM147.9 226.3h.8v.8h-.8zM141.3 227.2h.8v.8h-.8zM146.2 216.2h.8v.8h-.8zM154.5 213.8h.8v.8h-.8zM154.2 208.3h.8v.8h-.8zM147.8 218.3h.8v.8h-.8zM146.5 218.7h.8v.8h-.8zM158.0 205.6h.8v.8h-.8zM143.5 229.0h.8v.8h-.8zM153.3 212.5h.8v.8h-.8zM151.1 215.7h.8v.8h-.8zM154.1 213.5h.8v.8h-.8zM161.3 195.8h.8v.8h-.8zM140.3 228.6h.8v.8h-.8zM142.5 224.2h.8v.8h-.8zM164.0 186.9h.8v.8h-.8zM166.8 193.5h.8v.8h-.8zM147.5 217.6h.8v.8h-.8zM149.3 220.8h.8v.8h-.8zM155.2 215.0h.8v.8h-.8zM149.5 213.2h.8v.8h-.8zM151.2 209.0h.8v.8h-.8zM149.0 219.4h.8v.8h-.8zM166.8 205.5h.8v.8h-.8zM150.3 211.7h.8v.8h-.8zM177.9 188.5h.8v.8h-.8zM153.6 211.6h.8v.8h-.8zM148.9 225.2h.8v.8h-.8zM150.2 216.0h.8v.8h-.8zM155.2 215.0h.8v.8h-.8zM152.4 217.8h.8v.8h-.8zM145.9 218.1h.8v.8h-.8zM143.5 225.7h.8v.8h-.8zM171.9 189.0h.8v.8h-.8zM152.6 210.2h.8v.8h-.8zM159.4 201.0h.8v.8h-.8zM181.6 189.4h.8v.8h-.8zM160.2 209.2h.8v.8h-.8zM165.7 200.1h.8v.8h-.8zM172.4 188.7h.8v.8h-.8zM152.9 213.3h.8v.8h-.8zM161.6 218.3h.8v.8h-.8zM150.0 213.7h.8v.8h-.8zM143.4 221.6h.8v.8h-.8zM162.1 217.6h.8v.8h-.8zM178.7 190.2h.8v.8h-.8zM146.4 223.9h.8v.8h-.8zM154.1 217.2h.8v.8h-.8zM157.0 208.4h.8v.8h-.8zM159.3 218.1h.8v.8h-.8zM147.5 220.5h.8v.8h-.8zM143.3 226.2h.8v.8h-.8zM168.4 208.3h.8v.8h-.8zM154.1 223.6h.8v.8h-.8zM155.6 207.8h.8v.8h-.8zM157.9 214.5h.8v.8h-.8zM157.4 194.2h.8v.8h-.8zM148.1 219.6h.8v.8h-.8zM148.9 222.3h.8v.8h-.8zM169.6 172.8h.8v.8h-.8zM166.7 195.8h.8v.8h-.8zM166.2 203.0h.8v.8h-.8zM146.6 223.9h.8v.8h-.8zM159.8 211.6h.8v.8h-.8zM160.6 206.3h.8v.8h-.8zM153.2 218.2h.8v.8h-.8zM145.1 223.4h.8v.8h-.8zM154.1 207.3h.8v.8h-.8zM144.9 224.7h.8v.8h-.8zM148.8 214.6h.8v.8h-.8zM154.5 217.7h.8v.8h-.8zM162.8 209.0h.8v.8h-.8zM161.0 208.6h.8v.8h-.8zM186.1 177.5h.8v.8h-.8zM143.9 220.8h.8v.8h-.8zM149.7 220.0h.8v.8h-.8zM148.0 223.5h.8v.8h-.8zM169.6 184.8h.8v.8h-.8zM177.1 212.4h.8v.8h-.8zM144.1 222.5h.8v.8h-.8zM166.4 213.8h.8v.8h-.8zM174.2 194.9h.8v.8h-.8zM171.9 196.5h.8v.8h-.8zM147.5 224.7h.8v.8h-.8zM162.8 212.5h.8v.8h-.8zM149.6 210.0h.8v.8h-.8zM175.4 214.6h.8v.8h-.8zM148.8 221.8h.8v.8h-.8zM162.2 209.1h.8v.8h-.8zM148.8 217.8h.8v.8h-.8zM163.7 218.2h.8v.8h-.8zM151.5 213.3h.8v.8h-.8zM142.0 222.3h.8v.8h-.8zM167.3 186.7h.8v.8h-.8zM157.5 201.9h.8v.8h-.8zM144.2 224.7h.8v.8h-.8zM146.3 221.3h.8v.8h-.8zM147.4 219.7h.8v.8h-.8zM152.7 211.9h.8v.8h-.8zM148.9 217.1h.8v.8h-.8zM162.9 205.9h.8v.8h-.8zM147.5 227.1h.8v.8h-.8zM152.4 202.6h.8v.8h-.8zM168.3 175.4h.8v.8h-.8zM147.4 221.7h.8v.8h-.8zM158.8 187.8h.8v.8h-.8zM165.8 215.8h.8v.8h-.8zM153.1 213.7h.8v.8h-.8zM147.7 213.6h.8v.8h-.8zM159.5 209.4h.8v.8h-.8zM145.3 219.2h.8v.8h-.8zM154.2 216.0h.8v.8h-.8zM146.6 207.9h.8v.8h-.8zM153.7 201.5h.8v.8h-.8zM158.9 200.7h.8v.8h-.8zM162.8 210.5h.8v.8h-.8zM152.6 216.2h.8v.8h-.8zM151.9 219.4h.8v.8h-.8zM157.2 213.5h.8v.8h-.8zM154.0 212.3h.8v.8h-.8zM144.8 219.8h.8v.8h-.8zM150.0 224.5h.8v.8h-.8zM159.9 192.6h.8v.8h-.8zM192.6 183.4h.8v.8h-.8zM153.7 224.7h.8v.8h-.8zM145.2 220.5h.8v.8h-.8zM152.1 210.6h.8v.8h-.8zM176.9 188.9h.8v.8h-.8zM145.2 224.6h.8v.8h-.8zM150.9 220.0h.8v.8h-.8zM155.0 212.1h.8v.8h-.8zM152.6 218.8h.8v.8h-.8zM146.3 224.0h.8v.8h-.8zM169.5 199.9h.8v.8h-.8zM148.6 207.6h.8v.8h-.8zM152.6 212.2h.8v.8h-.8zM153.1 221.5h.8v.8h-.8zM161.7 204.1h.8v.8h-.8zM161.4 212.8h.8v.8h-.8zM144.8 223.5h.8v.8h-.8zM154.5 209.5h.8v.8h-.8zM156.6 202.8h.8v.8h-.8zM152.6 221.7h.8v.8h-.8zM143.7 221.7h.8v.8h-.8zM162.3 193.0h.8v.8h-.8zM148.3 219.7h.8v.8h-.8zM169.8 162.2h.8v.8h-.8zM158.5 213.1h.8v.8h-.8zM146.4 217.0h.8v.8h-.8zM160.0 196.3h.8v.8h-.8zM146.7 222.8h.8v.8h-.8zM154.4 212.0h.8v.8h-.8zM193.0 170.3h.8v.8h-.8zM155.4 211.9h.8v.8h-.8zM160.7 200.2h.8v.8h-.8zM144.3 224.0h.8v.8h-.8zM149.9 207.7h.8v.8h-.8zM160.3 209.1h.8v.8h-.8zM151.8 210.9h.8v.8h-.8zM154.3 212.6h.8v.8h-.8zM155.9 201.8h.8v.8h-.8zM154.8 216.1h.8v.8h-.8zM152.4 214.5h.8v.8h-.8zM152.7 210.1h.8v.8h-.8zM151.1 222.1h.8v.8h-.8zM151.1 209.9h.8v.8h-.8zM149.2 217.4h.8v.8h-.8zM185.4 187.1h.8v.8h-.8zM151.3 217.3h.8v.8h-.8zM144.7 228.0h.8v.8h-.8zM150.1 213.7h.8v.8h-.8zM145.2 223.8h.8v.8h-.8zM146.7 226.3h.8v.8h-.8zM161.1 178.1h.8v.8h-.8zM159.8 196.4h.8v.8h-.8zM150.7 212.0h.8v.8h-.8zM170.4 203.8h.8v.8h-.8zM149.2 224.2h.8v.8h-.8zM164.1 188.4h.8v.8h-.8zM148.7 216.7h.8v.8h-.8zM152.0 212.9h.8v.8h-.8zM148.6 225.3h.8v.8h-.8zM148.2 217.8h.8v.8h-.8zM156.9 202.5h.8v.8h-.8zM142.7 223.8h.8v.8h-.8zM157.0 220.7h.8v.8h-.8zM150.8 220.8h.8v.8h-.8zM148.6 216.2h.8v.8h-.8zM160.8 213.9h.8v.8h-.8zM161.1 212.4h.8v.8h-.8zM146.0 217.5h.8v.8h-.8zM141.7 228.8h.8v.8h-.8zM152.3 215.0h.8v.8h-.8zM152.7 218.8h.8v.8h-.8zM143.6 224.8h.8v.8h-.8zM152.9 220.1h.8v.8h-.8zM152.0 222.2h.8v.8h-.8zM158.0 204.6h.8v.8h-.8zM141.9 227.8h.8v.8h-.8zM150.7 215.9h.8v.8h-.8zM170.0 183.5h.8v.8h-.8zM159.2 208.1h.8v.8h-.8zM150.4 216.4h.8v.8h-.8zM145.7 203.1h.8v.8h-.8zM152.7 210.2h.8v.8h-.8zM148.4 221.4h.8v.8h-.8zM149.1 220.2h.8v.8h-.8zM164.8 197.9h.8v.8h-.8zM158.4 203.2h.8v.8h-.8zM155.1 213.7h.8v.8h-.8zM154.0 205.7h.8v.8h-.8zM149.7 216.8h.8v.8h-.8zM161.2 204.0h.8v.8h-.8zM172.5 177.0h.8v.8h-.8zM166.5 208.3h.8v.8h-.8zM149.2 222.8h.8v.8h-.8zM143.4 224.3h.8v.8h-.8zM165.1 214.4h.8v.8h-.8zM146.6 224.6h.8v.8h-.8zM161.1 209.2h.8v.8h-.8zM168.8 193.3h.8v.8h-.8zM154.3 222.4h.8v.8h-.8zM146.7 207.7h.8v.8h-.8zM161.6 210.6h.8v.8h-.8zM148.8 218.9h.8v.8h-.8zM145.7 216.4h.8v.8h-.8zM149.3 209.1h.8v.8h-.8zM146.2 221.3h.8v.8h-.8zM150.4 211.6h.8v.8h-.8zM156.0 215.8h.8v.8h-.8zM150.7 221.4h.8v.8h-.8zM176.1 196.5h.8v.8h-.8zM174.0 194.3h.8v.8h-.8zM162.6 201.9h.8v.8h-.8zM147.0 215.5h.8v.8h-.8zM151.5 208.8h.8v.8h-.8zM141.1 228.2h.8v.8h-.8zM167.1 176.0h.8v.8h-.8zM144.0 224.7h.8v.8h-.8zM174.9 185.5h.8v.8h-.8zM150.5 216.0h.8v.8h-.8zM144.2 222.2h.8v.8h-.8zM155.1 212.6h.8v.8h-.8zM160.4 202.5h.8v.8h-.8zM142.2 227.4h.8v.8h-.8zM149.0 222.5h.8v.8h-.8zM146.8 223.4h.8v.8h-.8zM149.3 217.2h.8v.8h-.8zM153.6 212.7h.8v.8h-.8zM141.5 229.5h.8v.8h-.8zM144.7 221.1h.8v.8h-.8zM148.0 208.1h.8v.8h-.8zM152.8 214.1h.8v.8h-.8zM142.3 228.5h.8v.8h-.8zM152.7 218.2h.8v.8h-.8zM187.4 159.9h.8v.8h-.8zM143.8 219.1h.8v.8h-.8zM143.6 226.2h.8v.8h-.8zM161.9 203.2h.8v.8h-.8zM153.8 215.2h.8v.8h-.8zM154.4 212.0h.8v.8h-.8zM143.4 224.5h.8v.8h-.8zM160.3 207.6h.8v.8h-.8zM159.7 201.8h.8v.8h-.8zM158.9 214.1h.8v.8h-.8zM169.7 209.3h.8v.8h-.8zM154.0 208.9h.8v.8h-.8zM157.0 210.8h.8v.8h-.8zM148.7 218.4h.8v.8h-.8zM145.4 220.8h.8v.8h-.8zM158.1 203.8h.8v.8h-.8zM161.7 218.7h.8v.8h-.8zM152.4 195.3h.8v.8h-.8zM151.2 216.8h.8v.8h-.8zM156.3 207.6h.8v.8h-.8zM156.7 214.6h.8v.8h-.8zM151.7 215.5h.8v.8h-.8zM164.6 202.7h.8v.8h-.8zM147.8 215.7h.8v.8h-.8zM155.6 218.3h.8v.8h-.8zM148.6 220.8h.8v.8h-.8zM157.6 203.3h.8v.8h-.8zM144.3 223.9h.8v.8h-.8zM146.4 225.6h.8v.8h-.8zM155.8 210.8h.8v.8h-.8zM156.9 218.9h.8v.8h-.8zM161.1 207.9h.8v.8h-.8zM154.3 208.1h.8v.8h-.8zM163.4 194.9h.8v.8h-.8zM150.6 220.1h.8v.8h-.8zM183.9 153.0h.8v.8h-.8zM160.5 202.5h.8v.8h-.8zM150.8 214.0h.8v.8h-.8zM178.8 186.4h.8v.8h-.8zM150.1 219.5h.8v.8h-.8zM148.1 220.4h.8v.8h-.8zM144.6 224.8h.8v.8h-.8zM158.8 212.4h.8v.8h-.8zM146.8 220.9h.8v.8h-.8zM143.9 228.1h.8v.8h-.8zM155.4 221.3h.8v.8h-.8zM155.2 204.6h.8v.8h-.8zM157.2 218.4h.8v.8h-.8zM154.9 216.7h.8v.8h-.8zM154.3 221.8h.8v.8h-.8zM142.3 222.6h.8v.8h-.8zM155.5 218.0h.8v.8h-.8zM173.3 192.7h.8v.8h-.8zM156.9 207.8h.8v.8h-.8zM158.3 207.6h.8v.8h-.8zM172.2 198.3h.8v.8h-.8zM148.2 219.4h.8v.8h-.8zM144.2 225.6h.8v.8h-.8zM174.8 203.2h.8v.8h-.8zM171.8 187.0h.8v.8h-.8zM163.4 200.3h.8v.8h-.8zM148.4 215.3h.8v.8h-.8zM163.7 198.2h.8v.8h-.8zM149.0 223.8h.8v.8h-.8zM150.2 220.5h.8v.8h-.8zM149.5 207.9h.8v.8h-.8zM145.8 210.0h.8v.8h-.8zM158.9 216.0h.8v.8h-.8zM154.3 216.1h.8v.8h-.8zM153.6 221.9h.8v.8h-.8zM148.6 214.2h.8v.8h-.8zM154.9 207.4h.8v.8h-.8zM151.2 223.3h.8v.8h-.8zM169.0 191.8h.8v.8h-.8zM157.2 207.0h.8v.8h-.8zM165.8 214.5h.8v.8h-.8zM177.5 188.8h.8v.8h-.8zM167.0 208.3h.8v.8h-.8zM161.7 211.7h.8v.8h-.8zM170.9 195.0h.8v.8h-.8zM146.0 226.3h.8v.8h-.8zM156.6 216.8h.8v.8h-.8zM152.8 210.6h.8v.8h-.8zM153.5 212.2h.8v.8h-.8zM158.7 211.7h.8v.8h-.8zM148.9 214.0h.8v.8h-.8zM173.6 207.9h.8v.8h-.8zM145.8 219.0h.8v.8h-.8zM169.9 199.6h.8v.8h-.8zM153.5 212.7h.8v.8h-.8zM158.9 209.7h.8v.8h-.8zM156.3 213.3h.8v.8h-.8zM145.1 215.1h.8v.8h-.8zM147.1 216.0h.8v.8h-.8zM147.2 227.8h.8v.8h-.8zM156.5 205.6h.8v.8h-.8zM144.2 225.0h.8v.8h-.8zM154.9 211.9h.8v.8h-.8zM172.0 202.8h.8v.8h-.8zM169.9 200.1h.8v.8h-.8zM169.3 209.1h.8v.8h-.8zM141.7 226.8h.8v.8h-.8zM162.0 214.7h.8v.8h-.8zM146.5 220.3h.8v.8h-.8zM147.5 219.0h.8v.8h-.8zM169.4 207.8h.8v.8h-.8zM150.0 215.4h.8v.8h-.8zM154.8 203.3h.8v.8h-.8zM153.3 215.3h.8v.8h-.8zM161.0 214.5h.8v.8h-.8zM147.5 222.6h.8v.8h-.8zM167.9 193.6h.8v.8h-.8zM146.8 227.0h.8v.8h-.8zM156.3 218.3h.8v.8h-.8zM149.1 214.9h.8v.8h-.8zM163.6 207.5h.8v.8h-.8zM152.6 216.9h.8v.8h-.8zM153.4 221.4h.8v.8h-.8zM164.3 207.9h.8v.8h-.8zM150.4 221.8h.8v.8h-.8zM140.6 229.5h.8v.8h-.8zM149.3 220.4h.8v.8h-.8zM146.9 225.1h.8v.8h-.8zM150.4 214.0h.8v.8h-.8zM165.5 194.1h.8v.8h-.8zM143.0 213.2h.8v.8h-.8zM155.7 210.8h.8v.8h-.8zM153.4 216.2h.8v.8h-.8zM174.0 203.4h.8v.8h-.8zM147.9 212.2h.8v.8h-.8zM169.9 207.2h.8v.8h-.8zM160.7 206.9h.8v.8h-.8zM153.0 209.7h.8v.8h-.8zM170.5 196.8h.8v.8h-.8zM163.7 191.2h.8v.8h-.8zM146.9 221.5h.8v.8h-.8zM149.4 211.1h.8v.8h-.8zM159.0 205.5h.8v.8h-.8zM153.2 202.3h.8v.8h-.8zM161.8 201.8h.8v.8h-.8zM144.3 224.1h.8v.8h-.8zM141.4 226.5h.8v.8h-.8zM148.6 211.4h.8v.8h-.8zM152.9 217.8h.8v.8h-.8zM144.0 228.8h.8v.8h-.8zM145.2 222.0h.8v.8h-.8zM145.0 218.2h.8v.8h-.8zM145.6 221.2h.8v.8h-.8zM167.3 195.7h.8v.8h-.8zM158.9 216.5h.8v.8h-.8zM145.4 222.5h.8v.8h-.8zM158.0 210.1h.8v.8h-.8zM146.4 221.7h.8v.8h-.8zM143.4 217.9h.8v.8h-.8zM167.9 200.8h.8v.8h-.8zM142.0 227.0h.8v.8h-.8zM153.7 215.3h.8v.8h-.8zM148.2 219.1h.8v.8h-.8zM147.2 224.5h.8v.8h-.8zM178.2 183.2h.8v.8h-.8zM147.4 220.8h.8v.8h-.8zM153.8 195.3h.8v.8h-.8zM144.5 226.4h.8v.8h-.8zM160.8 212.1h.8v.8h-.8zM147.5 221.8h.8v.8h-.8zM168.2 204.0h.8v.8h-.8zM149.2 221.7h.8v.8h-.8zM150.9 220.3h.8v.8h-.8zM150.6 216.8h.8v.8h-.8zM159.8 211.5h.8v.8h-.8zM145.5 223.0h.8v.8h-.8zM158.5 202.7h.8v.8h-.8zM171.9 191.0h.8v.8h-.8zM165.2 210.5h.8v.8h-.8zM154.0 198.0h.8v.8h-.8zM155.4 211.7h.8v.8h-.8zM148.3 217.7h.8v.8h-.8zM142.1 227.8h.8v.8h-.8zM143.9 222.0h.8v.8h-.8zM154.1 216.7h.8v.8h-.8zM154.1 213.8h.8v.8h-.8zM159.8 215.7h.8v.8h-.8zM149.9 217.7h.8v.8h-.8zM151.0 210.5h.8v.8h-.8zM161.7 205.7h.8v.8h-.8zM154.5 211.5h.8v.8h-.8zM153.5 206.6h.8v.8h-.8zM148.4 215.4h.8v.8h-.8zM159.7 204.6h.8v.8h-.8zM150.3 221.5h.8v.8h-.8zM148.0 222.9h.8v.8h-.8zM154.4 209.0h.8v.8h-.8zM185.2 170.5h.8v.8h-.8zM154.2 206.6h.8v.8h-.8zM146.1 220.2h.8v.8h-.8zM151.7 213.3h.8v.8h-.8zM157.4 215.8h.8v.8h-.8zM162.1 215.7h.8v.8h-.8zM147.0 219.1h.8v.8h-.8zM149.1 224.9h.8v.8h-.8zM156.7 207.6h.8v.8h-.8zM159.1 207.7h.8v.8h-.8zM148.5 212.9h.8v.8h-.8zM144.0 228.8h.8v.8h-.8zM157.8 211.9h.8v.8h-.8zM168.0 194.3h.8v.8h-.8zM167.8 201.9h.8v.8h-.8zM149.4 221.3h.8v.8h-.8zM147.2 220.0h.8v.8h-.8zM152.8 213.4h.8v.8h-.8zM158.2 213.2h.8v.8h-.8zM166.3 188.7h.8v.8h-.8zM150.3 213.7h.8v.8h-.8zM149.8 216.8h.8v.8h-.8zM162.4 210.3h.8v.8h-.8zM175.2 171.2h.8v.8h-.8zM148.2 224.2h.8v.8h-.8zM149.3 219.2h.8v.8h-.8zM156.7 202.6h.8v.8h-.8zM143.2 227.2h.8v.8h-.8zM147.8 217.4h.8v.8h-.8zM153.8 199.5h.8v.8h-.8zM149.0 210.8h.8v.8h-.8zM159.0 210.2h.8v.8h-.8zM150.8 222.9h.8v.8h-.8zM150.2 209.1h.8v.8h-.8zM156.7 207.5h.8v.8h-.8zM161.5 200.8h.8v.8h-.8zM150.2 222.1h.8v.8h-.8zM150.2 204.2h.8v.8h-.8zM151.9 212.5h.8v.8h-.8zM159.9 204.4h.8v.8h-.8zM142.6 224.5h.8v.8h-.8zM155.4 215.2h.8v.8h-.8zM152.7 217.1h.8v.8h-.8zM164.1 209.3h.8v.8h-.8zM150.5 210.3h.8v.8h-.8zM158.2 194.2h.8v.8h-.8zM163.6 196.0h.8v.8h-.8zM146.6 222.6h.8v.8h-.8zM157.6 210.1h.8v.8h-.8zM158.5 207.9h.8v.8h-.8zM158.9 214.5h.8v.8h-.8zM149.7 218.2h.8v.8h-.8zM155.9 211.4h.8v.8h-.8zM171.1 190.0h.8v.8h-.8zM144.4 222.2h.8v.8h-.8zM149.7 224.6h.8v.8h-.8zM147.1 216.6h.8v.8h-.8zM193.6 198.6h.8v.8h-.8zM152.9 214.2h.8v.8h-.8zM145.9 222.2h.8v.8h-.8zM174.9 181.4h.8v.8h-.8zM145.3 221.1h.8v.8h-.8zM148.7 216.0h.8v.8h-.8zM171.0 192.7h.8v.8h-.8zM168.2 196.0h.8v.8h-.8zM147.3 217.3h.8v.8h-.8zM155.2 216.9h.8v.8h-.8zM142.6 221.3h.8v.8h-.8zM147.1 222.3h.8v.8h-.8zM181.0 182.6h.8v.8h-.8zM153.8 202.9h.8v.8h-.8zM145.5 221.0h.8v.8h-.8zM150.4 219.3h.8v.8h-.8zM150.0 222.4h.8v.8h-.8zM154.8 211.3h.8v.8h-.8zM147.9 224.9h.8v.8h-.8zM171.3 180.1h.8v.8h-.8zM159.7 214.8h.8v.8h-.8zM157.7 191.0h.8v.8h-.8zM160.3 200.2h.8v.8h-.8zM145.4 222.1h.8v.8h-.8zM155.3 215.9h.8v.8h-.8zM142.7 227.4h.8v.8h-.8zM141.1 223.4h.8v.8h-.8zM158.6 212.1h.8v.8h-.8zM144.2 226.8h.8v.8h-.8zM152.6 219.0h.8v.8h-.8zM160.2 202.6h.8v.8h-.8zM141.3 226.3h.8v.8h-.8zM145.7 218.3h.8v.8h-.8zM148.7 196.5h.8v.8h-.8zM147.8 219.9h.8v.8h-.8zM155.6 218.3h.8v.8h-.8zM141.9 228.0h.8v.8h-.8zM150.6 214.3h.8v.8h-.8zM156.8 210.7h.8v.8h-.8zM147.8 217.2h.8v.8h-.8zM170.5 193.8h.8v.8h-.8zM149.8 213.9h.8v.8h-.8zM154.1 220.2h.8v.8h-.8zM161.9 205.5h.8v.8h-.8zM158.7 204.8h.8v.8h-.8zM150.1 215.0h.8v.8h-.8zM148.8 216.8h.8v.8h-.8zM156.3 209.0h.8v.8h-.8zM140.4 229.7h.8v.8h-.8zM159.4 211.8h.8v.8h-.8zM147.1 219.7h.8v.8h-.8zM148.9 216.6h.8v.8h-.8zM157.1 205.3h.8v.8h-.8zM163.8 205.3h.8v.8h-.8zM167.5 211.8h.8v.8h-.8zM159.8 203.0h.8v.8h-.8zM148.4 217.4h.8v.8h-.8zM151.5 207.7h.8v.8h-.8zM153.6 215.4h.8v.8h-.8zM171.2 194.6h.8v.8h-.8zM156.8 212.0h.8v.8h-.8zM140.7 228.7h.8v.8h-.8zM152.6 223.2h.8v.8h-.8zM177.0 193.6h.8v.8h-.8zM153.2 223.0h.8v.8h-.8zM156.5 198.2h.8v.8h-.8zM149.4 216.1h.8v.8h-.8zM184.4 192.5h.8v.8h-.8zM163.3 212.8h.8v.8h-.8zM159.7 210.3h.8v.8h-.8zM161.6 217.5h.8v.8h-.8zM152.3 219.8h.8v.8h-.8zM168.3 185.2h.8v.8h-.8zM151.5 215.2h.8v.8h-.8zM153.6 208.1h.8v.8h-.8zM150.7 217.9h.8v.8h-.8zM145.6 222.7h.8v.8h-.8zM157.0 218.4h.8v.8h-.8zM156.8 192.2h.8v.8h-.8zM171.0 198.1h.8v.8h-.8zM148.6 224.0h.8v.8h-.8zM155.7 220.8h.8v.8h-.8zM157.5 219.0h.8v.8h-.8zM154.3 199.1h.8v.8h-.8zM163.4 192.8h.8v.8h-.8zM157.8 202.7h.8v.8h-.8zM161.1 201.1h.8v.8h-.8zM170.9 193.7h.8v.8h-.8zM141.2 227.9h.8v.8h-.8zM160.9 206.6h.8v.8h-.8zM163.7 201.6h.8v.8h-.8zM159.4 209.9h.8v.8h-.8zM154.4 206.9h.8v.8h-.8zM145.9 224.4h.8v.8h-.8zM144.7 227.4h.8v.8h-.8zM155.8 194.9h.8v.8h-.8zM155.9 204.4h.8v.8h-.8zM152.1 214.0h.8v.8h-.8zM170.9 197.1h.8v.8h-.8zM147.7 215.0h.8v.8h-.8zM161.7 185.5h.8v.8h-.8zM147.2 226.2h.8v.8h-.8zM152.7 204.8h.8v.8h-.8zM146.0 210.2h.8v.8h-.8zM149.8 218.8h.8v.8h-.8zM144.6 226.3h.8v.8h-.8zM170.1 194.7h.8v.8h-.8zM158.7 203.3h.8v.8h-.8zM145.4 217.8h.8v.8h-.8zM166.5 213.1h.8v.8h-.8zM150.0 220.6h.8v.8h-.8zM155.0 211.5h.8v.8h-.8zM161.0 205.8h.8v.8h-.8zM168.1 200.7h.8v.8h-.8zM149.7 214.6h.8v.8h-.8zM168.8 199.5h.8v.8h-.8zM150.7 219.2h.8v.8h-.8zM152.3 221.0h.8v.8h-.8zM148.2 210.9h.8v.8h-.8zM158.4 217.8h.8v.8h-.8zM163.6 189.8h.8v.8h-.8zM165.7 199.5h.8v.8h-.8zM156.1 209.2h.8v.8h-.8zM153.9 209.9h.8v.8h-.8zM150.4 220.9h.8v.8h-.8zM156.3 213.0h.8v.8h-.8zM147.7 216.7h.8v.8h-.8zM147.7 218.5h.8v.8h-.8zM155.1 207.6h.8v.8h-.8zM146.8 218.8h.8v.8h-.8zM152.9 209.0h.8v.8h-.8zM165.3 212.7h.8v.8h-.8zM159.2 208.1h.8v.8h-.8zM140.0 229.3h.8v.8h-.8zM166.7 177.9h.8v.8h-.8zM159.9 208.5h.8v.8h-.8zM151.0 214.4h.8v.8h-.8zM142.5 229.3h.8v.8h-.8zM144.9 213.1h.8v.8h-.8zM162.1 191.4h.8v.8h-.8zM172.3 194.2h.8v.8h-.8zM148.3 209.4h.8v.8h-.8zM149.8 224.2h.8v.8h-.8zM143.7 222.8h.8v.8h-.8zM141.2 228.5h.8v.8h-.8zM160.3 205.8h.8v.8h-.8zM145.0 227.8h.8v.8h-.8zM162.5 183.4h.8v.8h-.8zM149.8 216.9h.8v.8h-.8zM143.5 223.9h.8v.8h-.8zM184.8 185.2h.8v.8h-.8zM176.4 201.2h.8v.8h-.8zM162.7 205.3h.8v.8h-.8zM146.2 222.7h.8v.8h-.8zM155.4 206.3h.8v.8h-.8zM162.0 214.8h.8v.8h-.8zM155.5 211.8h.8v.8h-.8zM160.3 216.3h.8v.8h-.8zM156.5 218.2h.8v.8h-.8zM159.3 214.0h.8v.8h-.8zM168.0 208.6h.8v.8h-.8zM150.9 216.6h.8v.8h-.8zM158.8 208.4h.8v.8h-.8zM141.3 227.6h.8v.8h-.8zM146.1 222.2h.8v.8h-.8zM148.8 213.7h.8v.8h-.8zM147.5 223.8h.8v.8h-.8zM142.2 226.5h.8v.8h-.8zM147.9 219.7h.8v.8h-.8zM156.7 217.0h.8v.8h-.8zM150.0 224.6h.8v.8h-.8zM167.5 200.0h.8v.8h-.8zM144.1 218.4h.8v.8h-.8zM155.5 214.4h.8v.8h-.8zM147.2 225.3h.8v.8h-.8zM156.0 197.2h.8v.8h-.8zM174.9 183.0h.8v.8h-.8zM152.5 216.8h.8v.8h-.8zM154.7 217.7h.8v.8h-.8zM167.4 202.6h.8v.8h-.8zM143.8 223.1h.8v.8h-.8zM160.3 179.7h.8v.8h-.8zM157.0 215.0h.8v.8h-.8zM162.7 218.5h.8v.8h-.8zM142.5 223.4h.8v.8h-.8zM155.4 206.4h.8v.8h-.8zM149.1 223.1h.8v.8h-.8zM157.3 214.2h.8v.8h-.8zM144.8 224.5h.8v.8h-.8zM170.5 206.5h.8v.8h-.8zM154.8 212.1h.8v.8h-.8zM144.8 218.5h.8v.8h-.8zM148.9 214.7h.8v.8h-.8zM149.9 220.3h.8v.8h-.8zM162.0 199.5h.8v.8h-.8zM168.3 208.4h.8v.8h-.8zM173.7 202.5h.8v.8h-.8zM146.4 215.7h.8v.8h-.8zM149.1 212.0h.8v.8h-.8zM155.8 203.8h.8v.8h-.8zM150.7 219.7h.8v.8h-.8zM146.5 220.0h.8v.8h-.8zM151.2 218.9h.8v.8h-.8zM144.4 225.8h.8v.8h-.8zM143.2 220.2h.8v.8h-.8zM158.2 203.3h.8v.8h-.8zM149.3 211.5h.8v.8h-.8zM149.0 222.2h.8v.8h-.8zM161.1 201.8h.8v.8h-.8zM145.9 220.4h.8v.8h-.8zM153.5 207.8h.8v.8h-.8zM166.5 198.7h.8v.8h-.8zM156.3 205.8h.8v.8h-.8zM143.4 211.0h.8v.8h-.8zM146.4 225.0h.8v.8h-.8zM149.7 218.2h.8v.8h-.8zM145.1 220.4h.8v.8h-.8zM165.5 177.7h.8v.8h-.8zM156.2 214.8h.8v.8h-.8zM158.7 199.9h.8v.8h-.8zM141.7 229.2h.8v.8h-.8zM147.7 213.7h.8v.8h-.8zM167.9 188.5h.8v.8h-.8zM146.9 224.5h.8v.8h-.8zM150.0 213.3h.8v.8h-.8zM150.2 216.4h.8v.8h-.8zM152.6 206.6h.8v.8h-.8zM147.6 215.1h.8v.8h-.8zM153.5 212.9h.8v.8h-.8zM169.1 197.6h.8v.8h-.8zM157.5 204.7h.8v.8h-.8zM150.0 219.2h.8v.8h-.8zM159.2 203.2h.8v.8h-.8zM150.7 215.4h.8v.8h-.8zM140.6 227.7h.8v.8h-.8zM163.1 189.9h.8v.8h-.8zM160.3 187.7h.8v.8h-.8zM144.6 223.8h.8v.8h-.8zM153.9 211.3h.8v.8h-.8zM175.6 195.0h.8v.8h-.8zM141.1 225.5h.8v.8h-.8zM150.5 198.6h.8v.8h-.8zM152.2 217.8h.8v.8h-.8zM142.6 227.5h.8v.8h-.8zM168.5 214.4h.8v.8h-.8zM161.6 213.7h.8v.8h-.8zM150.8 207.5h.8v.8h-.8zM156.4 197.7h.8v.8h-.8zM142.0 220.9h.8v.8h-.8zM153.8 217.0h.8v.8h-.8zM152.5 196.8h.8v.8h-.8zM152.3 220.5h.8v.8h-.8zM163.4 203.3h.8v.8h-.8zM148.3 200.4h.8v.8h-.8zM142.6 222.3h.8v.8h-.8zM143.0 225.3h.8v.8h-.8zM157.7 210.9h.8v.8h-.8zM176.9 201.7h.8v.8h-.8zM153.8 208.7h.8v.8h-.8zM156.1 213.6h.8v.8h-.8zM155.7 211.3h.8v.8h-.8zM153.5 210.8h.8v.8h-.8zM173.8 201.1h.8v.8h-.8zM168.7 211.3h.8v.8h-.8zM159.8 211.2h.8v.8h-.8zM148.3 220.6h.8v.8h-.8zM140.9 229.0h.8v.8h-.8zM147.5 216.0h.8v.8h-.8zM151.9 224.8h.8v.8h-.8zM152.4 215.7h.8v.8h-.8zM161.8 203.3h.8v.8h-.8zM141.9 229.2h.8v.8h-.8zM153.8 208.8h.8v.8h-.8zM150.5 221.0h.8v.8h-.8zM151.1 214.5h.8v.8h-.8zM141.1 224.8h.8v.8h-.8zM155.5 220.8h.8v.8h-.8zM190.1 172.3h.8v.8h-.8zM147.1 218.0h.8v.8h-.8zM150.3 217.1h.8v.8h-.8zM153.0 213.2h.8v.8h-.8zM147.6 207.0h.8v.8h-.8zM175.5 204.6h.8v.8h-.8zM165.5 208.9h.8v.8h-.8zM157.3 215.9h.8v.8h-.8zM142.3 228.0h.8v.8h-.8zM145.1 218.0h.8v.8h-.8zM152.4 221.3h.8v.8h-.8zM146.3 223.6h.8v.8h-.8zM170.4 191.7h.8v.8h-.8zM156.5 202.0h.8v.8h-.8zM145.7 221.5h.8v.8h-.8zM158.1 190.3h.8v.8h-.8zM175.4 200.5h.8v.8h-.8zM157.6 218.7h.8v.8h-.8zM161.3 203.3h.8v.8h-.8zM152.1 220.7h.8v.8h-.8zM158.7 219.0h.8v.8h-.8zM153.4 205.8h.8v.8h-.8zM152.5 216.4h.8v.8h-.8zM149.6 217.4h.8v.8h-.8zM148.4 215.9h.8v.8h-.8zM159.0 203.8h.8v.8h-.8zM144.2 225.7h.8v.8h-.8zM166.6 184.0h.8v.8h-.8zM152.6 205.4h.8v.8h-.8zM144.3 221.9h.8v.8h-.8zM159.4 209.5h.8v.8h-.8zM146.5 223.0h.8v.8h-.8zM165.9 201.1h.8v.8h-.8zM141.1 227.0h.8v.8h-.8zM143.1 220.3h.8v.8h-.8zM144.9 216.1h.8v.8h-.8zM169.9 198.5h.8v.8h-.8zM160.1 193.8h.8v.8h-.8zM150.7 209.3h.8v.8h-.8zM156.1 223.5h.8v.8h-.8zM149.3 217.3h.8v.8h-.8zM155.2 213.3h.8v.8h-.8zM163.5 191.5h.8v.8h-.8zM165.8 190.3h.8v.8h-.8zM156.4 214.2h.8v.8h-.8zM160.5 213.3h.8v.8h-.8zM140.5 228.2h.8v.8h-.8zM181.0 163.3h.8v.8h-.8zM150.6 225.0h.8v.8h-.8zM150.7 223.1h.8v.8h-.8zM143.3 223.8h.8v.8h-.8zM151.6 212.0h.8v.8h-.8zM171.8 202.4h.8v.8h-.8zM150.3 221.5h.8v.8h-.8zM151.9 202.9h.8v.8h-.8zM155.6 202.9h.8v.8h-.8zM175.6 193.8h.8v.8h-.8zM151.6 215.8h.8v.8h-.8zM143.6 226.1h.8v.8h-.8zM163.9 175.5h.8v.8h-.8zM147.8 219.4h.8v.8h-.8zM149.2 217.1h.8v.8h-.8zM148.5 220.2h.8v.8h-.8zM141.0 228.1h.8v.8h-.8zM159.0 205.6h.8v.8h-.8zM151.7 221.3h.8v.8h-.8zM161.2 216.6h.8v.8h-.8zM157.5 222.0h.8v.8h-.8zM147.4 211.8h.8v.8h-.8zM149.9 217.4h.8v.8h-.8zM158.2 219.4h.8v.8h-.8zM141.6 218.7h.8v.8h-.8zM160.1 219.1h.8v.8h-.8zM176.0 212.4h.8v.8h-.8zM141.9 227.3h.8v.8h-.8zM148.3 213.6h.8v.8h-.8zM143.3 226.6h.8v.8h-.8zM152.2 224.3h.8v.8h-.8zM149.4 211.3h.8v.8h-.8zM173.1 192.3h.8v.8h-.8zM155.2 207.4h.8v.8h-.8zM152.9 205.3h.8v.8h-.8zM144.6 218.9h.8v.8h-.8zM155.0 211.7h.8v.8h-.8zM149.4 223.4h.8v.8h-.8zM151.4 210.7h.8v.8h-.8zM173.3 203.2h.8v.8h-.8zM169.4 205.5h.8v.8h-.8zM142.1 223.5h.8v.8h-.8zM157.9 222.3h.8v.8h-.8zM157.9 210.6h.8v.8h-.8zM151.6 203.8h.8v.8h-.8zM148.8 221.1h.8v.8h-.8zM165.9 207.1h.8v.8h-.8zM167.8 195.3h.8v.8h-.8zM142.6 224.3h.8v.8h-.8zM158.6 192.7h.8v.8h-.8zM152.3 211.3h.8v.8h-.8zM153.5 222.5h.8v.8h-.8zM151.1 213.7h.8v.8h-.8zM155.0 209.8h.8v.8h-.8zM149.6 208.1h.8v.8h-.8zM152.9 227.2h.8v.8h-.8zM174.7 190.3h.8v.8h-.8zM150.2 211.6h.8v.8h-.8zM158.1 199.4h.8v.8h-.8zM170.0 214.1h.8v.8h-.8zM147.2 219.8h.8v.8h-.8zM155.1 208.8h.8v.8h-.8zM165.7 213.0h.8v.8h-.8zM142.3 225.9h.8v.8h-.8zM165.8 205.5h.8v.8h-.8zM143.2 226.5h.8v.8h-.8zM159.5 191.6h.8v.8h-.8zM146.6 222.0h.8v.8h-.8zM150.9 203.7h.8v.8h-.8zM149.2 221.9h.8v.8h-.8zM152.3 211.6h.8v.8h-.8zM144.0 225.3h.8v.8h-.8zM145.3 225.8h.8v.8h-.8zM150.1 221.3h.8v.8h-.8zM159.2 200.0h.8v.8h-.8zM153.1 201.3h.8v.8h-.8zM150.6 213.2h.8v.8h-.8zM155.0 208.2h.8v.8h-.8zM150.1 204.8h.8v.8h-.8zM148.8 222.5h.8v.8h-.8zM157.8 217.8h.8v.8h-.8zM151.3 212.2h.8v.8h-.8zM147.5 220.5h.8v.8h-.8zM146.7 229.3h.8v.8h-.8zM166.4 213.0h.8v.8h-.8zM146.6 216.9h.8v.8h-.8zM152.5 194.2h.8v.8h-.8zM153.8 206.4h.8v.8h-.8zM146.2 216.4h.8v.8h-.8zM152.3 218.9h.8v.8h-.8zM148.6 218.8h.8v.8h-.8zM154.1 214.8h.8v.8h-.8zM148.2 224.0h.8v.8h-.8zM143.9 226.6h.8v.8h-.8zM143.5 224.4h.8v.8h-.8zM153.4 203.9h.8v.8h-.8zM144.8 224.7h.8v.8h-.8zM157.3 199.8h.8v.8h-.8zM144.4 225.0h.8v.8h-.8zM164.9 213.3h.8v.8h-.8zM185.2 164.2h.8v.8h-.8zM141.5 227.8h.8v.8h-.8zM147.7 225.2h.8v.8h-.8zM164.7 176.3h.8v.8h-.8zM140.4 223.0h.8v.8h-.8zM146.6 218.3h.8v.8h-.8zM153.5 221.8h.8v.8h-.8zM180.0 202.9h.8v.8h-.8zM168.8 200.3h.8v.8h-.8zM149.2 214.0h.8v.8h-.8zM163.8 196.1h.8v.8h-.8zM145.7 227.2h.8v.8h-.8zM150.5 219.2h.8v.8h-.8zM147.1 217.4h.8v.8h-.8zM150.2 223.4h.8v.8h-.8zM158.5 206.0h.8v.8h-.8zM168.2 203.4h.8v.8h-.8zM148.0 221.1h.8v.8h-.8zM142.6 223.6h.8v.8h-.8zM166.6 200.1h.8v.8h-.8zM144.7 219.5h.8v.8h-.8zM162.5 217.6h.8v.8h-.8zM152.1 208.5h.8v.8h-.8zM163.0 206.6h.8v.8h-.8zM174.3 177.9h.8v.8h-.8zM147.0 221.7h.8v.8h-.8zM148.9 210.1h.8v.8h-.8zM152.5 220.5h.8v.8h-.8zM170.5 212.7h.8v.8h-.8zM144.8 226.3h.8v.8h-.8zM153.6 211.5h.8v.8h-.8zM152.7 215.0h.8v.8h-.8zM155.5 214.9h.8v.8h-.8zM143.9 228.0h.8v.8h-.8zM157.7 214.7h.8v.8h-.8zM139.8 230.7h.8v.8h-.8zM154.2 219.0h.8v.8h-.8zM145.0 216.3h.8v.8h-.8zM166.5 205.1h.8v.8h-.8zM147.8 217.0h.8v.8h-.8zM150.0 216.7h.8v.8h-.8zM156.4 196.1h.8v.8h-.8zM148.4 216.9h.8v.8h-.8zM165.3 196.4h.8v.8h-.8zM150.7 210.3h.8v.8h-.8zM151.0 223.6h.8v.8h-.8zM152.5 221.4h.8v.8h-.8zM153.3 204.9h.8v.8h-.8zM162.4 193.8h.8v.8h-.8zM175.3 200.9h.8v.8h-.8zM160.7 220.6h.8v.8h-.8zM154.2 208.7h.8v.8h-.8zM145.5 217.9h.8v.8h-.8zM147.4 215.2h.8v.8h-.8zM159.2 198.9h.8v.8h-.8zM166.0 207.0h.8v.8h-.8zM142.7 226.2h.8v.8h-.8zM165.1 200.9h.8v.8h-.8zM144.2 224.5h.8v.8h-.8zM150.0 218.1h.8v.8h-.8zM161.9 197.3h.8v.8h-.8zM147.9 222.1h.8v.8h-.8zM162.1 213.2h.8v.8h-.8zM145.9 218.6h.8v.8h-.8zM142.0 219.4h.8v.8h-.8zM156.0 206.3h.8v.8h-.8zM150.8 218.5h.8v.8h-.8zM152.3 216.2h.8v.8h-.8zM151.8 202.6h.8v.8h-.8zM145.4 225.6h.8v.8h-.8zM151.1 214.9h.8v.8h-.8zM149.0 211.8h.8v.8h-.8zM157.3 196.5h.8v.8h-.8zM146.2 223.9h.8v.8h-.8zM157.2 217.1h.8v.8h-.8zM142.3 225.8h.8v.8h-.8zM161.3 215.4h.8v.8h-.8zM143.5 225.6h.8v.8h-.8zM160.9 200.6h.8v.8h-.8zM160.9 201.4h.8v.8h-.8zM185.0 190.1h.8v.8h-.8zM157.8 198.6h.8v.8h-.8zM151.0 211.0h.8v.8h-.8zM168.5 209.8h.8v.8h-.8zM143.8 222.0h.8v.8h-.8zM158.9 214.2h.8v.8h-.8zM154.2 211.1h.8v.8h-.8zM153.9 206.8h.8v.8h-.8zM148.8 218.8h.8v.8h-.8zM160.0 204.4h.8v.8h-.8zM156.2 209.0h.8v.8h-.8zM151.1 213.9h.8v.8h-.8zM167.5 193.2h.8v.8h-.8zM162.9 187.9h.8v.8h-.8zM163.5 213.2h.8v.8h-.8zM156.6 208.2h.8v.8h-.8zM142.1 223.7h.8v.8h-.8zM153.0 225.7h.8v.8h-.8zM151.6 215.9h.8v.8h-.8zM143.2 227.2h.8v.8h-.8zM149.4 223.9h.8v.8h-.8zM147.1 220.8h.8v.8h-.8zM147.0 224.1h.8v.8h-.8zM166.2 215.0h.8v.8h-.8zM147.0 221.0h.8v.8h-.8zM158.6 191.0h.8v.8h-.8zM146.6 220.4h.8v.8h-.8zM144.4 224.8h.8v.8h-.8zM146.2 225.6h.8v.8h-.8zM149.8 217.4h.8v.8h-.8zM142.8 226.6h.8v.8h-.8zM148.1 218.0h.8v.8h-.8zM143.5 228.4h.8v.8h-.8zM145.1 222.7h.8v.8h-.8zM146.7 219.5h.8v.8h-.8zM168.1 191.5h.8v.8h-.8zM169.8 203.2h.8v.8h-.8zM156.9 201.2h.8v.8h-.8zM148.5 215.2h.8v.8h-.8zM146.3 217.9h.8v.8h-.8zM151.2 206.8h.8v.8h-.8zM152.7 211.0h.8v.8h-.8zM143.2 227.3h.8v.8h-.8zM146.5 220.7h.8v.8h-.8zM153.4 217.2h.8v.8h-.8zM150.1 216.3h.8v.8h-.8zM171.7 193.8h.8v.8h-.8zM153.4 201.7h.8v.8h-.8zM167.2 210.4h.8v.8h-.8zM176.5 199.8h.8v.8h-.8zM147.6 220.0h.8v.8h-.8zM154.3 211.1h.8v.8h-.8zM144.1 223.4h.8v.8h-.8zM164.3 197.2h.8v.8h-.8zM161.1 208.8h.8v.8h-.8zM154.1 205.9h.8v.8h-.8zM144.1 224.0h.8v.8h-.8zM150.8 220.1h.8v.8h-.8zM153.7 222.1h.8v.8h-.8zM161.9 195.4h.8v.8h-.8zM160.8 209.7h.8v.8h-.8zM156.2 213.7h.8v.8h-.8zM164.5 201.6h.8v.8h-.8zM149.3 218.1h.8v.8h-.8zM158.7 218.3h.8v.8h-.8zM152.6 213.0h.8v.8h-.8zM153.4 219.5h.8v.8h-.8zM149.9 223.0h.8v.8h-.8zM167.5 192.9h.8v.8h-.8zM154.2 197.8h.8v.8h-.8zM161.8 200.8h.8v.8h-.8zM143.5 224.8h.8v.8h-.8zM153.1 210.2h.8v.8h-.8zM164.4 199.8h.8v.8h-.8zM146.3 224.6h.8v.8h-.8zM164.4 204.1h.8v.8h-.8zM144.0 225.5h.8v.8h-.8zM150.2 210.6h.8v.8h-.8zM143.0 219.8h.8v.8h-.8zM149.8 206.5h.8v.8h-.8zM148.4 226.0h.8v.8h-.8zM153.2 218.7h.8v.8h-.8zM149.9 215.3h.8v.8h-.8zM152.6 206.2h.8v.8h-.8zM160.0 199.4h.8v.8h-.8zM146.1 222.7h.8v.8h-.8zM146.0 216.7h.8v.8h-.8zM142.1 224.5h.8v.8h-.8zM152.3 211.4h.8v.8h-.8zM161.5 212.0h.8v.8h-.8zM153.1 216.3h.8v.8h-.8zM153.0 222.8h.8v.8h-.8zM149.7 211.5h.8v.8h-.8zM150.8 224.7h.8v.8h-.8zM145.9 223.4h.8v.8h-.8zM154.4 221.3h.8v.8h-.8zM157.6 205.1h.8v.8h-.8zM146.3 222.0h.8v.8h-.8zM162.0 205.5h.8v.8h-.8zM145.6 224.6h.8v.8h-.8zM165.4 205.8h.8v.8h-.8zM149.4 213.5h.8v.8h-.8zM154.6 221.0h.8v.8h-.8zM145.9 209.2h.8v.8h-.8zM156.3 184.3h.8v.8h-.8zM147.4 221.6h.8v.8h-.8zM148.0 220.2h.8v.8h-.8zM146.7 220.7h.8v.8h-.8zM147.7 210.9h.8v.8h-.8zM154.8 211.0h.8v.8h-.8zM146.4 227.0h.8v.8h-.8zM173.9 183.7h.8v.8h-.8zM147.2 220.0h.8v.8h-.8zM142.8 226.2h.8v.8h-.8zM143.8 227.7h.8v.8h-.8zM168.4 210.9h.8v.8h-.8zM168.1 203.1h.8v.8h-.8zM144.7 218.3h.8v.8h-.8zM142.3 229.4h.8v.8h-.8zM150.7 215.7h.8v.8h-.8zM163.0 195.9h.8v.8h-.8zM143.8 219.1h.8v.8h-.8zM147.9 215.5h.8v.8h-.8zM143.5 221.0h.8v.8h-.8zM145.8 217.9h.8v.8h-.8zM157.2 213.2h.8v.8h-.8zM144.0 223.4h.8v.8h-.8zM158.9 215.5h.8v.8h-.8zM147.5 205.1h.8v.8h-.8zM172.4 171.6h.8v.8h-.8zM141.5 230.2h.8v.8h-.8zM168.7 203.7h.8v.8h-.8zM147.2 217.9h.8v.8h-.8zM155.6 216.5h.8v.8h-.8zM156.9 206.7h.8v.8h-.8zM146.2 219.4h.8v.8h-.8zM148.1 220.6h.8v.8h-.8zM153.0 224.8h.8v.8h-.8zM153.9 222.2h.8v.8h-.8zM171.0 180.5h.8v.8h-.8zM150.6 220.4h.8v.8h-.8zM144.3 224.9h.8v.8h-.8zM148.8 217.4h.8v.8h-.8zM168.8 206.8h.8v.8h-.8zM147.8 218.6h.8v.8h-.8zM166.4 214.2h.8v.8h-.8zM160.9 206.3h.8v.8h-.8zM147.0 218.6h.8v.8h-.8zM156.1 188.3h.8v.8h-.8zM157.4 194.5h.8v.8h-.8zM141.6 222.9h.8v.8h-.8zM153.7 201.5h.8v.8h-.8zM158.1 199.0h.8v.8h-.8zM161.0 200.6h.8v.8h-.8zM141.1 225.2h.8v.8h-.8zM162.4 210.6h.8v.8h-.8zM156.3 215.7h.8v.8h-.8zM158.0 214.7h.8v.8h-.8zM157.2 216.8h.8v.8h-.8zM166.7 206.9h.8v.8h-.8zM182.7 171.7h.8v.8h-.8zM196.8 184.2h.8v.8h-.8zM148.9 220.2h.8v.8h-.8zM152.9 215.4h.8v.8h-.8zM143.9 225.0h.8v.8h-.8zM141.2 229.5h.8v.8h-.8zM150.4 220.7h.8v.8h-.8zM146.2 223.4h.8v.8h-.8zM146.9 217.9h.8v.8h-.8zM148.4 218.4h.8v.8h-.8zM147.8 220.1h.8v.8h-.8zM150.4 218.9h.8v.8h-.8zM155.8 199.1h.8v.8h-.8zM145.6 227.4h.8v.8h-.8zM149.5 226.8h.8v.8h-.8zM159.4 218.5h.8v.8h-.8zM144.2 220.6h.8v.8h-.8zM161.8 201.7h.8v.8h-.8zM161.9 212.8h.8v.8h-.8zM142.3 225.9h.8v.8h-.8zM147.4 218.5h.8v.8h-.8zM146.8 219.6h.8v.8h-.8zM153.5 212.9h.8v.8h-.8zM165.8 200.1h.8v.8h-.8zM144.5 218.8h.8v.8h-.8zM155.6 207.9h.8v.8h-.8zM155.1 210.9h.8v.8h-.8zM162.5 208.3h.8v.8h-.8zM174.6 183.9h.8v.8h-.8zM163.8 193.4h.8v.8h-.8zM150.7 223.6h.8v.8h-.8zM153.3 210.0h.8v.8h-.8zM140.2 230.5h.8v.8h-.8zM169.2 203.1h.8v.8h-.8zM167.4 188.3h.8v.8h-.8zM145.1 211.4h.8v.8h-.8zM164.1 209.8h.8v.8h-.8zM146.3 224.4h.8v.8h-.8zM151.8 224.2h.8v.8h-.8zM145.6 219.0h.8v.8h-.8zM156.9 202.7h.8v.8h-.8zM143.5 227.7h.8v.8h-.8zM156.5 193.9h.8v.8h-.8zM159.6 196.5h.8v.8h-.8zM175.1 186.3h.8v.8h-.8zM146.8 219.6h.8v.8h-.8zM160.9 200.6h.8v.8h-.8zM144.5 219.3h.8v.8h-.8zM152.4 224.2h.8v.8h-.8zM149.8 208.2h.8v.8h-.8zM161.0 215.3h.8v.8h-.8zM158.0 190.6h.8v.8h-.8zM141.3 227.7h.8v.8h-.8zM163.4 198.6h.8v.8h-.8zM147.0 224.4h.8v.8h-.8zM155.1 212.5h.8v.8h-.8zM142.2 226.5h.8v.8h-.8zM152.6 208.2h.8v.8h-.8zM156.4 192.8h.8v.8h-.8zM145.7 224.7h.8v.8h-.8zM147.6 222.9h.8v.8h-.8zM152.8 216.2h.8v.8h-.8zM156.5 211.8h.8v.8h-.8zM147.1 220.3h.8v.8h-.8zM153.4 217.1h.8v.8h-.8zM154.8 208.1h.8v.8h-.8zM174.7 201.8h.8v.8h-.8zM169.5 198.8h.8v.8h-.8zM150.6 213.5h.8v.8h-.8zM154.8 220.0h.8v.8h-.8zM177.2 193.4h.8v.8h-.8zM152.0 211.8h.8v.8h-.8zM148.2 220.0h.8v.8h-.8zM182.3 182.2h.8v.8h-.8zM149.0 207.1h.8v.8h-.8zM153.4 214.3h.8v.8h-.8zM148.1 219.2h.8v.8h-.8zM147.5 223.9h.8v.8h-.8zM164.6 203.0h.8v.8h-.8zM146.4 220.4h.8v.8h-.8zM162.6 194.7h.8v.8h-.8zM166.4 207.3h.8v.8h-.8zM149.6 219.8h.8v.8h-.8zM148.2 212.3h.8v.8h-.8zM154.8 209.1h.8v.8h-.8zM170.0 207.4h.8v.8h-.8zM153.0 214.5h.8v.8h-.8zM166.0 194.9h.8v.8h-.8zM149.3 222.6h.8v.8h-.8zM153.7 220.0h.8v.8h-.8zM145.4 222.0h.8v.8h-.8zM162.0 204.1h.8v.8h-.8zM140.4 226.7h.8v.8h-.8zM159.1 214.4h.8v.8h-.8zM151.4 214.5h.8v.8h-.8zM144.5 223.2h.8v.8h-.8zM160.5 213.8h.8v.8h-.8zM150.4 213.8h.8v.8h-.8zM142.2 228.8h.8v.8h-.8zM167.3 183.2h.8v.8h-.8zM149.8 224.6h.8v.8h-.8zM150.6 218.7h.8v.8h-.8zM145.0 223.5h.8v.8h-.8zM162.5 193.3h.8v.8h-.8zM144.7 227.2h.8v.8h-.8zM171.8 207.2h.8v.8h-.8zM144.4 222.4h.8v.8h-.8zM151.7 217.9h.8v.8h-.8zM144.6 221.8h.8v.8h-.8zM161.5 214.1h.8v.8h-.8zM179.3 192.8h.8v.8h-.8zM150.2 222.1h.8v.8h-.8zM155.6 216.3h.8v.8h-.8zM149.3 215.8h.8v.8h-.8zM159.8 212.2h.8v.8h-.8zM154.1 207.4h.8v.8h-.8zM151.3 220.4h.8v.8h-.8zM163.1 212.1h.8v.8h-.8zM148.9 217.3h.8v.8h-.8zM148.6 217.4h.8v.8h-.8zM141.9 221.9h.8v.8h-.8zM159.3 222.7h.8v.8h-.8zM162.0 209.6h.8v.8h-.8zM147.0 220.0h.8v.8h-.8zM152.7 215.8h.8v.8h-.8zM149.2 206.0h.8v.8h-.8zM162.1 206.5h.8v.8h-.8zM162.9 198.3h.8v.8h-.8zM156.8 212.9h.8v.8h-.8zM162.0 218.7h.8v.8h-.8zM169.5 217.8h.8v.8h-.8zM152.0 223.4h.8v.8h-.8zM156.5 223.7h.8v.8h-.8zM149.9 214.2h.8v.8h-.8zM149.8 218.3h.8v.8h-.8zM155.7 221.9h.8v.8h-.8zM147.3 219.9h.8v.8h-.8zM150.6 207.7h.8v.8h-.8zM150.7 220.5h.8v.8h-.8zM175.8 200.3h.8v.8h-.8zM151.5 219.9h.8v.8h-.8zM166.3 196.6h.8v.8h-.8zM144.8 219.3h.8v.8h-.8zM163.3 194.0h.8v.8h-.8zM146.4 220.2h.8v.8h-.8zM150.3 216.6h.8v.8h-.8zM166.9 202.8h.8v.8h-.8zM151.1 224.2h.8v.8h-.8zM157.9 204.1h.8v.8h-.8zM165.3 194.0h.8v.8h-.8zM150.6 220.7h.8v.8h-.8zM154.2 213.4h.8v.8h-.8zM172.8 200.3h.8v.8h-.8zM147.5 224.7h.8v.8h-.8zM168.9 184.7h.8v.8h-.8zM166.0 204.3h.8v.8h-.8zM152.7 214.0h.8v.8h-.8zM151.0 218.9h.8v.8h-.8zM159.0 209.1h.8v.8h-.8zM153.5 203.2h.8v.8h-.8zM169.9 212.4h.8v.8h-.8zM147.5 223.0h.8v.8h-.8zM144.6 213.2h.8v.8h-.8zM156.5 206.5h.8v.8h-.8zM156.4 207.4h.8v.8h-.8zM149.3 214.1h.8v.8h-.8zM162.3 187.9h.8v.8h-.8zM159.5 201.4h.8v.8h-.8zM144.5 226.4h.8v.8h-.8zM165.1 200.7h.8v.8h-.8zM165.0 174.2h.8v.8h-.8zM148.1 222.8h.8v.8h-.8zM148.3 226.0h.8v.8h-.8zM146.8 221.0h.8v.8h-.8zM150.4 214.5h.8v.8h-.8zM148.0 217.8h.8v.8h-.8zM159.7 203.5h.8v.8h-.8zM176.7 194.2h.8v.8h-.8zM151.2 206.3h.8v.8h-.8zM142.3 221.3h.8v.8h-.8zM150.2 221.9h.8v.8h-.8zM143.1 220.0h.8v.8h-.8zM157.4 203.0h.8v.8h-.8zM155.0 218.6h.8v.8h-.8zM157.2 207.9h.8v.8h-.8zM161.0 201.6h.8v.8h-.8zM169.1 183.2h.8v.8h-.8zM147.9 217.8h.8v.8h-.8zM149.6 212.4h.8v.8h-.8zM176.7 178.0h.8v.8h-.8zM160.6 189.6h.8v.8h-.8zM155.3 212.0h.8v.8h-.8zM150.5 212.1h.8v.8h-.8zM172.4 205.9h.8v.8h-.8zM145.6 223.4h.8v.8h-.8zM149.2 203.5h.8v.8h-.8zM167.1 206.7h.8v.8h-.8zM154.4 175.9h.8v.8h-.8zM141.7 220.0h.8v.8h-.8zM154.4 212.2h.8v.8h-.8zM186.8 195.1h.8v.8h-.8zM150.5 214.9h.8v.8h-.8zM163.5 213.6h.8v.8h-.8zM146.3 217.1h.8v.8h-.8zM153.7 219.3h.8v.8h-.8zM155.1 212.5h.8v.8h-.8zM159.6 218.4h.8v.8h-.8zM161.2 206.0h.8v.8h-.8zM155.2 211.4h.8v.8h-.8zM151.0 213.1h.8v.8h-.8zM144.2 221.0h.8v.8h-.8zM172.3 161.4h.8v.8h-.8zM160.7 202.3h.8v.8h-.8zM152.1 219.7h.8v.8h-.8zM143.2 223.4h.8v.8h-.8zM144.2 228.2h.8v.8h-.8zM145.3 218.9h.8v.8h-.8zM150.6 221.4h.8v.8h-.8zM178.4 184.8h.8v.8h-.8zM187.9 184.5h.8v.8h-.8zM164.1 212.7h.8v.8h-.8zM141.1 229.8h.8v.8h-.8zM173.7 183.9h.8v.8h-.8zM174.3 202.8h.8v.8h-.8zM144.4 220.0h.8v.8h-.8zM151.7 218.2h.8v.8h-.8zM151.7 216.5h.8v.8h-.8zM162.8 205.3h.8v.8h-.8zM154.5 211.6h.8v.8h-.8zM147.3 219.6h.8v.8h-.8zM149.2 216.3h.8v.8h-.8zM149.9 219.0h.8v.8h-.8zM147.7 204.2h.8v.8h-.8zM145.1 219.4h.8v.8h-.8zM148.9 215.5h.8v.8h-.8zM160.8 205.0h.8v.8h-.8zM165.4 201.2h.8v.8h-.8zM146.8 213.4h.8v.8h-.8zM153.8 220.4h.8v.8h-.8zM145.7 225.0h.8v.8h-.8zM160.1 208.7h.8v.8h-.8zM156.1 201.0h.8v.8h-.8zM146.2 219.0h.8v.8h-.8zM165.2 181.1h.8v.8h-.8zM158.8 210.9h.8v.8h-.8zM150.5 213.3h.8v.8h-.8zM159.1 203.0h.8v.8h-.8zM142.5 226.8h.8v.8h-.8zM147.7 217.3h.8v.8h-.8zM159.0 193.9h.8v.8h-.8zM157.5 203.0h.8v.8h-.8zM147.1 217.5h.8v.8h-.8zM148.5 224.0h.8v.8h-.8zM162.2 199.4h.8v.8h-.8zM151.7 219.4h.8v.8h-.8zM147.8 220.9h.8v.8h-.8zM156.1 202.6h.8v.8h-.8zM166.8 219.4h.8v.8h-.8zM161.8 208.7h.8v.8h-.8zM152.7 205.7h.8v.8h-.8zM146.5 217.1h.8v.8h-.8zM156.0 218.9h.8v.8h-.8zM146.6 224.5h.8v.8h-.8zM146.7 226.9h.8v.8h-.8zM143.3 222.2h.8v.8h-.8zM153.2 215.3h.8v.8h-.8zM156.5 210.1h.8v.8h-.8zM146.1 227.0h.8v.8h-.8zM156.6 211.2h.8v.8h-.8zM161.8 207.0h.8v.8h-.8zM162.8 221.6h.8v.8h-.8zM176.2 202.7h.8v.8h-.8zM143.1 230.9h.8v.8h-.8zM142.9 227.4h.8v.8h-.8zM168.1 199.1h.8v.8h-.8zM149.5 207.9h.8v.8h-.8zM166.8 217.4h.8v.8h-.8zM163.2 184.0h.8v.8h-.8zM147.8 218.4h.8v.8h-.8zM160.2 197.0h.8v.8h-.8zM146.3 222.9h.8v.8h-.8zM146.0 224.8h.8v.8h-.8zM151.2 205.3h.8v.8h-.8zM146.4 227.3h.8v.8h-.8zM168.3 176.3h.8v.8h-.8zM149.3 211.9h.8v.8h-.8zM146.7 219.5h.8v.8h-.8zM151.6 216.9h.8v.8h-.8zM145.6 219.9h.8v.8h-.8zM167.2 190.6h.8v.8h-.8zM162.0 214.1h.8v.8h-.8zM149.5 216.6h.8v.8h-.8zM152.9 213.5h.8v.8h-.8zM164.1 194.0h.8v.8h-.8zM147.4 215.9h.8v.8h-.8zM149.1 212.4h.8v.8h-.8zM147.4 218.4h.8v.8h-.8zM155.8 211.3h.8v.8h-.8zM147.4 221.2h.8v.8h-.8zM142.9 227.7h.8v.8h-.8zM142.3 229.5h.8v.8h-.8zM151.0 212.1h.8v.8h-.8zM157.3 204.6h.8v.8h-.8zM164.1 194.4h.8v.8h-.8zM147.1 218.6h.8v.8h-.8zM154.0 211.0h.8v.8h-.8zM168.0 202.5h.8v.8h-.8zM162.5 205.3h.8v.8h-.8zM146.2 221.8h.8v.8h-.8zM149.6 206.0h.8v.8h-.8zM158.9 199.2h.8v.8h-.8zM147.4 218.9h.8v.8h-.8zM144.8 223.9h.8v.8h-.8zM173.5 185.7h.8v.8h-.8zM154.7 211.7h.8v.8h-.8zM185.6 186.9h.8v.8h-.8zM143.3 215.6h.8v.8h-.8zM158.3 216.0h.8v.8h-.8zM156.5 207.5h.8v.8h-.8zM145.4 225.6h.8v.8h-.8zM149.4 222.3h.8v.8h-.8zM149.3 203.0h.8v.8h-.8zM150.5 214.9h.8v.8h-.8zM148.8 226.2h.8v.8h-.8zM145.4 218.7h.8v.8h-.8zM148.7 198.8h.8v.8h-.8zM152.6 209.0h.8v.8h-.8zM158.1 218.8h.8v.8h-.8zM158.7 198.1h.8v.8h-.8zM152.9 215.7h.8v.8h-.8zM144.1 222.4h.8v.8h-.8zM147.9 214.8h.8v.8h-.8zM141.9 227.9h.8v.8h-.8zM168.1 207.7h.8v.8h-.8zM159.3 205.5h.8v.8h-.8zM165.4 206.4h.8v.8h-.8zM145.7 218.1h.8v.8h-.8zM158.2 205.8h.8v.8h-.8zM162.1 205.3h.8v.8h-.8zM144.3 228.8h.8v.8h-.8zM157.0 219.8h.8v.8h-.8zM151.4 214.7h.8v.8h-.8zM159.2 199.0h.8v.8h-.8zM157.7 203.1h.8v.8h-.8zM148.5 205.3h.8v.8h-.8zM143.3 223.9h.8v.8h-.8zM163.7 212.0h.8v.8h-.8zM145.5 212.3h.8v.8h-.8zM154.6 198.8h.8v.8h-.8zM143.7 226.9h.8v.8h-.8zM146.9 223.2h.8v.8h-.8zM141.0 224.7h.8v.8h-.8zM153.3 204.4h.8v.8h-.8zM152.1 206.1h.8v.8h-.8zM177.8 196.2h.8v.8h-.8zM162.6 204.4h.8v.8h-.8zM175.8 197.2h.8v.8h-.8zM178.4 190.3h.8v.8h-.8z" fill="#F07E31" fill-opacity="0.9"/>
<line x1="139.30" y1="133.70" x2="139.30" y2="231.80" stroke="#808080" stroke-width="1"/>
<line x1="139.30" y1="231.80" x2="231.10" y2="231.80" stroke="#808080" stroke-width="1"/>
<line x1="137.50" y1="231.80" x2="139.30" y2="231.80" stroke="#808080" stroke-width="0.8"/>
<text x="133.30" y="234.15" font-size="6.7" text-anchor="end">0</text>
<line x1="139.60" y1="231.80" x2="139.60" y2="233.80" stroke="#808080" stroke-width="0.8"/>
<text x="139.80" y="243.80" font-size="6.7" text-anchor="middle">0</text>
<line x1="137.50" y1="212.18" x2="139.30" y2="212.18" stroke="#808080" stroke-width="0.8"/>
<text x="133.30" y="214.53" font-size="6.7" text-anchor="end">100</text>
<line x1="157.90" y1="231.80" x2="157.90" y2="233.80" stroke="#808080" stroke-width="0.8"/>
<text x="158.10" y="243.80" font-size="6.7" text-anchor="middle">100</text>
<line x1="137.50" y1="192.56" x2="139.30" y2="192.56" stroke="#808080" stroke-width="0.8"/>
<text x="133.30" y="194.91" font-size="6.7" text-anchor="end">200</text>
<line x1="176.20" y1="231.80" x2="176.20" y2="233.80" stroke="#808080" stroke-width="0.8"/>
<text x="176.40" y="243.80" font-size="6.7" text-anchor="middle">200</text>
<line x1="137.50" y1="172.94" x2="139.30" y2="172.94" stroke="#808080" stroke-width="0.8"/>
<text x="133.30" y="175.29" font-size="6.7" text-anchor="end">300</text>
<line x1="194.50" y1="231.80" x2="194.50" y2="233.80" stroke="#808080" stroke-width="0.8"/>
<text x="194.70" y="243.80" font-size="6.7" text-anchor="middle">300</text>
<line x1="137.50" y1="153.32" x2="139.30" y2="153.32" stroke="#808080" stroke-width="0.8"/>
<text x="133.30" y="155.67" font-size="6.7" text-anchor="end">400</text>
<line x1="212.80" y1="231.80" x2="212.80" y2="233.80" stroke="#808080" stroke-width="0.8"/>
<text x="213.00" y="243.80" font-size="6.7" text-anchor="middle">400</text>
<line x1="137.50" y1="133.70" x2="139.30" y2="133.70" stroke="#808080" stroke-width="0.8"/>
<text x="133.30" y="136.05" font-size="6.7" text-anchor="end">500</text>
<line x1="231.10" y1="231.80" x2="231.10" y2="233.80" stroke="#808080" stroke-width="0.8"/>
<text x="231.30" y="243.80" font-size="6.7" text-anchor="middle">500</text>
<text x="144.00" y="140.20" font-size="6.5" text-anchor="start" textLength="47.2" lengthAdjust="spacingAndGlyphs">P_ERA5_month</text>
<text x="144.00" y="148.70" font-size="6.5" text-anchor="start" textLength="15.7" lengthAdjust="spacingAndGlyphs">(mm)</text>
<text x="193.80" y="226.20" font-size="6.5" text-anchor="start" textLength="38" lengthAdjust="spacingAndGlyphs">P_OBS (mm)</text>
<text x="200.70" y="143.60" font-size="6.6" text-anchor="start" textLength="3.6" lengthAdjust="spacingAndGlyphs">R</text>
<text x="204.40" y="142.00" font-size="4.4" text-anchor="start" textLength="2.0" lengthAdjust="spacingAndGlyphs">2</text>
<text x="209.10" y="143.60" font-size="6.4" text-anchor="start" textLength="3.4" lengthAdjust="spacingAndGlyphs">=</text>
<text x="214.70" y="143.60" font-size="6.6" text-anchor="start" textLength="12.5" lengthAdjust="spacingAndGlyphs">0.91</text>
</svg></body></html>
